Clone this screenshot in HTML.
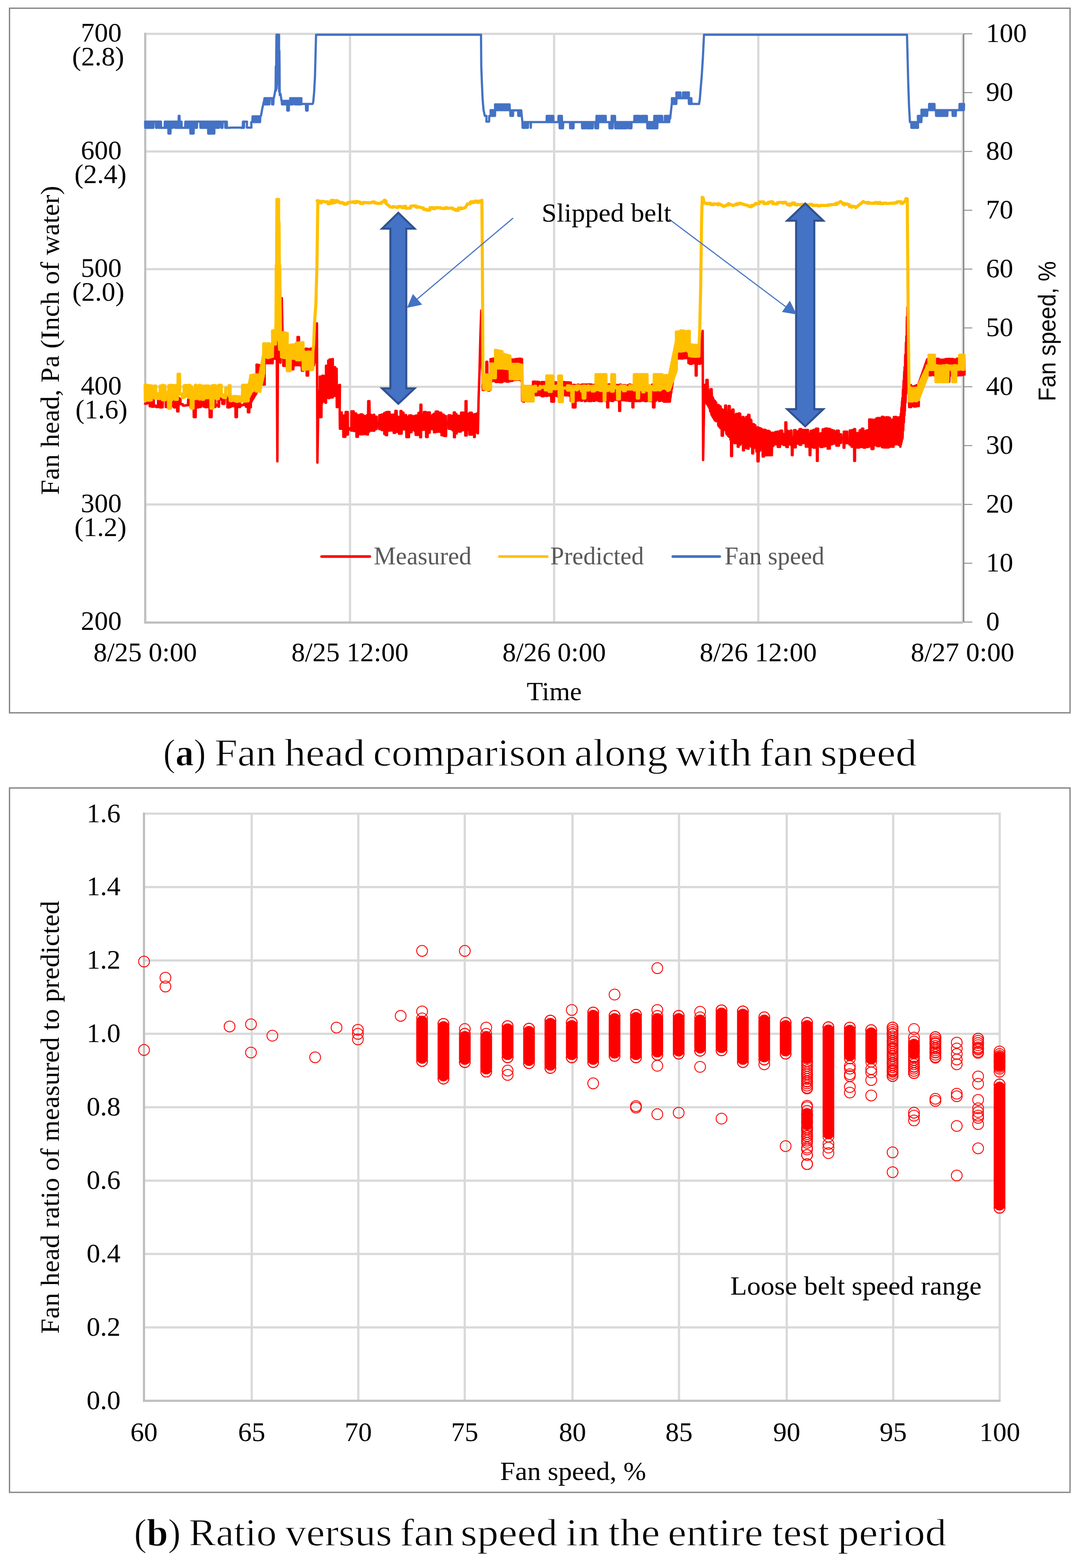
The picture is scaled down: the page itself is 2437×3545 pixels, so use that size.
<!DOCTYPE html>
<html><head><meta charset="utf-8"><title>Fan head comparison</title>
<style>html,body{margin:0;padding:0;background:#fff;}svg{display:block;}</style>
</head><body>
<svg xmlns="http://www.w3.org/2000/svg" width="2437" height="3545" viewBox="0 0 2437 3545">
<rect x="0" y="0" width="2437" height="3545" fill="#fff"/>
<rect x="21.5" y="18.6" width="2397.5" height="1593" fill="none" stroke="#868686" stroke-width="3"/>
<line x1="328.3" y1="76.4" x2="2176.5" y2="76.4" stroke="#d9d9d9" stroke-width="5"/>
<line x1="328.3" y1="342.4" x2="2176.5" y2="342.4" stroke="#d9d9d9" stroke-width="5"/>
<line x1="328.3" y1="608.4" x2="2176.5" y2="608.4" stroke="#d9d9d9" stroke-width="5"/>
<line x1="328.3" y1="874.4" x2="2176.5" y2="874.4" stroke="#d9d9d9" stroke-width="5"/>
<line x1="328.3" y1="1140.4" x2="2176.5" y2="1140.4" stroke="#d9d9d9" stroke-width="5"/>
<line x1="791.2" y1="76.4" x2="791.2" y2="1406.4" stroke="#d9d9d9" stroke-width="5"/>
<line x1="1252.7" y1="76.4" x2="1252.7" y2="1406.4" stroke="#d9d9d9" stroke-width="5"/>
<line x1="1714.2" y1="76.4" x2="1714.2" y2="1406.4" stroke="#d9d9d9" stroke-width="5"/>
<line x1="2175.5" y1="73.9" x2="2175.5" y2="1406.4" stroke="#d9d9d9" stroke-width="3"/>
<line x1="328.3" y1="73.9" x2="328.3" y2="1408.9" stroke="#bfbfbf" stroke-width="5"/>
<line x1="325.8" y1="1407.4" x2="2177" y2="1407.4" stroke="#bfbfbf" stroke-width="5"/>
<line x1="2178.5" y1="76.4" x2="2178.5" y2="1406.4" stroke="#868686" stroke-width="3"/>
<line x1="2178" y1="76.4" x2="2198" y2="76.4" stroke="#868686" stroke-width="2"/>
<line x1="2178" y1="209.4" x2="2198" y2="209.4" stroke="#868686" stroke-width="2"/>
<line x1="2178" y1="342.4" x2="2198" y2="342.4" stroke="#868686" stroke-width="2"/>
<line x1="2178" y1="475.4" x2="2198" y2="475.4" stroke="#868686" stroke-width="2"/>
<line x1="2178" y1="608.4" x2="2198" y2="608.4" stroke="#868686" stroke-width="2"/>
<line x1="2178" y1="741.4" x2="2198" y2="741.4" stroke="#868686" stroke-width="2"/>
<line x1="2178" y1="874.4" x2="2198" y2="874.4" stroke="#868686" stroke-width="2"/>
<line x1="2178" y1="1007.4" x2="2198" y2="1007.4" stroke="#868686" stroke-width="2"/>
<line x1="2178" y1="1140.4" x2="2198" y2="1140.4" stroke="#868686" stroke-width="2"/>
<line x1="2178" y1="1273.4" x2="2198" y2="1273.4" stroke="#868686" stroke-width="2"/>
<line x1="2178" y1="1406.4" x2="2198" y2="1406.4" stroke="#868686" stroke-width="2"/>
<text x="275" y="93.9" font-family="Liberation Serif, Times New Roman, serif" font-size="61.5" text-anchor="end" fill="#000">700</text>
<text x="280.8" y="147.9" font-family="Liberation Serif, Times New Roman, serif" font-size="61.5" text-anchor="end" fill="#000">(2.8)</text>
<text x="275" y="359.9" font-family="Liberation Serif, Times New Roman, serif" font-size="61.5" text-anchor="end" fill="#000">600</text>
<text x="286" y="413.9" font-family="Liberation Serif, Times New Roman, serif" font-size="61.5" text-anchor="end" fill="#000">(2.4)</text>
<text x="275" y="625.9" font-family="Liberation Serif, Times New Roman, serif" font-size="61.5" text-anchor="end" fill="#000">500</text>
<text x="281.3" y="679.9" font-family="Liberation Serif, Times New Roman, serif" font-size="61.5" text-anchor="end" fill="#000">(2.0)</text>
<text x="275" y="891.9" font-family="Liberation Serif, Times New Roman, serif" font-size="61.5" text-anchor="end" fill="#000">400</text>
<text x="288.3" y="945.9" font-family="Liberation Serif, Times New Roman, serif" font-size="61.5" text-anchor="end" fill="#000">(1.6)</text>
<text x="275" y="1157.9" font-family="Liberation Serif, Times New Roman, serif" font-size="61.5" text-anchor="end" fill="#000">300</text>
<text x="286" y="1211.9" font-family="Liberation Serif, Times New Roman, serif" font-size="61.5" text-anchor="end" fill="#000">(1.2)</text>
<text x="275" y="1423.9" font-family="Liberation Serif, Times New Roman, serif" font-size="61.5" text-anchor="end" fill="#000">200</text>
<text x="2229" y="95.4" font-family="Liberation Serif, Times New Roman, serif" font-size="61.5" fill="#000">100</text>
<text x="2229" y="228.4" font-family="Liberation Serif, Times New Roman, serif" font-size="61.5" fill="#000">90</text>
<text x="2229" y="361.4" font-family="Liberation Serif, Times New Roman, serif" font-size="61.5" fill="#000">80</text>
<text x="2229" y="494.4" font-family="Liberation Serif, Times New Roman, serif" font-size="61.5" fill="#000">70</text>
<text x="2229" y="627.4" font-family="Liberation Serif, Times New Roman, serif" font-size="61.5" fill="#000">60</text>
<text x="2229" y="760.4" font-family="Liberation Serif, Times New Roman, serif" font-size="61.5" fill="#000">50</text>
<text x="2229" y="893.4" font-family="Liberation Serif, Times New Roman, serif" font-size="61.5" fill="#000">40</text>
<text x="2229" y="1026.4" font-family="Liberation Serif, Times New Roman, serif" font-size="61.5" fill="#000">30</text>
<text x="2229" y="1159.4" font-family="Liberation Serif, Times New Roman, serif" font-size="61.5" fill="#000">20</text>
<text x="2229" y="1292.4" font-family="Liberation Serif, Times New Roman, serif" font-size="61.5" fill="#000">10</text>
<text x="2229" y="1425.4" font-family="Liberation Serif, Times New Roman, serif" font-size="61.5" fill="#000">0</text>
<text x="328.3" y="1495" font-family="Liberation Serif, Times New Roman, serif" font-size="61.5" text-anchor="middle" fill="#000">8/25 0:00</text>
<text x="791.2" y="1495" font-family="Liberation Serif, Times New Roman, serif" font-size="61.5" text-anchor="middle" fill="#000">8/25 12:00</text>
<text x="1252.7" y="1495" font-family="Liberation Serif, Times New Roman, serif" font-size="61.5" text-anchor="middle" fill="#000">8/26 0:00</text>
<text x="1714.2" y="1495" font-family="Liberation Serif, Times New Roman, serif" font-size="61.5" text-anchor="middle" fill="#000">8/26 12:00</text>
<text x="2176" y="1495" font-family="Liberation Serif, Times New Roman, serif" font-size="61.5" text-anchor="middle" fill="#000">8/27 0:00</text>
<text x="1253" y="1583" font-family="Liberation Serif, Times New Roman, serif" font-size="60" text-anchor="middle" fill="#000">Time</text>
<text transform="translate(132.5,769.5) rotate(-90)" font-family="Liberation Serif, Times New Roman, serif" font-size="60" text-anchor="middle" fill="#000" textLength="699" lengthAdjust="spacingAndGlyphs">Fan head, Pa (Inch of water)</text>
<text transform="translate(2385.6,748.8) rotate(-90)" font-family="Liberation Sans, Arial, sans-serif" font-size="56" text-anchor="middle" fill="#000" textLength="317" lengthAdjust="spacingAndGlyphs">Fan speed, %</text>
<polyline points="328,912.6 328.4,912.6 328.7,912.6 329.1,912.6 329.5,912.6 329.9,912.6 330.2,912.6 330.6,912.6 331,912.6 331.4,912.6 331.7,912.6 332.1,912.6 332.5,910.4 332.9,910.4 333.2,910.4 333.6,910.4 334,910.4 334.4,910.4 334.7,910.4 335.1,910.4 335.5,910.4 335.9,910.4 336.2,910.4 336.6,910.4 337,910.4 337.4,910.4 337.7,910.4 338.1,910.4 338.5,918.4 338.9,918.4 339.2,918.4 339.6,918.4 340,918.4 340.4,918.4 340.7,918.4 341.1,918.4 341.5,918.4 341.9,918.4 342.2,918.4 342.6,918.4 343,896.9 343.4,919.5 343.7,919.5 344.1,896.9 344.5,896.9 344.9,919.5 345.2,919.5 345.6,896.9 346,896.9 346.4,919.5 346.7,919.5 347.1,896.9 347.5,896.9 347.9,919.5 348.2,916.9 348.6,916.9 349,916.9 349.4,916.9 349.7,916.9 350.1,916.9 350.5,916.9 350.9,916.9 351.2,916.9 351.6,916.9 352,916.9 352.3,916.9 352.7,920.3 353.1,920.3 353.5,920.3 353.8,920.3 354.2,920.3 354.6,920.3 355,920.3 355.3,920.3 355.7,920.3 356.1,920.3 356.5,920.3 356.8,920.3 357.2,918.8 357.6,898.7 358,898.7 358.3,918.8 358.7,918.8 359.1,898.7 359.5,898.7 359.8,918.8 360.2,918.8 360.6,898.7 361,896.8 361.3,921 361.7,921 362.1,896.8 362.5,896.8 362.8,921 363.2,921 363.6,896.8 364,896.8 364.3,921 364.7,920.7 365.1,896.6 365.5,896.6 365.8,920.7 366.2,920.7 366.6,896.6 367,896.6 367.3,920.7 367.7,920.7 368.1,896.6 368.5,901.1 368.8,901.1 369.2,901.1 369.6,901.1 370,901.1 370.3,901.1 370.7,901.1 371.1,901.1 371.5,901.1 371.8,901.1 372.2,901.1 372.6,901.1 373,901.1 373.3,901.1 373.7,901.1 374.1,901.1 374.5,896.2 374.8,920.2 375.2,920.2 375.6,896.2 375.9,896.2 376.3,920.2 376.7,920.2 377.1,896.2 377.4,905.3 377.8,905.3 378.2,905.3 378.6,905.3 378.9,905.3 379.3,905.3 379.7,905.3 380.1,905.3 380.4,908.4 380.8,908.4 381.2,908.4 381.6,908.4 381.9,908.4 382.3,908.4 382.7,908.4 383.1,908.4 383.4,908.4 383.8,908.4 384.2,908.4 384.6,908.4 384.9,896.7 385.3,896.7 385.7,896.7 386.1,896.7 386.4,896.7 386.8,896.7 387.2,896.7 387.6,896.7 387.9,896.7 388.3,896.7 388.7,918.3 389.1,896.9 389.4,896.9 389.8,918.3 390.2,918.3 390.6,896.9 390.9,896.9 391.3,918.3 391.7,918.3 392.1,896.9 392.4,896.9 392.8,918.3 393.2,920.9 393.6,897.8 393.9,897.8 394.3,920.9 394.7,920.9 395.1,897.8 395.4,897.8 395.8,920.9 396.2,908.7 396.6,908.7 396.9,908.7 397.3,908.7 397.7,908.7 398.1,908.7 398.4,908.7 398.8,908.7 399.2,908.7 399.6,908.7 399.9,908.7 400.3,908.7 400.7,930 401,899.3 401.4,899.3 401.8,930 402.2,930 402.5,899.3 402.9,899.3 403.3,930 403.7,899.3 404,899.3 404.4,901.4 404.8,901.4 405.2,901.4 405.5,901.4 405.9,901.4 406.3,901.4 406.7,901.4 407,901.4 407.4,901.4 407.8,901.4 408.2,913.8 408.5,913.8 408.9,913.8 409.3,913.8 409.7,913.8 410,913.8 410.4,913.8 410.8,913.8 411.2,913.8 411.5,913.8 411.9,913.8 412.3,913.8 412.7,913.8 413,913.8 413.4,917 413.8,917 414.2,917 414.5,917 414.9,917 415.3,917 415.7,917 416,917 416.4,917 416.8,917 417.2,917 417.5,917 417.9,917 418.3,917 418.7,917 419,917 419.4,916.2 419.8,916.2 420.2,916.2 420.5,916.2 420.9,916.2 421.3,916.2 421.7,916.2 422,916.2 422.4,916.2 422.8,916.2 423.2,916.2 423.5,916.2 423.9,916.2 424.3,916.2 424.6,916.2 425,916.2 425.4,903.2 425.8,903.2 426.1,903.2 426.5,903.2 426.9,903.2 427.3,903.2 427.6,903.2 428,903.2 428.4,903.2 428.8,903.2 429.1,903.2 429.5,903.2 429.9,903.2 430.3,903.2 430.6,920.4 431,896.6 431.4,896.6 431.8,920.4 432.1,920.4 432.5,896.6 432.9,896.6 433.3,920.4 433.6,920.4 434,896.6 434.4,896.6 434.8,920.4 435.1,919.2 435.5,919.2 435.9,919.2 436.3,919.2 436.6,919.2 437,919.2 437.4,919.2 437.8,919.2 438.1,943 438.5,898.8 438.9,898.8 439.3,943 439.6,943 440,898.8 440.4,898.8 440.8,943 441.1,943 441.5,898.8 441.9,898.8 442.3,943 442.6,919.8 443,898.8 443.4,896.1 443.8,920.9 444.1,920.9 444.5,896.1 444.9,896.1 445.3,920.9 445.6,920.9 446,896.1 446.4,896.1 446.8,920.9 447.1,920.9 447.5,896.1 447.9,896.1 448.2,920.9 448.6,920.9 449,896.1 449.4,896.3 449.7,919.9 450.1,919.9 450.5,896.3 450.9,896.3 451.2,919.9 451.6,919.9 452,896.3 452.4,896.3 452.7,919.9 453.1,919.9 453.5,896.3 453.9,896.3 454.2,919.9 454.6,915.5 455,915.5 455.4,915.5 455.7,915.5 456.1,915.5 456.5,915.5 456.9,915.5 457.2,915.5 457.6,915.5 458,915.5 458.4,915.5 458.7,915.5 459.1,915.5 459.5,915.5 459.9,898.6 460.2,919.1 460.6,919.1 461,898.6 461.4,898.6 461.7,919.1 462.1,919.5 462.5,897 462.9,897 463.2,919.5 463.6,919.5 464,897 464.4,897 464.7,919.5 465.1,920.6 465.5,896.6 465.9,896.6 466.2,920.6 466.6,920.6 467,896.6 467.4,896.6 467.7,920.6 468.1,919.4 468.5,898.4 468.9,898.4 469.2,919.4 469.6,919.4 470,898.4 470.4,898.4 470.7,919.4 471.1,919.4 471.5,898.4 471.8,896.1 472.2,920.8 472.6,920.8 473,896.1 473.3,896.1 473.7,920.8 474.1,943 474.5,896.1 474.8,896.1 475.2,943 475.6,943 476,896.1 476.3,896.1 476.7,943 477.1,943 477.5,896.9 477.8,896.9 478.2,943 478.6,918.5 479,896.9 479.3,896.9 479.7,918.5 480.1,918.5 480.5,896.9 480.8,896.8 481.2,918.8 481.6,918.8 482,896.8 482.3,896.8 482.7,918.8 483.1,918.8 483.5,896.8 483.8,896.8 484.2,918.8 484.6,918.8 485,896.8 485.3,898.9 485.7,920 486.1,920 486.5,898.9 486.8,898.9 487.2,920 487.6,916 488,916 488.3,916 488.7,916 489.1,916 489.5,916 489.8,916 490.2,916 490.6,916 491,916 491.3,916 491.7,916 492.1,916 492.5,916 492.8,916 493.2,916 493.6,919.5 494,898.4 494.3,898.4 494.7,919.5 495.1,919.5 495.5,898.4 495.8,900.6 496.2,900.6 496.6,900.6 496.9,900.6 497.3,900.6 497.7,900.6 498.1,900.6 498.4,900.6 498.8,900.6 499.2,900.6 499.6,903.3 499.9,903.3 500.3,903.3 500.7,903.3 501.1,903.3 501.4,903.3 501.8,903.3 502.2,903.3 502.6,912.9 502.9,912.9 503.3,912.9 503.7,912.9 504.1,912.9 504.4,912.9 504.8,912.9 505.2,912.9 505.6,912.9 505.9,912.9 506.3,912.9 506.7,912.9 507.1,912.9 507.4,912.9 507.8,899.5 508.2,899.5 508.6,899.5 508.9,899.5 509.3,899.5 509.7,899.5 510.1,899.5 510.4,899.5 510.8,899.5 511.2,899.5 511.6,899.5 511.9,899.5 512.3,899.5 512.7,899.5 513.1,899.5 513.4,899.5 513.8,896.7 514.2,920.9 514.6,920.9 514.9,896.7 515.3,896.7 515.7,920.9 516.1,920.9 516.4,896.7 516.8,896.7 517.2,920.9 517.6,920.9 517.9,896.7 518.3,896.7 518.7,920.9 519.1,919.7 519.4,896.5 519.8,896.5 520.2,919.7 520.5,919.7 520.9,896.5 521.3,896.5 521.7,919.7 522,919.7 522.4,896.5 522.8,897.6 523.2,918.3 523.5,918.3 523.9,897.6 524.3,897.6 524.7,918.3 525,918.3 525.4,897.6 525.8,898.6 526.2,918 526.5,918 526.9,898.6 527.3,898.6 527.7,918 528,918 528.4,898.6 528.8,898.6 529.2,918 529.5,918 529.9,898.6 530.3,897.8 530.7,918.6 531,918.6 531.4,897.8 531.8,897.8 532.2,918.6 532.5,943 532.9,897.8 533.3,897.8 533.7,943 534,943 534.4,897.8 534.8,896.9 535.2,943 535.5,943 535.9,896.9 536.3,896.9 536.7,919.4 537,919.4 537.4,896.9 537.8,896.9 538.2,919.4 538.5,919.4 538.9,896.9 539.3,898.7 539.7,920.3 540,920.3 540.4,898.7 540.8,898.7 541.2,920.3 541.5,920.3 541.9,898.7 542.3,898.7 542.7,920.3 543,917 543.4,917 543.8,917 544.1,917 544.5,917 544.9,917 545.3,917 545.6,917 546,917 546.4,917 546.8,915.6 547.1,915.6 547.5,915.6 547.9,915.6 548.3,915.6 548.6,915.6 549,915.6 549.4,915.6 549.8,915.6 550.1,915.6 550.5,915.6 550.9,915.6 551.3,915.6 551.6,915.6 552,915.6 552.4,915.6 552.8,905.5 553.1,905.5 553.5,905.5 553.9,905.5 554.3,905.5 554.6,905.5 555,905.5 555.4,905.5 555.8,896.9 556.1,919.4 556.5,919.4 556.9,896.9 557.3,896.9 557.6,919.4 558,919.4 558.4,896.9 558.8,904.6 559.1,904.6 559.5,904.6 559.9,904.6 560.3,904.6 560.6,932 561,932 561.4,904.6 561.8,904.6 562.1,932 562.5,932 562.9,904.6 563.3,904.6 563.6,932 564,904.6 564.4,904.6 564.8,896.9 565.1,920.7 565.5,920.7 565.9,896.9 566.3,896.9 566.6,920.7 567,920.7 567.4,896.9 567,880 567.4,910 567.8,908.7 568.1,878.4 568.5,876.8 568.9,907.4 569.3,906.1 569.7,875.2 570.1,873.6 570.4,904.8 570.8,903.5 571.2,872.1 571.6,870.5 572,902.2 572.4,900.9 572.7,868.9 573.1,867.3 573.5,899.6 573.9,898.4 574.3,865.7 574.6,864.1 575,897.1 575.4,895.8 575.8,862.5 576.2,860.9 576.6,894.5 576.9,893.2 577.3,859.4 577.7,857.8 578.1,891.9 578.5,890.6 578.8,856.2 579.2,854.6 579.6,889.3 580,888 580.4,853 580,824.5 580.4,865.2 580.8,865.2 581.1,824.5 581.5,824.5 581.9,865.2 582.2,865.2 582.6,824.5 583,824.5 583.4,865.2 583.8,868.1 584.1,826.4 584.5,826.4 584.9,868.1 585.2,868.1 585.6,826.4 586,826.4 586.4,868.1 586.8,868.4 587.1,825.8 587.5,825.8 587.9,868.4 588.2,868.4 588.6,825.8 589,825.8 589.4,868.4 589.8,868.4 590.1,825.8 590.5,825.8 590.9,868.4 591.2,868.4 591.6,825.8 592,825.8 592.4,868.4 592.8,868.4 593.1,825.8 593.5,825.2 593.9,869.2 594.2,869.2 594.6,825.2 595,825.2 595.4,869.2 595.8,869.2 596.1,825.2 596.5,825.2 596.9,869.2 597.2,869.2 597.6,825.2 598,825.2 598.4,869.2 598,813 598.4,821 598.8,821 599.1,813 599.5,813 599.9,821 600.2,821 600.6,813 601,813 601.4,821 601.8,821 602.1,813 602.5,813 602.9,821 603.2,821 603.6,813 604,813 604.4,821 604.8,821 605.1,813 605.5,813 605.9,821 606.2,821 606.6,813 607,813 607.4,821 607.8,821 608.1,813 608.5,813 608.9,821 609.2,821 609.6,813 610,813 610.4,821 610.8,821 611.1,813 611.5,813 611.9,821 612.2,821 612.6,813 613,813 613.4,821 613.8,821 614.1,813 614.5,813 614.9,821 615.2,821 615.6,813 616,813 616.4,821 616,782 616.4,811 616.8,811 617.1,782 617.5,782 617.9,811 618.2,811 618.6,782 619,782 619.4,811 619.8,811 620.1,782 620.5,782 620.9,811 621.2,811 621.6,782 622,782 622.4,811 623,790 625.5,760 627,1043 629,687 631,800 634,820 637,674 639.5,790 640,791.5 640.4,827 640.8,827 641.1,791.5 641.5,791.5 641.9,827 642.3,827 642.6,791.5 643,791.5 643.4,827 643.8,827 644.1,791.5 644.5,791.5 644.9,827 645.3,827 645.6,791.5 646,791.3 646.4,827.5 646.8,827.5 647.1,791.3 647.5,791.3 647.9,827.5 648.3,827.5 648.7,791.3 649,791.3 649.4,827.5 649.8,827.5 650.2,791.3 650.5,788 650.9,827.5 651.3,825.2 651.7,788 652,788 652.4,825.2 652.8,825.2 653.2,788 653.5,790 653.9,825.2 654.3,825.2 654.7,790 655.1,790 655.4,825.2 655.8,825.2 656.2,790 656.6,790 656.9,825.2 657.3,827 657.7,788.8 658.1,788.8 658.4,827 658.8,827 659.2,788.8 659.6,788.8 659.9,827 660.3,835 660.7,788.8 661.1,788.8 661.5,835 661.8,835 662.2,788.8 662.6,788.8 663,835 663.3,826.2 663.7,788.4 664.1,788.4 664.5,826.2 664.8,826.2 665.2,788.4 665.6,788.4 666,826.2 666.3,824.8 666.7,788.2 667.1,788.2 667.5,824.8 667.8,824.8 668.2,788.2 668.6,788.2 669,824.8 669.4,825.4 669.7,790.8 670.1,790.8 670.5,825.4 670.9,825.4 671.2,790.8 671.6,790.8 672,825.4 672.4,825.4 672.7,762 673.1,762 673.5,825.4 673.9,825.4 674.2,762 674.6,762 675,825.4 675.4,825.4 675.8,762 676.1,788.8 676.5,825.4 676.9,825.4 677.3,788.8 677.6,788.8 678,825.4 678.4,825.4 678.8,788.8 679.1,792 679.5,826.6 679.9,826.6 680.3,792 680.6,792 681,826.6 681.4,826.6 681.8,792 682.2,791.3 682.5,838 682.9,838 683.3,791.3 683.7,791.3 684,838 684.4,838 684.8,791.3 685.2,791.3 685.5,838 685.9,838 686.3,791.3 686.7,791.3 687,826.2 687.4,825 687.8,789.6 688.2,789.6 688.5,825 688.9,825 689.3,789.6 689.7,789.6 690.1,825 690.4,825.3 690.8,788.5 691.2,788.5 691.6,825.3 691.9,825.3 692.3,788.5 692.7,788.5 693.1,825.3 693.4,849 693.8,788.5 694.2,788.5 694.6,849 694.9,849 695.3,788.5 695.7,788.5 696.1,849 696.5,849 696.8,790.2 697.2,790.2 697.6,824.1 698,824.1 698.3,790.2 698.7,791.8 699.1,827.9 699.5,827.9 699.8,791.8 700.2,791.8 700.6,827.9 701,827.9 701.3,791.8 701.7,788.3 702.1,825.6 702.5,825.6 702.8,788.3 703.2,788.3 703.6,825.6 704,825.6 704.4,788.3 704.7,788.3 705.1,825.6 705.5,825.6 705.9,788.3 706.2,788.3 706.6,825.6 707,825.5 707.4,792 707.7,792 708.1,825.5 708.5,825.5 708.9,792 709.2,792 709.6,825.5 710,825.5 710.4,792 712,820 714.5,760 716.5,731 717.5,1046 720,900 723,880 723,851.6 723.4,943 723.7,943 724.1,851.6 724.5,851.6 724.8,943 725.2,943 725.6,851.6 725.9,851.6 726.3,943 726.7,943 727.1,851.6 727.4,851.6 727.8,912 728.2,912 728.5,851.6 728.9,849.4 729.3,907.5 729.6,907.5 730,849.4 730.4,849.4 730.7,907.5 731.1,907.5 731.5,849.4 731.8,849.4 732.2,907.5 732.6,907.5 733,851 733.3,851 733.7,907.5 734.1,907.5 734.4,851 734.8,851 735.2,907.5 735.5,910.5 735.9,849.7 736.3,849.7 736.6,910.5 737,910.5 737.4,849.7 737,826.9 737.4,883.4 737.7,883.4 738.1,826.9 738.4,826.9 738.8,883.4 739.1,883.4 739.5,826.9 739.9,826.9 740.2,883.4 740.6,883.5 740.9,827.6 741.3,827.6 741.7,883.5 742,883.5 742.4,827.6 742,815.3 742.4,899.9 742.8,899.9 743.1,815.3 743.5,815.3 743.9,899.9 744.3,899.9 744.7,815.3 745.1,812.7 745.5,898.6 745.8,898.6 746.2,812.7 746.6,812.7 747,898.6 747.4,898.6 747.8,812.7 748.2,812.7 748.5,898.6 748.9,898.6 749.3,812.7 749.7,812.7 750.1,898.6 750.5,898.7 750.8,812 751.2,812 751.6,898.7 752,898.7 752.4,812 752,830.3 752.4,881.6 752.8,881.6 753.1,830.3 753.5,830.3 753.9,881.6 754.2,881.6 754.6,830.3 755,830.3 755.4,895 755.8,895 756.1,830.3 756.5,830.3 756.9,895 757.2,881.6 757.6,830.3 758,833.8 758.4,880.1 758.8,880.1 759.1,833.8 759.5,833.8 759.9,880.1 760.2,880.1 760.6,833.8 761,833.8 761.4,880.1 761,871.7 761.4,920.2 761.8,920.2 762.2,871.7 762.6,871.7 762.9,920.2 763.3,920.2 763.7,871.7 764.1,871.7 764.5,920.2 764.9,920.2 765.3,871.7 765.7,871.7 766,920.2 766.4,920.2 766.8,871.7 767.2,870.3 767.6,918 768,918 768.4,870.3 768,932.6 768.4,969.2 768.8,969.2 769.1,932.6 769.5,932.6 769.9,969.2 770.2,969.2 770.6,932.6 771,932.6 771.4,969.2 771.8,969.2 772.1,932.6 772.5,932.6 772.9,969.2 773.2,942.5 773.6,942.5 774,942.5 774.4,942.5 774.8,942.5 775.1,942.5 775.5,942.5 775.9,942.5 776.2,987.4 776.6,939.4 777,939.4 777.4,987.4 777.8,987.4 778.1,939.4 778.5,939.4 778.9,987.4 779.2,987.4 779.6,939.4 780,939.4 780.4,987.4 780.8,987.4 781.1,939.4 781.5,931.4 781.9,982.4 782.2,982.4 782.6,931.4 783,931.4 783.4,982.4 783.8,982.4 784.1,931.4 784.5,931.4 784.9,982.4 785.2,982.4 785.6,931.4 786,931.4 786.4,982.4 786.8,971.1 787.1,971.1 787.5,971.1 787.9,971.1 788.2,971.1 788.6,971.1 789,971.1 789.4,971.1 789.8,971.1 790.1,971.1 790.5,971.1 790.9,971.1 791.2,967.9 791.6,967.9 792,967.9 792.4,967.9 792.8,967.9 793.1,967.9 793.5,967.9 793.9,967.9 794.2,973.5 794.6,929.9 795,929.9 795.4,973.5 795.8,973.5 796.1,929.9 796.5,929.9 796.9,973.5 797.2,973.5 797.6,929.9 798,929.9 798.4,973.5 798.8,973.5 799.1,929.9 799.5,929.9 799.9,973.5 800.2,974.3 800.6,934.8 801,934.8 801.4,974.3 801.8,974.3 802.1,934.8 802.5,934.8 802.9,974.3 803.2,974.3 803.6,934.8 804,934.8 804.4,974.3 804.8,974.3 805.1,934.8 805.5,938.4 805.9,987.6 806.2,987.6 806.6,938.4 807,938.4 807.4,987.6 807.8,987.6 808.1,938.4 808.5,938.4 808.9,987.6 809.2,987.6 809.6,938.4 810,941.6 810.4,981.6 810.8,981.6 811.1,941.6 811.5,941.6 811.9,981.6 812.2,981.6 812.6,941.6 813,941.6 813.4,981.6 813.8,981.6 814.1,941.6 814.5,936.9 814.9,981.8 815.2,981.8 815.6,936.9 816,936.9 816.4,981.8 816.8,981.8 817.1,936.9 817.5,936.9 817.9,981.8 818.2,981.8 818.6,936.9 819,936.9 819.4,981.8 819.8,938.7 820.1,938.7 820.5,938.7 820.9,938.7 821.2,938.7 821.6,938.7 822,940.7 822.4,981.5 822.8,981.5 823.1,940.7 823.5,940.7 823.9,981.5 824.2,981.5 824.6,940.7 825,940.7 825.4,981.5 825.8,971.8 826.1,942.3 826.5,942.3 826.9,971.8 827.2,971.8 827.6,942.3 828,942.3 828.4,971.8 828.8,971.8 829.1,942.3 829.5,938.7 829.9,982.3 830.2,982.3 830.6,938.7 831,938.7 831.4,982.3 831.8,982.3 832.1,938.7 832.5,907 832.9,975.7 833.2,975.7 833.6,907 834,907 834.4,975.7 834.8,975.7 835.1,907 835.5,937.3 835.9,971.7 836.2,971.7 836.6,937.3 837,937.3 837.4,971.7 837.8,971.7 838.1,937.3 838.5,939.3 838.9,973.5 839.2,973.5 839.6,939.3 840,939.3 840.4,973.5 840.8,973.5 841.1,939.3 841.5,939.3 841.9,973.5 842.2,973.5 842.6,939.3 843,939.3 843.4,973.5 843.8,973.5 844.1,939.3 844.5,937.8 844.9,973.8 845.2,973.8 845.6,937.8 846,937.8 846.4,973.8 846.8,969.9 847.1,942.2 847.5,942.2 847.9,969.9 848.2,969.9 848.6,942.2 849,942.2 849.4,969.9 849.8,969.9 850.1,942.2 850.5,942.2 850.9,969.9 851.2,969.9 851.6,942.2 852,963.5 852.4,963.5 852.8,963.5 853.1,963.5 853.5,963.5 853.9,963.5 854.2,963.5 854.6,963.5 855,963.5 855.4,963.5 855.8,963.5 856.1,963.5 856.5,963.5 856.9,963.5 857.2,969.9 857.6,938.8 858,938.8 858.4,969.9 858.8,969.9 859.1,938.8 859.5,938.8 859.9,969.9 860.2,969.9 860.6,938.8 861,938.8 861.4,969.9 861.8,969.9 862.1,938.8 862.5,937.3 862.9,972.3 863.2,972.3 863.6,937.3 864,937.3 864.4,972.3 864.8,972.3 865.1,937.3 865.5,937.3 865.9,972.3 866.2,972.3 866.6,937.3 867,937.3 867.4,972.3 867.8,972.3 868.1,937.3 868.5,934.1 868.9,981.2 869.2,981.2 869.6,934.1 870,934.1 870.4,981.2 870.8,981.2 871.1,934.1 871.5,934.1 871.9,981.2 872.2,983.7 872.6,932.1 873,932.1 873.4,983.7 873.8,983.7 874.1,932.1 874.5,932.1 874.9,983.7 875.2,973.5 875.6,931.5 876,931.5 876.4,973.5 876.8,973.5 877.1,931.5 877.5,931.5 877.9,973.5 878.2,973.5 878.6,931.5 879,931.5 879.4,973.5 879.8,973.5 880.1,931.5 880.5,931.5 880.9,973.5 881.2,942.4 881.6,942.4 882,942.4 882.4,942.4 882.8,942.4 883.1,942.4 883.5,942.4 883.9,942.4 884.2,973.1 884.6,937.8 885,937.8 885.4,973.1 885.8,973.1 886.1,937.8 886.5,937.8 886.9,973.1 887.2,973.1 887.6,937.8 888,937.8 888.4,973.1 888.8,973.1 889.1,937.8 889.5,937.8 889.9,973.1 890.2,978.5 890.6,937.2 891,937.2 891.4,978.5 891.8,978.5 892.1,937.2 892.5,937.2 892.9,978.5 893.2,978.5 893.6,937.2 894,929 894.4,972.9 894.8,972.9 895.1,929 895.5,929 895.9,972.9 896.2,972.9 896.6,929 897,942.4 897.4,976.3 897.8,976.3 898.1,942.4 898.5,942.4 898.9,976.3 899.2,976.3 899.6,942.4 900,942.4 900.4,976.3 900.8,976.3 901.1,942.4 901.5,942.4 901.9,976.3 902.2,980.5 902.6,980.5 903,980.5 903.4,980.5 903.8,980.5 904.1,980.5 904.5,980.5 904.9,980.5 905.2,980.2 905.6,929.2 906,929.2 906.4,980.2 906.8,980.2 907.1,929.2 907.5,929.2 907.9,980.2 908.2,970.8 908.6,933 909,933 909.4,970.8 909.8,970.8 910.1,933 910.5,933 910.9,970.8 911.2,970.8 911.6,933 912,933 912.4,970.8 912.8,970.4 913.1,938.5 913.5,938.5 913.9,970.4 914.2,970.4 914.6,938.5 915,938.5 915.4,970.4 915.8,970.4 916.1,938.5 916.5,938.5 916.9,970.4 917.2,970.4 917.6,938.5 918,938.5 918.4,970.4 918.8,988.2 919.1,942.5 919.5,942.5 919.9,988.2 920.2,988.2 920.6,942.5 921,942.5 921.4,988.2 921.8,988.2 922.1,942.5 922.5,942.5 922.9,988.2 923.2,988.2 923.6,942.5 924,942.5 924.4,988.2 924.8,976.9 925.1,939.2 925.5,939.2 925.9,976.9 926.2,976.9 926.6,939.2 927,939.2 927.4,976.9 927.8,976.9 928.1,939.2 928.5,939.2 928.9,976.9 929.2,976.9 929.6,939.2 930,939.2 930.4,976.9 930.8,961.1 931.1,961.1 931.5,961.1 931.9,961.1 932.2,961.1 932.6,961.1 933,961.1 933.4,961.1 933.8,971.9 934.1,940.9 934.5,940.9 934.9,971.9 935.2,971.9 935.6,940.9 936,940.9 936.4,971.9 936.8,971.9 937.1,940.9 937.5,942 937.9,974.6 938.2,974.6 938.6,942 939,942 939.4,974.6 939.8,983 940.1,939.4 940.5,939.4 940.9,983 941.2,983 941.6,939.4 942,939.4 942.4,983 942.8,983 943.1,939.4 943.5,939.4 943.9,983 944.2,983 944.6,939.4 945,939.4 945.4,983 945.8,982.8 946.1,933.6 946.5,933.6 946.9,982.8 947.2,982.8 947.6,933.6 948,933.6 948.4,982.8 948.8,982.8 949.1,933.6 949.5,932 949.9,988.6 950.2,988.6 950.6,915 951,915 951.4,988.6 951.8,988.6 952.1,915 952.5,915 952.9,971.6 953.2,971.6 953.6,939 954,939 954.4,971.6 954.8,971.6 955.1,939 955.5,939 955.9,971.6 956.2,971.6 956.6,939 957,939 957.4,971.6 957.8,971.6 958.1,939 958.5,931.4 958.9,971 959.2,971 959.6,931.4 960,931.4 960.4,971 960.8,971 961.1,931.4 961.5,931.4 961.9,971 962.2,971 962.6,931.4 963,940.7 963.4,987.9 963.8,987.9 964.1,940.7 964.5,940.7 964.9,987.9 965.2,987.9 965.6,940.7 966,940.7 966.4,987.9 966.8,987.9 967.1,940.7 967.5,932.6 967.9,978.2 968.2,978.2 968.6,932.6 969,932.6 969.4,978.2 969.8,978.2 970.1,932.6 970.5,932.6 970.9,978.2 971.2,978.2 971.6,932.6 972,941.6 972.4,969.9 972.8,969.9 973.1,941.6 973.5,941.6 973.9,969.9 974.2,969.9 974.6,941.6 975,941.6 975.4,969.9 975.8,969.9 976.1,941.6 976.5,941.6 976.9,969.9 977.2,969.9 977.6,941.6 978,937.8 978.4,970.2 978.8,970.2 979.1,937.8 979.5,937.8 979.9,970.2 980.2,970.2 980.6,937.8 981,935.5 981.4,977.2 981.8,977.2 982.1,935.5 982.5,935.5 982.9,977.2 983.2,977.2 983.6,935.5 984,935.5 984.4,977.2 984.8,976.1 985.1,930.5 985.5,930.5 985.9,976.1 986.2,976.1 986.6,930.5 987,930.5 987.4,976.1 987.8,976.1 988.1,930.5 988.5,930.5 988.9,976.1 989.2,976.1 989.6,930.5 990,930.5 990.4,976.1 990.8,970 991.1,932.7 991.5,932.7 991.9,970 992.2,970 992.6,932.7 993,932.7 993.4,970 993.8,976 994.1,933.3 994.5,933.3 994.9,976 995.2,976 995.6,933.3 996,933.3 996.4,976 996.8,976 997.1,933.3 997.5,933.3 997.9,976 998.2,983.9 998.6,937.6 999,937.6 999.4,983.9 999.8,983.9 1000.1,937.6 1000.5,937.6 1000.9,983.9 1001.2,983.9 1001.6,937.6 1002,937.6 1002.4,983.9 1002.8,983.9 1003.1,937.6 1003.5,940.7 1003.9,985.6 1004.2,985.6 1004.6,940.7 1005,940.7 1005.4,985.6 1005.8,985.6 1006.1,940.7 1006.5,940.7 1006.9,985.6 1007.2,985.6 1007.6,940.7 1008,940.7 1008.4,985.6 1008.8,958 1009.1,958 1009.5,958 1009.9,958 1010.2,958 1010.6,958 1011,958 1011.4,958 1011.8,958 1012.1,958 1012.5,958 1012.9,958 1013.2,958 1013.6,958 1014,938.9 1014.4,969.2 1014.8,969.2 1015.1,938.9 1015.5,938.9 1015.9,969.2 1016.2,969.2 1016.6,938.9 1017,938.9 1017.4,969.2 1017.8,969.2 1018.1,938.9 1018.5,938.9 1018.9,969.2 1019.2,969.9 1019.6,940.4 1020,940.4 1020.4,969.9 1020.8,969.9 1021.1,940.4 1021.5,940.4 1021.9,969.9 1022.2,969.9 1022.6,940.4 1023,940.6 1023.4,973 1023.8,973 1024.1,940.6 1024.5,940.6 1024.9,973 1025.2,973 1025.6,940.6 1026,932.6 1026.4,988.5 1026.8,988.5 1027.1,932.6 1027.5,932.6 1027.9,988.5 1028.2,988.5 1028.6,932.6 1029,936.6 1029.4,980.1 1029.8,980.1 1030.1,936.6 1030.5,936.6 1030.9,980.1 1031.2,980.1 1031.6,936.6 1032,936.6 1032.4,980.1 1032.8,975.6 1033.1,940.2 1033.5,940.2 1033.9,975.6 1034.2,975.6 1034.6,940.2 1035,940.2 1035.4,975.6 1035.8,975.6 1036.1,940.2 1036.5,940.2 1036.9,975.6 1037.2,975.6 1037.6,940.2 1038,940.7 1038.4,975.8 1038.8,975.8 1039.1,940.7 1039.5,940.7 1039.9,975.8 1040.2,975.8 1040.6,940.7 1041,940.7 1041.4,975.8 1041.8,975.8 1042.1,940.7 1042.5,932.9 1042.9,972.5 1043.2,972.5 1043.6,932.9 1044,932.9 1044.4,972.5 1044.8,972.5 1045.1,932.9 1045.5,932.9 1045.9,972.5 1046.2,972.5 1046.6,932.9 1047,932.9 1047.4,972.5 1047.8,972.5 1048.1,932.9 1048.5,955 1048.9,955 1049.2,955 1049.6,955 1050,955 1050.4,955 1050.8,955 1051.1,955 1051.5,939.1 1051.9,984.4 1052.2,984.4 1052.6,907 1053,907 1053.4,984.4 1053.8,984.4 1054.1,907 1054.5,907 1054.9,984.4 1055.2,971.3 1055.6,935.7 1056,935.7 1056.4,971.3 1056.8,971.3 1057.1,935.7 1057.5,935.7 1057.9,971.3 1058.2,971.3 1058.6,935.7 1059,935.7 1059.4,971.3 1059.8,971.3 1060.1,935.7 1060.5,935.7 1060.9,971.3 1061.2,982.4 1061.6,933.3 1062,933.3 1062.4,982.4 1062.8,982.4 1063.1,933.3 1063.5,933.3 1063.9,982.4 1064.2,982.4 1064.6,933.3 1065,933.3 1065.4,982.4 1065.8,982.4 1066.1,933.3 1066.5,933.3 1066.9,982.4 1067.2,970.2 1067.6,936.9 1068,936.9 1068.4,970.2 1068.8,970.2 1069.1,936.9 1069.5,936.9 1069.9,970.2 1070.2,970.2 1070.6,936.9 1071,936.9 1071.4,970.2 1071.8,987.9 1072.1,937.8 1072.5,937.8 1072.9,987.9 1073.2,987.9 1073.6,937.8 1074,936.2 1074.4,976.3 1074.8,976.3 1075.1,936.2 1075.5,936.2 1075.9,976.3 1076.2,976.3 1076.6,936.2 1077,936.2 1077.4,976.3 1077.8,976.3 1078.1,936.2 1078.5,936.2 1078.9,976.3 1079.2,979.6 1079.6,933.8 1080,933.8 1080.4,979.6 1082,900 1084,840 1086,760 1088,702 1090,830 1091,846.8 1091.4,881.5 1091.8,881.5 1092.1,846.8 1092.5,846.8 1092.9,881.5 1093.2,881.5 1093.6,846.8 1094,846.8 1094.4,881.5 1094.8,881.5 1095.1,846.8 1095.5,847.5 1095.9,880.2 1096.2,880.2 1096.6,847.5 1097,847.5 1097.4,880.2 1097.8,880.2 1098.1,847.5 1098.5,847.5 1098.9,880.2 1099.2,880.2 1099.6,818 1100,818 1100.4,881.5 1100.8,881.5 1101.1,818 1101.5,818 1101.9,881.5 1102.2,881.5 1102.6,848.2 1103,848.2 1103.4,883 1103.8,883 1104.1,846.9 1104.5,846.9 1104.9,883 1105.2,883 1105.6,846.9 1106,846.9 1106.4,883 1106.8,881.3 1107.1,846.9 1107.5,847 1107.9,880.8 1108.2,880.8 1108.6,847 1109,847 1109.4,880.8 1109,812 1109.4,861.4 1109.7,861.4 1110.1,812 1110.5,812 1110.8,861.4 1111.2,861.4 1111.6,812 1111.9,812 1112.3,861.4 1112.7,861.4 1113,812 1113.4,812 1113.8,861.4 1114.1,861.1 1114.5,810.9 1114.9,810.9 1115.2,861.1 1115.6,861.1 1116,810.9 1116.3,810.9 1116.7,861.1 1117.1,861.1 1117.4,810.9 1117.8,811.6 1118.2,860.4 1118.5,860.4 1118.9,811.6 1119.3,811.6 1119.6,860.4 1120,860.4 1120.4,811.6 1120,828.9 1120.4,863.5 1120.8,863.5 1121.1,828.9 1121.5,828.9 1121.9,863.5 1122.2,863.5 1122.6,828.9 1123,828.9 1123.4,863.5 1123.8,863.5 1124.1,828.9 1124.5,828.9 1124.9,863.5 1125.2,860.2 1125.6,830.5 1126,830.5 1126.4,860.2 1126.8,860.2 1127.1,830.5 1127.5,830.5 1127.9,860.2 1128.2,863.7 1128.6,828.8 1129,828.8 1129.4,863.7 1129.8,863.7 1130.1,828.8 1130.5,828.8 1130.9,863.7 1131.2,863.9 1131.6,831.9 1132,831.9 1132.4,863.9 1132.8,863.9 1133.1,831.9 1133.5,831.9 1133.9,863.9 1134.2,863.9 1134.6,831.9 1135,831.9 1135.4,863.9 1135.8,862.2 1136.1,828.4 1136.5,828.4 1136.9,862.2 1137.2,862.2 1137.6,828.4 1138,828.4 1138.4,862.2 1138.8,862.2 1139.1,828.4 1139.5,830.1 1139.9,861.3 1140.2,861.3 1140.6,830.1 1141,830.1 1141.4,861.3 1141.8,861.3 1142.1,830.1 1142.5,830.1 1142.9,861.3 1143.2,861.3 1143.6,830.1 1144,830.1 1144.4,861.3 1144.8,862.7 1145.1,829.5 1145.5,829.5 1145.9,862.7 1146.2,862.7 1146.6,829.5 1147,829.5 1147.4,862.7 1147.8,862.7 1148.1,829.5 1148.5,829.5 1148.9,862.7 1149.2,862.7 1149.6,829.5 1150,829.5 1150.4,862.7 1150.8,861.2 1151.1,830.3 1151.5,830.3 1151.9,861.2 1152.2,861.2 1152.6,830.3 1153,830.3 1153.4,861.2 1153,812.7 1153.4,861.2 1153.8,861.2 1154.1,812.7 1154.5,812.7 1154.9,861.2 1155.2,861.2 1155.6,812.7 1156,812.7 1156.4,861.2 1156.8,861.2 1157.1,812.7 1157.5,812.7 1157.9,861.2 1158.2,859.3 1158.6,812.9 1159,812.9 1159.4,859.3 1159.8,859.3 1160.1,812.9 1160.5,812.9 1160.9,859.3 1161.2,859.3 1161.6,812.9 1162,812.9 1162.4,859.3 1162.8,859.3 1163.1,812.9 1163.5,812.8 1163.9,858.7 1164.2,858.7 1164.6,812.8 1165,812.8 1165.4,858.7 1165.8,858.7 1166.1,812.8 1166.5,811.7 1166.9,858.6 1167.2,858.6 1167.6,811.7 1168,811.7 1168.4,858.6 1168.8,858.6 1169.1,811.7 1169.5,811.7 1169.9,858.6 1170.2,858.6 1170.6,811.7 1171,811.7 1171.4,858.6 1171.8,858.6 1172.1,811.7 1172.5,811.2 1172.9,858.6 1173.2,858.6 1173.6,811.2 1174,811.2 1174.4,858.6 1174.8,858.6 1175.1,811.2 1175.5,811.2 1175.9,858.6 1176.2,858.6 1176.6,811.2 1177,811.2 1177.4,858.6 1177.8,858.6 1178.1,811.2 1178.5,812.1 1178.9,861.9 1179.2,861.9 1179.6,812.1 1180,812.1 1180.4,861.9 1180,874.4 1180.4,906 1180.8,906 1181.1,874.4 1181.5,874.4 1181.9,906 1182.3,907.7 1182.6,874.9 1183,874.9 1183.4,907.7 1183.8,907.7 1184.2,874.9 1184.5,874.9 1184.9,907.7 1185.3,905.2 1185.7,874.4 1186.1,874.4 1186.4,905.2 1186.8,905.2 1187.2,874.4 1187.6,874.4 1188,905.2 1188.3,905.2 1188.7,874.4 1189.1,874.4 1189.5,905.2 1189.8,905.8 1190.2,873.1 1190.6,873.1 1191,905.8 1191.4,905.8 1191.7,873.1 1192.1,873.1 1192.5,905.8 1192.9,905.8 1193.3,873.1 1193.6,873.9 1194,905.6 1194.4,905.6 1194.8,873.9 1195.2,873.9 1195.5,905.6 1195.9,905.6 1196.3,873.9 1196.7,873.6 1197,906.6 1197.4,906.6 1197.8,873.6 1198.2,873.6 1198.6,906.6 1198.9,906.6 1199.3,873.6 1199.7,873.6 1200.1,906.6 1200.5,906.6 1200.8,873.6 1201.2,873.2 1201.6,905.2 1202,905.2 1202.3,873.2 1202.7,873.2 1203.1,905.2 1203.5,905.2 1203.9,873.2 1204.2,873.2 1204.6,905.2 1205,905.2 1205.4,873.2 1205,863 1205.4,892.2 1205.8,892.2 1206.1,863 1206.5,863 1206.9,892.2 1207.3,892.2 1207.6,863 1208,863 1208.4,892.2 1208.8,892.2 1209.1,863 1209.5,863 1209.9,892.2 1210.3,892.2 1210.6,863 1211,863.2 1211.4,893.6 1211.8,893.6 1212.1,863.2 1212.5,863.2 1212.9,893.6 1213.3,893.6 1213.6,863.2 1214,863.2 1214.4,893.6 1214.8,892.5 1215.2,863.5 1215.5,863.5 1215.9,892.5 1216.3,892.5 1216.7,863.5 1217,863.5 1217.4,892.5 1217.8,892.5 1218.2,863.5 1218.5,863.5 1218.9,892.5 1219.3,893.4 1219.7,865.3 1220,865.3 1220.4,893.4 1220.8,893.4 1221.2,865.3 1221.5,865.3 1221.9,893.4 1222.3,893.4 1222.7,865.3 1223.1,865.3 1223.4,893.4 1223.8,893.4 1224.2,865.3 1224.6,863.7 1224.9,895.7 1225.3,895.7 1225.7,863.7 1226.1,863.7 1226.4,895.7 1226.8,895.7 1227.2,863.7 1227.6,863.7 1227.9,895.7 1228.3,895.7 1228.7,863.7 1229.1,863.7 1229.4,895.7 1229.8,892.1 1230.2,863.9 1230.6,863.9 1231,892.1 1231.3,892.1 1231.7,863.9 1232.1,863.9 1232.5,892.1 1232.8,892.1 1233.2,863.9 1233.6,863.9 1234,892.1 1234.3,894.9 1234.7,863.6 1235.1,863.6 1235.5,894.9 1235.8,894.9 1236.2,863.6 1236.6,863.6 1237,894.9 1237.3,894.9 1237.7,863.6 1238.1,864 1238.5,892.6 1238.8,892.6 1239.2,864 1239.6,864 1240,892.6 1240.4,892.6 1240.7,864 1241.1,864 1241.5,892.6 1241.9,894.2 1242.2,863.9 1242.6,863.9 1243,894.2 1243.4,894.2 1243.7,863.9 1244.1,863.9 1244.5,894.2 1244.9,894.2 1245.2,863.9 1245.6,863.9 1246,894.2 1246.4,908 1246.7,863.9 1247.1,864 1247.5,908 1247.9,908 1248.3,864 1248.6,864 1249,908 1249.4,908 1249.8,864 1250.1,864 1250.5,908 1250.9,908 1251.3,864.3 1251.6,864.3 1252,908 1252.4,908 1252.8,864.3 1253.1,864.3 1253.5,894.2 1253.9,894.2 1254.3,864.3 1254.6,864.8 1255,894.6 1255.4,894.6 1255.8,864.8 1256.2,864.8 1256.5,894.6 1256.9,894.6 1257.3,864.8 1257.7,864.8 1258,894.6 1258.4,894.6 1258.8,864.8 1259.2,864.8 1259.5,894.6 1259.9,895.9 1260.3,865.4 1260.7,865.4 1261,895.9 1261.4,895.9 1261.8,865.4 1262.2,865.4 1262.5,895.9 1262.9,895.9 1263.3,865.4 1263.7,865.9 1264,894.8 1264.4,894.8 1264.8,865.9 1265.2,865.9 1265.6,894.8 1265.9,894.8 1266.3,865.9 1266.7,865.9 1267.1,894.8 1267.4,894.8 1267.8,865.9 1268.2,865.9 1268.6,894.8 1268.9,894.2 1269.3,865.6 1269.7,865.6 1270.1,894.2 1270.4,894.2 1270.8,865.6 1271.2,865.6 1271.6,894.2 1271.9,894.2 1272.3,865.6 1272.7,864.1 1273.1,892.9 1273.5,892.9 1273.8,864.1 1274.2,864.1 1274.6,892.9 1275,892.9 1275.3,864.1 1275.7,864.1 1276.1,892.9 1276.5,892.9 1276.8,864.1 1277.2,864.4 1277.6,893.7 1278,893.7 1278.3,864.4 1278.7,864.4 1279.1,893.7 1279.5,893.7 1279.8,864.4 1280.2,864.4 1280.6,893.7 1281,893.7 1281.3,864.4 1281.7,864.4 1282.1,893.7 1282.5,893.7 1282.9,864.4 1283.2,864.5 1283.6,892.6 1284,892.6 1284.4,864.5 1284.7,864.5 1285.1,892.6 1285.5,892.6 1285.9,864.5 1286.2,864.5 1286.6,892.6 1287,894.7 1287.4,864.9 1287.7,864.9 1288.1,894.7 1288.5,894.7 1288.9,864.9 1289.2,864.9 1289.6,894.7 1290,894.7 1290.4,864.9 1290,871.6 1290.4,906.5 1290.8,906.5 1291.1,871.6 1291.5,871.6 1291.9,906.5 1292.2,906.5 1292.6,871.6 1293,871.6 1293.4,906.5 1293.8,906.5 1294.1,871.6 1294.5,871.6 1294.9,921 1295.2,921 1295.6,871.6 1296,870.3 1296.4,921 1296.8,921 1297.1,870.3 1297.5,870.3 1297.9,921 1298.2,921 1298.6,870.3 1299,870.3 1299.4,921 1299.8,921 1300.1,871 1300.5,871 1300.9,921 1301.2,906 1301.6,871 1302,871 1302.4,906 1302.8,905.6 1303.1,871.2 1303.5,871.2 1303.9,905.6 1304.2,905.6 1304.6,871.2 1305,871.2 1305.4,905.6 1305.8,905.2 1306.1,869.7 1306.5,869.7 1306.9,905.2 1307.2,905.2 1307.6,869.7 1308,869.7 1308.4,905.2 1308.8,904.7 1309.1,871.6 1309.5,871.6 1309.9,904.7 1310.2,904.7 1310.6,871.6 1311,871.6 1311.4,904.7 1311.8,904.7 1312.1,871.6 1312.5,871.6 1312.9,904.7 1313.2,906 1313.6,870.1 1314,870.1 1314.4,906 1314.8,906 1315.1,870.1 1315.5,870.1 1315.9,906 1316.2,906 1316.6,870.1 1317,869.5 1317.4,904.2 1317.8,904.2 1318.1,869.5 1318.5,869.5 1318.9,904.2 1319.2,904.2 1319.6,869.5 1320,871 1320.4,904.4 1320.8,904.4 1321.1,871 1321.5,871 1321.9,904.4 1322.2,906.9 1322.6,869.4 1323,869.4 1323.4,906.9 1323.8,906.9 1324.1,869.4 1324.5,869.4 1324.9,905.5 1325.2,905.5 1325.6,869.4 1326,869.4 1326.4,905.5 1326.8,905.5 1327.1,869.4 1327.5,869.4 1327.9,905.5 1328.2,903.5 1328.6,870.4 1329,870.4 1329.4,903.5 1329.8,903.5 1330.1,870.4 1330.5,869.3 1330.9,906.6 1331.2,906.6 1331.6,869.3 1332,869.3 1332.4,906.6 1332.8,906.6 1333.1,869.3 1333.5,869.6 1333.9,906.4 1334.2,906.4 1334.6,869.6 1335,869.6 1335.4,906.4 1335.8,906.4 1336.1,869.6 1336.5,869.6 1336.9,906.4 1337.2,906.4 1337.6,869.6 1338,870.4 1338.4,905.4 1338.8,905.4 1339.1,870.4 1339.5,870.4 1339.9,905.4 1340.2,905.4 1340.6,870.4 1341,870.4 1341.4,905.4 1341.8,906.2 1342.1,870.2 1342.5,870.2 1342.9,906.2 1343.2,906.2 1343.6,870.2 1344,870.2 1344.4,906.2 1344.8,906.2 1345.1,870.2 1345.5,870.8 1345.9,903.3 1346.2,903.3 1346.6,870.8 1347,870.8 1347.4,903.3 1347.8,903.3 1348.1,870.8 1348.5,870.8 1348.9,903.3 1349.2,903.3 1349.6,870.8 1350,870.8 1350.4,903.3 1350.8,905.7 1351.1,871.2 1351.5,871.2 1351.9,905.7 1352.2,905.7 1352.6,871.2 1353,871.2 1353.4,905.7 1353.8,905.7 1354.1,871.2 1354.5,871.2 1354.9,905.7 1355.2,907 1355.6,870 1356,870 1356.4,907 1356.8,907 1357.1,870 1357.5,870 1357.9,907 1358.2,907 1358.6,870 1359,870 1359.4,907 1359.8,907 1360.1,870 1360.5,870 1360.9,907 1361.2,904 1361.6,869.5 1362,869.5 1362.4,904 1362.8,904 1363.1,869.5 1363.5,869.5 1363.9,904 1364.2,904 1364.6,869.5 1365,869.5 1365.4,904 1365.8,904 1366.1,869.5 1366.5,870 1366.9,905.5 1367.2,905.5 1367.6,870 1368,870 1368.4,905.5 1368.8,905.5 1369.1,870 1369.5,871.9 1369.9,906.4 1370.2,906.4 1370.6,871.9 1371,871.9 1371.4,906.4 1371.8,906.4 1372.1,871.9 1372.5,871.9 1372.9,921 1373.2,921 1373.6,871.9 1374,869.8 1374.4,921 1374.8,921 1375.1,869.8 1375.5,869.8 1375.9,903 1376.2,905.5 1376.6,869.3 1377,869.3 1377.4,905.5 1377.8,905.5 1378.1,869.3 1378.5,869.3 1378.9,905.5 1379.2,905.5 1379.6,869.3 1380,869.3 1380.4,905.5 1380.8,905.5 1381.1,869.3 1381.5,869.3 1381.9,905.5 1382.2,906.4 1382.6,869.7 1383,869.7 1383.4,906.4 1383.8,906.4 1384.1,869.7 1384.5,869.7 1384.9,906.4 1385.2,906.4 1385.6,869.7 1386,869.7 1386.4,906.4 1386.8,903.7 1387.1,870.9 1387.5,870.9 1387.9,903.7 1388.2,903.7 1388.6,870.9 1389,870.9 1389.4,903.7 1389.8,903.7 1390.1,870.9 1390.5,870.9 1390.9,903.7 1391.2,903.7 1391.6,870.9 1392,870.9 1392.4,903.7 1392.8,903.7 1393.1,870.6 1393.5,870.6 1393.9,903.7 1394.2,903.7 1394.6,870.6 1395,870.6 1395.4,903.7 1395.8,903.7 1396.1,870.6 1396.5,870.6 1396.9,903.7 1397.2,903.7 1397.6,870.6 1398,871.4 1398.4,905.7 1398.8,905.7 1399.1,871.4 1399.5,871.4 1399.9,929 1400.2,929 1400.6,871.4 1401,869.8 1401.4,929 1401.8,929 1402.1,869.8 1402.5,869.8 1402.9,903.6 1403.2,903.6 1403.6,869.8 1404,869.8 1404.4,903.6 1404.8,904.5 1405.1,871.8 1405.5,871.8 1405.9,904.5 1406.2,904.5 1406.6,871.8 1407,871.8 1407.4,904.5 1407.8,904.5 1408.1,871.8 1408.5,871.8 1408.9,904.5 1409.2,904.5 1409.6,871.8 1410,870.9 1410.4,904.8 1410.8,904.8 1411.1,870.9 1411.5,870.9 1411.9,904.8 1412.2,904.8 1412.6,870.9 1413,870.9 1413.4,904.8 1413.8,904.8 1414.1,870.9 1414.5,872 1414.9,905.4 1415.2,905.4 1415.6,872 1416,872 1416.4,905.4 1416.8,905.4 1417.1,872 1417.5,872 1417.9,905.4 1418.2,905.4 1418.6,872 1419,872 1419.4,905.4 1419.8,905.4 1420.1,872 1420.5,870.5 1420.9,906 1421.2,906 1421.6,870.5 1422,870.5 1422.4,906 1422.8,906.3 1423.1,869.5 1423.5,869.5 1423.9,906.3 1424.2,906.3 1424.6,869.5 1425,869.5 1425.4,906.3 1425.8,906 1426.1,871.1 1426.5,871.1 1426.9,906 1427.2,906 1427.6,871.1 1428,871.1 1428.4,906 1428.8,906 1429.1,871.1 1429.5,871.1 1429.9,921 1430.2,921 1430.6,871.1 1431,871.7 1431.4,921 1431.8,921 1432.1,871.7 1432.5,871.7 1432.9,904 1433.2,904 1433.6,871.7 1434,871.7 1434.4,904 1434.8,904 1435.1,871.7 1435.5,871.7 1435.9,904 1436.2,906.7 1436.6,869.3 1437,869.3 1437.4,906.7 1437.8,906.7 1438.1,869.3 1438.5,869.3 1438.9,906.7 1439.2,906.7 1439.6,869.3 1440,869.3 1440.4,906.7 1440.8,905.9 1441.1,871.7 1441.5,871.7 1441.9,905.9 1442.2,905.9 1442.6,871.7 1443,871.7 1443.4,905.9 1443.8,905.9 1444.1,871.7 1444.5,871.7 1444.9,905.9 1445.2,906.8 1445.6,870 1446,870 1446.4,906.8 1446.8,906.8 1447.1,870 1447.5,870 1447.9,906.8 1448.2,906.8 1448.6,870 1449,869.7 1449.4,903.9 1449.8,903.9 1450.1,869.7 1450.5,869.7 1450.9,903.9 1451.2,903.9 1451.6,869.7 1452,869.7 1452.4,903.9 1452.8,905.7 1453.1,869.7 1453.5,869.7 1453.9,905.7 1454.2,905.7 1454.6,869.7 1455,869.7 1455.4,905.7 1455.8,905.7 1456.1,869.7 1456.5,869.7 1456.9,905.7 1457.2,905.7 1457.6,869.7 1458,869.7 1458.4,905.7 1458.8,906.8 1459.1,871.9 1459.5,871.9 1459.9,906.8 1460.2,906.8 1460.6,871.9 1461,871.9 1461.4,906.8 1461.8,906.8 1462.1,871.9 1462.5,871.6 1462.9,905.5 1463.2,905.5 1463.6,871.6 1464,871.6 1464.4,905.5 1464.8,905.5 1465.1,871.6 1465.5,871.6 1465.9,905.5 1466.2,905.5 1466.6,871.6 1467,871.6 1467.4,905.5 1467.8,906.5 1468.1,871.9 1468.5,871.9 1468.9,906.5 1469.2,906.5 1469.6,871.9 1470,871.9 1470.4,906.5 1470.8,906.5 1471.1,871.9 1471.5,871.9 1471.9,906.5 1472.2,906.5 1472.6,871.9 1473,871.9 1473.4,906.5 1473.8,904.6 1474.1,869.8 1474.5,869.8 1474.9,904.6 1475.2,904.6 1475.6,869.8 1476,869.8 1476.4,921 1476.8,921 1477.1,869.8 1477.5,869.8 1477.9,921 1478.2,921 1478.6,869.8 1479,871.1 1479.4,921 1479.8,906.3 1480.1,871.1 1480.5,871.1 1480.9,906.3 1481.2,906.3 1481.6,871.1 1482,871.1 1482.4,906.3 1482.8,906.3 1483.1,871.1 1483.5,871.9 1483.9,903.2 1484.2,903.2 1484.6,871.9 1485,871.9 1485.4,903.2 1485.8,903.2 1486.1,871.9 1486.5,871.9 1486.9,903.2 1487.2,903.2 1487.6,871.9 1488,871.9 1488.4,903.2 1488.8,903.2 1489.1,871.9 1489.5,869.5 1489.9,906.6 1490.2,906.6 1490.6,869.5 1491,869.5 1491.4,906.6 1491.8,906.6 1492.1,869.5 1492.5,871.6 1492.9,905.5 1493.2,905.5 1493.6,871.6 1494,871.6 1494.4,905.5 1494.8,905.5 1495.1,871.6 1495.5,871.6 1495.9,905.5 1496.2,905.5 1496.6,871.6 1497,871.6 1497.4,905.5 1497.8,905.5 1498.1,871.6 1498.5,869.6 1498.9,903.3 1499.2,903.3 1499.6,869.6 1500,869.6 1500.4,903.3 1500,860 1500.4,908 1500.7,908 1501.1,860 1501.5,860 1501.8,908 1502.2,908 1502.6,860 1502.9,860 1503.3,908 1503.7,908 1504.1,860 1504.4,860 1504.8,908 1505.2,908 1505.5,860 1505.9,860 1506.3,908 1506.6,908 1507,860 1507.4,860 1507.7,908 1508.1,908 1508.5,860 1508.8,860 1509.2,908 1509.6,908 1510,860 1510.3,860 1510.7,908 1511.1,908 1511.4,860 1511.8,860 1512.2,908 1512.5,908 1512.9,860 1513.3,860 1513.6,908 1514,908 1514.4,860 1514,860 1514.4,908 1514.8,903.1 1515.1,856.4 1515.5,852.8 1515.9,898.3 1516.2,893.5 1516.6,849.2 1517,845.6 1517.4,888.6 1517.8,883.8 1518.1,842 1518.5,838.4 1518.9,878.9 1519.2,874 1519.6,834.8 1520,831.2 1520.4,869.2 1520.8,864.4 1521.1,827.6 1521.5,824 1521.9,859.5 1522.2,854.6 1522.6,820.4 1523,816.8 1523.4,849.8 1523.8,845 1524.1,813.2 1524.5,809.6 1524.9,840.1 1525.2,835.2 1525.6,806 1526,802.4 1526.4,830.4 1526.8,825.5 1527.1,798.8 1527.5,795.2 1527.9,820.7 1528.2,815.9 1528.6,791.6 1529,788 1529.4,811 1529,789 1529.4,810.7 1529.8,810.7 1530.1,789 1530.5,789 1530.9,810.7 1531.2,810.7 1531.6,789 1532,789 1532.4,810.7 1532.8,810.7 1533.1,789 1533.5,788.6 1533.9,810.2 1534.2,810.2 1534.6,788.6 1535,788.6 1535.4,810.2 1535.8,810.2 1536.1,788.6 1536.5,788.6 1536.9,810.2 1537.2,810.2 1537.6,788.6 1538,788.6 1538.4,810.2 1538.8,810.2 1539.1,788.6 1539.5,789.6 1539.9,810.6 1540.2,810.6 1540.6,789.6 1541,789.6 1541.4,810.6 1541.8,810.6 1542.1,789.6 1542.5,789.6 1542.9,810.6 1543.2,810.6 1543.6,789.6 1544,788.7 1544.4,809.7 1544.8,809.7 1545.1,788.7 1545.5,788.7 1545.9,809.7 1546.2,809.7 1546.6,788.7 1547,788.7 1547.4,809.7 1547.8,809.7 1548.1,788.7 1548.5,788.7 1548.9,809.7 1549.2,809.7 1549.6,788.7 1550,788.9 1550.4,809.4 1550.8,809.4 1551.1,788.9 1551.5,788.9 1551.9,809.4 1552.2,809.4 1552.6,788.9 1553,788.9 1553.4,809.4 1553.8,809.4 1554.1,788.9 1554.5,788.9 1554.9,809.4 1555.2,809.4 1555.6,788.9 1556,788 1556.4,809.5 1556,789.5 1556.4,820.6 1556.8,820.6 1557.1,789.5 1557.5,789.5 1557.9,820.6 1558.2,820.6 1558.6,789.5 1559,789.5 1559.4,822.4 1559.8,822.4 1560.1,789.5 1560.5,789.5 1560.9,822.4 1561.2,822.4 1561.6,789.5 1562,789.5 1562.4,822.4 1562.8,822.4 1563.1,789.5 1563.5,789.5 1563.9,822.4 1564.2,820.7 1564.6,790.6 1565,790.6 1565.4,820.7 1565.8,820.7 1566.1,790.6 1566.5,790.6 1566.9,820.7 1567.2,820.7 1567.6,790.6 1568,790.6 1568.4,820.7 1568.8,821 1569.1,790.2 1569.5,790.2 1569.9,821 1570.2,821 1570.6,790.2 1571,790.2 1571.4,821 1571.8,821 1572.1,790.2 1572.5,790.2 1572.9,849 1573.2,849 1573.6,789.4 1574,789.4 1574.4,849 1574.8,849 1575.1,789.4 1575.5,789.4 1575.9,821.8 1576.2,822 1576.6,790.3 1577,790.3 1577.4,822 1577.8,822 1578.1,790.3 1578.5,790.3 1578.9,822 1579.2,822.2 1579.6,791 1580,791 1580.4,822.2 1580.8,822.2 1581.1,791 1581.5,791 1581.9,822.2 1582.2,822.2 1582.6,791 1583,790.2 1583.4,821.9 1585,790 1587,760 1588.5,748 1589.5,1040 1592,900 1594,870 1594,872 1594.4,906 1594.8,907.4 1595.1,873.4 1595.5,874.9 1595.9,908.8 1596.3,910.2 1596.7,876.4 1597,859 1597.4,911.5 1597.8,912.9 1598.2,859 1598.6,859 1598.9,914.3 1599.3,914.4 1599.7,859 1600.1,881.6 1600.4,915.7 1600.8,917.1 1601.2,883 1601.6,884.5 1602,918.5 1602.3,919.9 1602.7,886 1603.1,887.5 1603.5,921.3 1603.9,922.6 1604.2,889 1604.6,890.4 1605,924 1605.4,929.4 1605.8,890.8 1606.1,880 1606.5,930.8 1606.9,932.2 1607.3,880 1607.7,880 1608,933.6 1608.4,937.2 1608.8,880 1609.2,895.4 1609.5,938.5 1609.9,939.9 1610.3,896.9 1610.7,898.3 1611.1,941.3 1611.4,942.7 1611.8,899.8 1612.2,902 1612.6,943.5 1613,944.9 1613.3,903.4 1613.7,904.9 1614.1,946.3 1614.5,947.6 1614.9,906.4 1615.2,907.9 1615.6,949 1616,950.5 1616.4,906.4 1616,908.4 1616.4,948.6 1616.7,949.5 1617.1,908.9 1617.5,909.4 1617.9,950.4 1618.2,951.3 1618.6,909.8 1619,910.3 1619.4,952.3 1619.7,946.7 1620.1,918.1 1620.5,918.6 1620.8,947.6 1621.2,948.5 1621.6,919.1 1622,919.5 1622.3,949.5 1622.7,950.4 1623.1,920 1623.4,915.7 1623.8,961.4 1624.2,962.4 1624.6,916.1 1624.9,916.6 1625.3,963.3 1625.7,964.2 1626,917 1626.4,917.5 1626.8,965.2 1627.2,966.1 1627.5,918 1627.9,918.4 1628.3,967 1628.7,967.9 1629,918.9 1629.4,923.9 1629.8,959.3 1630.1,960.2 1630.5,924.3 1630.9,924.8 1631.3,961.1 1631.6,985 1632,925.2 1632.4,925.7 1632.7,985 1633.1,985 1633.5,926.2 1633.9,927.8 1634.2,985 1634.6,970.2 1635,928.2 1635.3,928.7 1635.7,971.1 1636.1,972 1636.5,929.1 1636.8,926.7 1637.2,968.7 1637.6,969.6 1638,927.2 1638.3,927.7 1638.7,970.6 1639.1,971.5 1639.4,917 1639.8,917 1640.2,972.4 1640.6,973.4 1640.9,917 1641.3,917 1641.7,974.3 1642,980.1 1642.4,932.8 1642.8,933.3 1643.2,981 1643.5,981.9 1643.9,933.8 1644.3,934.2 1644.7,982.9 1645,983.8 1645.4,934.7 1645.8,934.3 1646.1,984.8 1646.5,985.7 1646.9,934.8 1647.3,918 1647.6,986.6 1648,987.5 1648.4,918 1648,918 1648.4,983.3 1648.8,983.8 1649.1,918 1649.5,918 1649.9,984.2 1650.2,984.7 1650.6,935.5 1651,929.2 1651.4,994 1651.8,994.5 1652.1,929.4 1652.5,929.7 1652.9,1031 1653.2,1031 1653.6,929.9 1654,930.1 1654.4,1031 1654.8,1031 1655.1,930.3 1655.5,926 1655.9,996.7 1656.2,997.2 1656.6,926 1657,926 1657.4,999.5 1657.8,1000 1658.1,926 1658.5,939.6 1658.9,1000.4 1659.2,1000.9 1659.6,939.8 1660,940.1 1660.4,1001.4 1660.8,1001.8 1661.1,940.3 1661.5,937.7 1661.9,1000.1 1662.2,1000.6 1662.6,938 1663,938.2 1663.4,1001 1663.8,1001.5 1664.1,938.4 1664.5,935.8 1664.9,992.3 1665.2,992.8 1665.6,936 1666,936.3 1666.4,993.2 1666.8,993.7 1667.1,936.5 1667.5,936.7 1667.9,1010 1668.2,1010 1668.6,936.9 1669,937.2 1669.4,1010 1669.8,1010 1670.1,934.4 1670.5,934.6 1670.9,1003.4 1671.2,1003.9 1671.6,934.8 1672,935.1 1672.4,1004.3 1672.8,1004.8 1673.1,935.3 1673.5,935.5 1673.9,1005.2 1674.2,999.1 1674.6,943.6 1675,943.8 1675.4,999.5 1675.8,1000 1676.1,944 1676.5,944.2 1676.9,1000.4 1677.2,1000.9 1677.6,944.5 1678,944.7 1678.4,1001.3 1678.8,1001.8 1679.1,944.9 1679.5,942.5 1679.9,1018 1680.2,1018 1680.6,942.8 1681,943 1681.4,1018 1681,946.7 1681.4,1018 1681.7,1018 1682.1,947.2 1682.5,947.8 1682.9,1011.5 1683.2,1011.7 1683.6,948.4 1684,949 1684.4,1011.9 1684.7,1012 1685.1,949.6 1685.5,950.2 1685.8,1012.2 1686.2,1012.3 1686.6,950.7 1687,942.8 1687.3,1013.2 1687.7,1013.4 1688.1,943.4 1688.4,944 1688.8,1013.6 1689.2,1013.7 1689.6,944.6 1689.9,945.1 1690.3,1013.9 1690.7,1014 1691,945.7 1691.4,938 1691.8,1014.2 1692.2,1014.4 1692.5,938 1692.9,938 1693.3,1007.7 1693.7,1007.9 1694,938 1694.4,947.1 1694.8,1008 1695.1,1008.2 1695.5,947.6 1695.9,948.2 1696.3,1008.4 1696.6,1008.5 1697,948.8 1697.4,949.4 1697.7,1008.7 1698.1,1008.8 1698.5,950 1698.9,959.7 1699.2,1011.3 1699.6,1011.5 1700,960.2 1700.3,960.8 1700.7,1025 1701.1,1025 1701.5,961.4 1701.8,962 1702.2,1025 1702.6,1025 1703,962.6 1703.3,958.7 1703.7,1011.3 1704.1,1011.5 1704.4,959.2 1704.8,959.8 1705.2,1011.6 1705.6,1011.8 1705.9,960.4 1706.3,961 1706.7,1012 1707,1012.1 1707.4,961.6 1707.8,965.2 1708.2,1010.8 1708.5,1010.9 1708.9,965.8 1709.3,966.3 1709.7,1011.1 1710,1020.7 1710.4,966.6 1710.8,967.2 1711.1,1020.9 1711.5,1021.1 1711.9,967.8 1712.3,968.3 1712.6,1043 1713,1043 1713.4,968.9 1713,966 1713.4,1043 1713.8,1043 1714.1,966.4 1714.5,966.9 1714.9,1043 1715.2,1019.6 1715.6,967.3 1716,967.7 1716.4,1019.4 1716.8,1019.1 1717.1,968.1 1717.5,968.5 1717.9,1018.9 1718.2,1018.7 1718.6,968.9 1719,968.5 1719.4,1014.3 1719.8,1014.1 1720.1,968.9 1720.5,969.3 1720.9,1013.9 1721.2,1013.7 1721.6,969.7 1722,970.1 1722.4,1013.4 1722.8,1013.2 1723.1,970.6 1723.5,971 1723.9,1013 1724.2,1032 1724.6,971.4 1725,972.4 1725.4,1032 1725.8,1032 1726.1,972.8 1726.5,973.2 1726.9,1032 1727.2,1016.8 1727.6,973.7 1728,974.1 1728.4,1016.6 1728.8,1012.1 1729.1,971.5 1729.5,971.9 1729.9,1011.8 1730.2,1029 1730.6,972.3 1731,972.7 1731.4,1029 1731.8,1029 1732.1,973.1 1732.5,973.6 1732.9,1029 1733.2,1029 1733.6,974 1734,979.5 1734.4,1029 1734.8,1029 1735.1,980 1735.5,980.4 1735.9,1029 1736.2,1029 1736.6,980.8 1737,973.9 1737.4,1029 1737.8,1029 1738.1,974.3 1738.5,974.7 1738.9,1029 1739.2,1029 1739.6,975.1 1740,975.5 1740.4,1029 1740,980.1 1740.4,1029 1740.8,1029 1741.1,980.1 1741.5,980.1 1741.9,1029 1742.2,1029 1742.6,980.1 1743,980.1 1743.4,1029 1743.8,1029 1744.1,978.5 1744.5,978.5 1744.9,1029 1745.2,1008.2 1745.6,978.5 1746,978.5 1746.4,1008.2 1746.8,1008.2 1747.1,978.5 1747.5,978.5 1747.9,1008.2 1748.2,1008.2 1748.6,978.5 1749,994.8 1749.4,994.8 1749.8,994.8 1750.1,994.8 1750.5,994.8 1750.9,994.8 1751.2,994.8 1751.6,994.8 1752,994.8 1752.4,994.8 1752.8,1004.6 1753.1,976.4 1753.5,976.4 1753.9,1004.6 1754.2,1004.6 1754.6,976.4 1755,976.4 1755.4,1004.6 1755.8,1004.6 1756.1,976.4 1756.5,976.4 1756.9,1004.6 1757.2,1004.6 1757.6,976.4 1758,976 1758.4,1010.2 1758.8,1010.2 1759.1,976 1759.5,976 1759.9,1010.2 1760.2,1010.2 1760.6,976 1761,976 1761.4,1010.2 1761.8,1010.2 1762.1,976 1762.5,976 1762.9,1010.2 1763.2,1010.2 1763.6,976 1764,973.8 1764.4,1003.9 1764.8,1003.9 1765.1,973.8 1765.5,973.8 1765.9,1003.9 1766.2,1003.9 1766.6,973.8 1767,973.8 1767.4,1003.9 1767.8,1003.9 1768.1,973.8 1768.5,981.2 1768.9,1002.7 1769.2,1002.7 1769.6,981.2 1770,981.2 1770.4,1002.7 1770.8,1002.7 1771.1,981.2 1771.5,981.6 1771.9,1005.9 1772.2,1005.9 1772.6,981.6 1773,981.6 1773.4,1005.9 1773.8,1005.9 1774.1,981.6 1774.5,981.6 1774.9,1005.9 1775.2,1005.9 1775.6,955 1776,955 1776.4,1005.9 1776.8,1005.9 1777.1,955 1777.5,955 1777.9,1010.5 1778.2,1010.5 1778.6,973.5 1779,973.5 1779.4,1010.5 1779.8,1010.5 1780.1,973.5 1780.5,973.5 1780.9,1010.5 1781.2,1004.1 1781.6,975.4 1782,975.4 1782.4,1004.1 1782.8,1004.1 1783.1,975.4 1783.5,975.4 1783.9,1004.1 1784.2,1004.1 1784.6,975.4 1785,975.4 1785.4,1004.1 1785.8,1004.1 1786.1,975.4 1786.5,975.4 1786.9,1004.1 1787.2,1005.7 1787.6,973.4 1788,973.4 1788.4,1005.7 1788.8,1005.7 1789.1,973.4 1789.5,989.1 1789.9,989.1 1790.2,1029 1790.6,989.1 1791,989.1 1791.4,1029 1791.8,1029 1792.1,989.1 1792.5,989.1 1792.9,989.1 1793.2,989.1 1793.6,989.1 1794,989.1 1794.4,989.1 1794.8,989.1 1795.1,989.1 1795.5,972.5 1795.9,1011.3 1796.2,1011.3 1796.6,972.5 1797,972.5 1797.4,1011.3 1797.8,1011.3 1798.1,972.5 1798.5,972.5 1798.9,1011.3 1799.2,997.4 1799.6,997.4 1800,997.4 1800.4,997.4 1800.8,997.4 1801.1,997.4 1801.5,997.4 1801.9,997.4 1802.2,997.4 1802.6,997.4 1803,997.4 1803.4,997.4 1803.8,1003 1804.1,974.8 1804.5,974.8 1804.9,1003 1805.2,1003 1805.6,974.8 1806,974.8 1806.4,1003 1806.8,1003 1807.1,974.8 1807.5,970.2 1807.9,1005.5 1808.2,1005.5 1808.6,970.2 1809,970.2 1809.4,1005.5 1809.8,1005.5 1810.1,970.2 1810.5,970.2 1810.9,1005.5 1811.2,1005.5 1811.6,970.2 1812,978.5 1812.4,1001.4 1812.8,1001.4 1813.1,978.5 1813.5,978.5 1813.9,1001.4 1814.2,1001.4 1814.6,978.5 1815,978.5 1815.4,1001.4 1815.8,1001.4 1816.1,972.2 1816.5,972.2 1816.9,1001.4 1817.2,1001.4 1817.6,972.2 1818,972.2 1818.4,1001.4 1818.8,1001.4 1819.1,972.2 1819.5,972.2 1819.9,1001.4 1820.2,1001.4 1820.6,972.2 1821,972.2 1821.4,1001.4 1821.8,1009.8 1822.1,972.3 1822.5,972.3 1822.9,1009.8 1823.2,1009.8 1823.6,972.3 1824,972.3 1824.4,1009.8 1824.8,1009.8 1825.1,972.3 1825.5,972.3 1825.9,1009.8 1826.2,1009.8 1826.6,972.3 1827,981.3 1827.4,1009.7 1827.8,1009.7 1828.1,981.3 1828.5,981.3 1828.9,1009.7 1829.2,1009.7 1829.6,981.3 1830,981.3 1830.4,1029 1830.8,1029 1831.1,981.3 1831.5,981.3 1831.9,1029 1832.2,1009.7 1832.6,981.3 1833,974.1 1833.4,1010.4 1833.8,1010.4 1834.1,974.1 1834.5,974.1 1834.9,1010.4 1835.2,1010.4 1835.6,974.1 1836,974.1 1836.4,1010.4 1836.8,1010.4 1837.1,974.1 1837.5,974.1 1837.9,1010.4 1838.2,1010.4 1838.6,974.1 1839,972.1 1839.4,1012.1 1839.8,1012.1 1840.1,972.1 1840.5,972.1 1840.9,1012.1 1841.2,1012.1 1841.6,972.1 1842,972.1 1842.4,1012.1 1842.8,1012.1 1843.1,972.1 1843.5,972.1 1843.9,1012.1 1844.2,1003.6 1844.6,969.3 1845,969.3 1845.4,1003.6 1845.8,1003.6 1846.1,969.3 1846.5,969.3 1846.9,1042 1847.2,1042 1847.6,969.3 1848,969.3 1848.4,1042 1848.8,1003.6 1849.1,969.3 1849.5,969.3 1849.9,1003.6 1850.2,1006 1850.6,980.9 1851,980.9 1851.4,1006 1851.8,1006 1852.1,980.9 1852.5,980.9 1852.9,1006 1853.2,1006 1853.6,980.9 1854,980.9 1854.4,1006 1854.8,1010.6 1855.1,979.8 1855.5,979.8 1855.9,1010.6 1856.2,1010.6 1856.6,979.8 1857,979.8 1857.4,1010.6 1857.8,1010.6 1858.1,979.8 1858.5,979.8 1858.9,1010.6 1859.2,1010.6 1859.6,979.8 1860,970.7 1860.4,1009.1 1860.8,1009.1 1861.1,970.7 1861.5,970.7 1861.9,1009.1 1862.2,1009.1 1862.6,970.7 1863,970.7 1863.4,1009.1 1863.8,1009.1 1864.1,970.7 1864.5,970.7 1864.9,1009.1 1865.2,1007.8 1865.6,969.1 1866,969.1 1866.4,1007.8 1866.8,1007.8 1867.1,969.1 1867.5,969.1 1867.9,1007.8 1868.2,1007.8 1868.6,969.1 1869,969.1 1869.4,1007.8 1869.8,1007.8 1870.1,969.1 1870.5,969.1 1870.9,1007.8 1871.2,1014 1871.6,969.8 1872,969.8 1872.4,1014 1872.8,1014 1873.1,969.8 1873.5,969.8 1873.9,1014 1874.2,1014 1874.6,969.8 1875,969.8 1875.4,1014 1875.8,1014 1876.1,969.8 1876.5,972.1 1876.9,1004.8 1877.2,1004.8 1877.6,972.1 1878,972.1 1878.4,1004.8 1878.8,1004.8 1879.1,972.1 1879.5,972.1 1879.9,1004.8 1880.2,1004.8 1880.6,972.1 1881,973.3 1881.4,1002.9 1881.8,1002.9 1882.1,973.3 1882.5,973.3 1882.9,1002.9 1883.2,1002.9 1883.6,973.3 1884,973.3 1884.4,1002.9 1884.8,1002.9 1885.1,973.3 1885.5,977.2 1885.9,1002.6 1886.2,1002.6 1886.6,977.2 1887,977.2 1887.4,1002.6 1887.8,1002.6 1888.1,977.2 1888.5,977.2 1888.9,1002.6 1889.2,1002.6 1889.6,977.2 1890,977.2 1890.4,1002.6 1890.8,1007.6 1891.1,973.7 1891.5,973.7 1891.9,1007.6 1892.2,1007.6 1892.6,973.7 1893,973.7 1893.4,1007.6 1893.8,1007.6 1894.1,973.7 1894.5,973.7 1894.9,1007.6 1895.2,1007.6 1895.6,973.7 1896,973.7 1896.4,1007.6 1896.8,1001.3 1897.1,981.9 1897.5,981.9 1897.9,1001.3 1898.2,1001.3 1898.6,981.9 1899,981.9 1899.4,1001.3 1899.8,1001.3 1900.1,981.9 1900.5,981.9 1900.9,1001.3 1901.2,1001.3 1901.6,981.9 1902,990.7 1902.4,990.7 1902.8,990.7 1903.1,990.7 1903.5,990.7 1903.9,990.7 1904.2,990.7 1904.6,990.7 1905,990.7 1905.4,990.7 1905.8,990.7 1906.1,990.7 1906.5,990.7 1906.9,990.7 1907.2,1012.3 1907.6,975.9 1908,975.9 1908.4,1012.3 1908.8,1012.3 1909.1,975.9 1909.5,976.1 1909.9,1001.7 1910.2,1001.7 1910.6,976.1 1911,976.1 1911.4,1001.7 1911.8,1001.7 1912.1,976.1 1912.5,976.1 1912.9,1001.7 1913.2,1001.7 1913.6,976.1 1914,976.1 1914.4,1001.7 1914.8,1001.7 1915.1,976.1 1915.5,1001.8 1915.9,1001.8 1916.2,1001.8 1916.6,1001.8 1917,1001.8 1917.4,1001.8 1917.8,1001.8 1918.1,1001.8 1918.5,1001.8 1918.9,1001.8 1919.2,1001.8 1919.6,1001.8 1920,1001.8 1920.4,1001.8 1920.8,1005.5 1921.1,973.2 1921.5,973.2 1921.9,1005.5 1922.2,1005.5 1922.6,973.2 1923,973.2 1923.4,1005.5 1923.8,1005.5 1924.1,973.2 1924.5,973.2 1924.9,1005.5 1925.2,1009.9 1925.6,972.8 1926,972.8 1926.4,1009.9 1926.8,1009.9 1927.1,972.8 1927.5,972.8 1927.9,1009.9 1928.2,1009.9 1928.6,972.8 1929,972.8 1929.4,1009.9 1929.8,1009.9 1930.1,972.8 1930.5,970.3 1930.9,1005.2 1931.2,1042 1931.6,970.3 1932,970.3 1932.4,1042 1932.8,1042 1933.1,970.3 1933.5,991.8 1933.9,991.8 1934.2,991.8 1934.6,991.8 1935,991.8 1935.4,991.8 1935.8,991.8 1936.1,991.8 1936.5,991.8 1936.9,991.8 1937.2,1011.7 1937.6,979.2 1938,979.2 1938.4,1011.7 1938.8,1011.7 1939.1,979.2 1939.5,979.2 1939.9,1011.7 1940.2,1011.7 1940.6,979.2 1941,979.2 1941.4,1011.7 1941.8,1011.7 1942.1,979.2 1942.5,979.2 1942.9,1011.7 1943.2,1010.5 1943.6,973.1 1944,973.1 1944.4,1010.5 1944.8,1010.5 1945.1,973.1 1945.5,973.1 1945.9,1010.5 1946.2,1010.5 1946.6,973.1 1947,973.1 1947.4,1010.5 1947.8,1010.5 1948.1,973.1 1948.5,969.3 1948.9,1008.4 1949.2,1008.4 1949.6,969.3 1950,969.3 1950.4,1008.4 1950.8,1008.4 1951.1,969.3 1951.5,969.3 1951.9,1008.4 1952.2,1012 1952.6,982.1 1953,982.1 1953.4,1012 1953.8,1012 1954.1,982.1 1954.5,982.1 1954.9,1012 1955.2,1012 1955.6,982.1 1956,982.1 1956.4,1012 1956.8,1008.2 1957.1,974 1957.5,974 1957.9,1008.2 1958.2,1008.2 1958.6,974 1959,974 1959.4,1008.2 1959.8,1010.4 1960.1,973.1 1960.5,973.1 1960.9,1010.4 1961.2,1010.4 1961.6,973.1 1962,973.1 1962.4,1010.4 1962.8,1010.4 1963.1,973.1 1963.5,978.5 1963.9,1007.6 1964.2,1007.6 1964.6,978.5 1965,978.5 1965.4,1007.6 1965,948.6 1965.4,1009.1 1965.8,1009.1 1966.1,948.6 1966.5,948.6 1966.9,1009.1 1967.3,1009.1 1967.6,948.6 1968,948.6 1968.4,1009.1 1968.8,1009.1 1969.1,948.6 1969.5,948.6 1969.9,1009.1 1970.3,1015 1970.6,948.9 1971,948.9 1971.4,1015 1971.8,1015 1972.1,948.9 1972.5,948.9 1972.9,1015 1973.3,1015 1973.7,948.9 1974,948.9 1974.4,1015 1974.8,1003.9 1975.2,950.7 1975.5,950.7 1975.9,1003.9 1976.3,1003.9 1976.7,950.7 1977,950.7 1977.4,1003.9 1977.8,1003.9 1978.2,950.7 1978.5,950.7 1978.9,1003.9 1979.3,1006.6 1979.7,946.9 1980.1,946.9 1980.4,1006.6 1980.8,1006.6 1981.2,946.9 1981.6,946.9 1981.9,1006.6 1982.3,1006.6 1982.7,946.9 1983.1,945.2 1983.4,1008.5 1983.8,1008.5 1984.2,945.2 1984.6,945.2 1984.9,1008.5 1985.3,1008.5 1985.7,945.2 1986.1,945.2 1986.5,1008.5 1986.8,1008.5 1987.2,945.2 1987.6,945.2 1988,1008.5 1988.3,1008.5 1988.7,945.2 1989.1,953.7 1989.5,1004.9 1989.8,1004.9 1990.2,953.7 1990.6,953.7 1991,1004.9 1991.3,1004.9 1991.7,953.7 1992.1,953.7 1992.5,1004.9 1992.8,1004.9 1993.2,953.7 1993.6,942.5 1994,1011 1994.4,1011 1994.7,942.5 1995.1,942.5 1995.5,1011 1995.9,1011 1996.2,942.5 1996.6,942.5 1997,1011 1997.4,1011.4 1997.7,943.9 1998.1,943.9 1998.5,1011.4 1998.9,1011.4 1999.2,943.9 1999.6,943.9 2000,1011.4 2000.4,1011.4 2000.8,943.9 2001.1,943.9 2001.5,1011.4 2001.9,1011.4 2002.3,943.9 2002.6,943.9 2003,1011.4 2003.4,1011.5 2003.8,943.4 2004.1,943.4 2004.5,1011.5 2004.9,1011.5 2005.3,943.4 2005.6,943.4 2006,1011.5 2006.4,1011.5 2006.8,943.4 2007.2,943.4 2007.5,1011.5 2007.9,1011.5 2008.3,943.4 2008.7,943.4 2009,1011.5 2009.4,1002.7 2009.8,944.8 2010.2,944.8 2010.5,1002.7 2010.9,1002.7 2011.3,944.8 2011.7,944.8 2012,1002.7 2012.4,1009.7 2012.8,949.1 2013.2,949.1 2013.5,1009.7 2013.9,1009.7 2014.3,949.1 2014.7,949.1 2015.1,1009.7 2015.4,1009.7 2015.8,949.1 2016.2,949.1 2016.6,1009.7 2016.9,1009.7 2017.3,949.1 2017.7,949 2018.1,1010.1 2018.4,1010.1 2018.8,949 2019.2,949 2019.6,1010.1 2019.9,1010.1 2020.3,949 2020.7,942.8 2021.1,1004.4 2021.5,1004.4 2021.8,942.8 2022.2,942.8 2022.6,1004.4 2023,1004.4 2023.3,942.8 2023.7,942.8 2024.1,1004.4 2024.5,1004.4 2024.8,942.8 2025.2,942.8 2025.6,1004.4 2026,1004.4 2026.3,942.8 2026.7,952.8 2027.1,1003.1 2027.5,1003.1 2027.8,952.8 2028.2,952.8 2028.6,1003.1 2029,1003.1 2029.4,952.8 2029.7,952.8 2030.1,1003.1 2030.5,1003.1 2030.9,952.8 2031.2,943.7 2031.6,1005.7 2032,1005.7 2032.4,943.7 2032.7,943.7 2033.1,1005.7 2033.5,1005.7 2033.9,943.7 2034.2,943.7 2034.6,1005.7 2035,1005.7 2035.4,943.7 2035,950 2035.4,1010 2035.7,1007.1 2036.1,942.9 2036.4,935.7 2036.8,1004.3 2037.1,1001.4 2037.5,928.6 2037.9,921.4 2038.2,998.6 2038.6,995.7 2038.9,914.3 2039.3,907.1 2039.7,992.9 2040,990 2040.4,900 2040,900 2040.4,990 2040.7,981.4 2041.1,890 2041.4,880 2041.8,972.9 2042.1,964.3 2042.5,870 2042.9,860 2043.2,955.7 2043.6,947.1 2043.9,850 2044.3,840 2044.7,938.6 2045,930 2045.4,830 2045,830 2045.4,930 2045.8,920 2046.2,816 2046.6,802 2047,910 2047.4,900 2047.8,788 2048.2,774 2048.6,890 2049,880 2049.4,760 2049,760 2049.4,880 2049.7,873.3 2050,738.3 2050.3,716.7 2050.7,866.7 2051,860 2051.4,695 2052,700 2055,870 2055,870.7 2055.4,920.2 2055.8,920.2 2056.1,870.7 2056.5,870.7 2056.9,920.2 2057.3,920.2 2057.7,870.7 2058,870.7 2058.4,920.2 2058.8,920.2 2059.2,870.7 2059.6,870.7 2059.9,920.2 2060.3,917.7 2060.7,873.9 2061.1,873.9 2061.4,917.7 2061.8,917.7 2062.2,873.9 2062.6,873.9 2063,917.7 2063.3,917.7 2063.7,873.9 2064.1,873.9 2064.5,917.7 2064.9,917.7 2065.2,873.9 2065.6,873.9 2066,917.7 2066.4,919.1 2066.8,873 2067.1,873 2067.5,919.1 2067.9,919.1 2068.3,873 2068.7,873 2069,919.1 2069.4,919.1 2069.8,873 2070.2,873 2070.5,919.1 2070.9,919.1 2071.3,873 2071.7,870.7 2072.1,918 2072.4,918 2072.8,870.7 2073.2,870.7 2073.6,918 2074,918.1 2074.3,872.8 2074.7,872.8 2075.1,918.1 2075.5,918.1 2075.9,872.8 2076.2,872.8 2076.6,918.1 2077,918.1 2077.4,872.8 2077,866 2077.4,900 2077.8,898.1 2078.1,863.8 2078.5,861.7 2078.9,896.2 2079.3,894.2 2079.7,859.5 2080,857.4 2080.4,892.3 2080.8,890.4 2081.2,855.2 2081.6,853 2081.9,888.5 2082.3,886.6 2082.7,850.9 2083.1,848.7 2083.5,884.6 2083.8,882.7 2084.2,846.6 2084.6,844.4 2085,880.8 2085.4,878.9 2085.7,842.2 2086.1,840.1 2086.5,877 2086.9,875 2087.3,837.9 2087.6,835.8 2088,873.1 2088.4,871.2 2088.8,833.6 2089.2,831.4 2089.5,869.3 2089.9,867.4 2090.3,829.3 2090.7,827.1 2091.1,865.4 2091.4,863.5 2091.8,825 2092.2,822.8 2092.6,861.6 2093,859.7 2093.3,820.6 2093.7,818.5 2094.1,857.8 2094.5,855.8 2094.9,816.3 2095.2,814.2 2095.6,853.9 2096,852 2096.4,812 2096,813.6 2096.4,847.4 2096.8,847.4 2097.1,813.6 2097.5,813.6 2097.9,847.4 2098.2,847.4 2098.6,813.6 2099,813.6 2099.4,847.4 2099.8,847.4 2100.1,813.6 2100.5,812.7 2100.9,848.5 2101.2,848.5 2101.6,812.7 2102,812.7 2102.4,848.5 2102.8,848.5 2103.1,812.7 2103.5,812.7 2103.9,848.5 2104.2,848.5 2104.6,812.7 2105,812.7 2105.4,848.5 2105.8,847.7 2106.1,813 2106.5,813 2106.9,847.7 2107.2,847.7 2107.6,813 2108,813.3 2108.4,847.1 2108.8,847.1 2109.1,813.3 2109.5,813.3 2109.9,847.1 2110.2,847.1 2110.6,813.3 2111,813.3 2111.4,847.1 2111.8,848.5 2112.1,811.5 2112.5,811.5 2112.9,848.5 2113.2,848.5 2113.6,811.5 2114,811.5 2114.4,848.5 2114.8,848.5 2115.1,811.5 2115.5,811.5 2115.9,848.2 2116.2,848.2 2116.6,811.5 2117,811.5 2117.4,863 2117.8,863 2118.1,811.5 2118.5,811.5 2118.9,863 2119.2,863 2119.6,811.5 2120,811.4 2120.4,863 2120.8,863 2121.1,811.4 2121.5,811.4 2121.9,863 2122.2,863 2122.6,811.4 2123,813.4 2123.4,863 2123.8,863 2124.1,813.4 2124.5,813.4 2124.9,863 2125.2,863 2125.6,813.4 2126,813.4 2126.4,863 2126.8,863 2127.1,813.4 2127.5,813.4 2127.9,863 2128.2,863 2128.6,813.4 2129,813.4 2129.4,863 2129.8,863 2130.1,813.4 2130.5,813.4 2130.9,863 2131.2,863 2131.6,813.2 2132,813.2 2132.4,863 2132.8,863 2133.1,813.2 2133.5,813.2 2133.9,863 2134.2,863 2134.6,813.2 2135,813.2 2135.4,863 2135.8,863 2136.1,813.2 2136.5,813.2 2136.9,863 2137.2,863 2137.6,811.7 2138,811.7 2138.4,863 2138.8,863 2139.1,811.7 2139.5,811.7 2139.9,863 2140.2,863 2140.6,811.7 2141,811.7 2141.4,863 2141.8,863 2142.1,811.7 2142.5,811.7 2142.9,863 2143.2,863 2143.6,811.5 2144,811.5 2144.4,863 2144.8,863 2145.1,811.5 2145.5,811.5 2145.9,863 2146.2,848.5 2146.6,811.5 2147,811.5 2147.4,848.5 2147.8,848.5 2148.1,811.5 2148.5,813.1 2148.9,848.4 2149.2,848.4 2149.6,813.1 2150,813.1 2150.4,848.4 2150.8,847.3 2151.1,811.7 2151.5,811.7 2151.9,847.3 2152.2,847.3 2152.6,811.7 2153,811.7 2153.4,847.3 2153.8,847.3 2154.1,811.7 2154.5,812.4 2154.9,847.8 2155.2,847.8 2155.6,812.4 2156,812.4 2156.4,847.8 2156.8,847.8 2157.1,812.4 2157.5,813.1 2157.9,848.5 2158.2,848.5 2158.6,813.1 2159,813.1 2159.4,848.5 2159.8,848.5 2160.1,813.1 2160.5,813.1 2160.9,848.5 2161.2,848.5 2161.6,813.1 2162,813.1 2162.4,848.5 2162.8,848.8 2163.1,811.1 2163.5,811.1 2163.9,848.8 2164.2,848.8 2164.6,811.1 2165,811.1 2165.4,848.8 2165.8,848.1 2166.1,813.9 2166.5,813.9 2166.9,848.1 2167.2,848.1 2167.6,813.9 2168,813.9 2168.4,848.1 2168.8,848.3 2169.1,813.1 2169.5,813.1 2169.9,848.3 2170.2,848.3 2170.6,813.1 2171,813.1 2171.4,848.3 2171.8,848.3 2172.1,813.1 2172.5,813.1 2172.9,848.3 2173.2,848.3 2173.6,813.1 2174,813.1 2174.4,848.3 2174.8,847.1 2175.1,813.3 2175.5,813.3 2175.9,847.1 2176.2,847.1 2176.6,813.3 2177,813.3 2177.4,847.1 2177.8,847.1 2178.1,813.3 2178.5,813.3 2178.9,847.1 2179.2,847 2179.6,811.2 2180,811.2 2180.4,847" fill="none" stroke="#ff0000" stroke-width="5.5" stroke-linejoin="round" stroke-linecap="round"/>
<polyline points="328,871 328.4,905 328.8,905 329.1,871 329.5,871 329.9,905 330.2,905 330.6,871 331,871 331.4,905 331.8,905 332.1,871 332.5,871 332.9,905 333.2,905 333.6,871 334,879.1 334.4,879.1 334.8,879.1 335.1,879.1 335.5,879.1 335.9,879.1 336.2,879.1 336.6,879.1 337,872.2 337.4,904.2 337.8,904.2 338.1,872.2 338.5,872.2 338.9,904.2 339.2,904.2 339.6,872.2 340,872.2 340.4,904.2 340.8,904.2 341.1,872.2 341.5,872.2 341.9,904.2 342.2,904.2 342.6,872.2 343,890.2 343.4,890.2 343.8,890.2 344.1,890.2 344.5,890.2 344.9,890.2 345.2,890.2 345.6,890.2 346,890.2 346.4,890.2 346.8,890.2 347.1,890.2 347.5,890.2 347.9,890.2 348.2,890.2 348.6,890.2 349,872.7 349.4,900 349.8,900 350.1,872.7 350.5,872.7 350.9,900 351.2,900 351.6,872.7 352,872.7 352.4,900 352.8,890 353.1,890 353.5,890 353.9,890 354.2,890 354.6,890 355,890 355.4,890 355.8,890 356.1,890 356.5,890 356.9,890 357.2,890 357.6,890 358,901 358.4,901 358.8,901 359.1,901 359.5,901 359.9,901 360.2,901 360.6,901 361,901 361.4,901 361.8,901 362.1,872.7 362.5,872.7 362.9,901 363.2,901 363.6,872.7 364,872.7 364.4,901 364.8,901 365.1,872.7 365.5,872.7 365.9,901 366.2,901 366.6,872.7 367,871.1 367.4,904.1 367.8,904.1 368.1,871.1 368.5,871.1 368.9,904.1 369.2,904 369.6,872.3 370,872.3 370.4,904 370.8,904 371.1,872.3 371.5,872.3 371.9,904 372.2,904 372.6,872.3 373,872.3 373.4,904 373.8,887.1 374.1,887.1 374.5,887.1 374.9,887.1 375.2,887.1 375.6,887.1 376,887.1 376.4,887.1 376.8,887.1 377.1,887.1 377.5,894 377.9,894 378.2,894 378.6,894 379,894 379.4,894 379.8,894 380.1,894 380.5,894 380.9,923 381.2,923 381.6,871.8 382,871.8 382.4,923 382.8,923 383.1,871.8 383.5,871.8 383.9,923 384.2,923 384.6,871.8 385,871.2 385.4,923 385.8,903.7 386.1,871.2 386.5,871.2 386.9,903.7 387.2,903.7 387.6,871.2 388,871.2 388.4,903.7 388.8,903.7 389.1,871.2 389.5,871.7 389.9,897.3 390.2,897.3 390.6,871.7 391,871.7 391.4,897.3 391.8,897.3 392.1,871.7 392.5,871.7 392.9,897.3 393.2,897.3 393.6,871.7 394,872.6 394.4,900.8 394.8,900.8 395.1,872.6 395.5,872.6 395.9,900.8 396.2,902.9 396.6,871.8 397,871.8 397.4,902.9 397.8,902.9 398.1,871.8 398.5,871.8 398.9,902.9 399.2,902.9 399.6,871.8 400,871.8 400.4,902.9 400.8,902.9 401.1,871.8 401.5,887.9 401.9,887.9 402.2,887.9 402.6,846 403,846 403.4,887.9 403.8,887.9 404.1,846 404.5,846 404.9,887.9 405.2,887.9 405.6,846 406,846 406.4,891.1 406.8,891.1 407.1,891.1 407.5,891.1 407.9,891.1 408.2,891.1 408.6,891.1 409,891.1 409.4,891.1 409.8,891.1 410.1,891.1 410.5,891.1 410.9,891.1 411.2,891.1 411.6,891.1 412,898.7 412.4,898.7 412.8,898.7 413.1,898.7 413.5,898.7 413.9,898.7 414.2,898.7 414.6,898.7 415,898.7 415.4,898.7 415.8,897.1 416.1,872.3 416.5,872.3 416.9,897.1 417.2,897.1 417.6,872.3 418,871.5 418.4,893.5 418.8,893.5 419.1,871.5 419.5,871.5 419.9,893.5 420.2,893.5 420.6,871.5 421,871.5 421.4,893.5 421.8,893.5 422.1,871.5 422.5,871.5 422.9,893.5 423.2,896.1 423.6,871.4 424,871.4 424.4,896.1 424.8,896.1 425.1,871.4 425.5,871.4 425.9,896.1 426.2,896.1 426.6,871.4 427,871.2 427.4,898.6 427.8,898.6 428.1,871.2 428.5,871.2 428.9,898.6 429.2,898.6 429.6,871.2 430,874 430.4,874 430.8,874 431.1,874 431.5,874 431.9,874 432.2,923 432.6,874 433,874 433.4,923 433.8,923 434.1,883 434.5,883 434.9,923 435.2,923 435.6,883 436,883 436.4,923 436.8,883 437.1,883 437.5,878.9 437.9,878.9 438.2,878.9 438.6,878.9 439,878.9 439.4,878.9 439.8,878.9 440.1,878.9 440.5,878.9 440.9,878.9 441.2,901 441.6,871.1 442,871.1 442.4,901 442.8,901 443.1,871.1 443.5,871.1 443.9,901 444.2,887.9 444.6,887.9 445,887.9 445.4,887.9 445.8,887.9 446.1,887.9 446.5,887.9 446.9,887.9 447.2,887.9 447.6,887.9 448,887.9 448.4,887.9 448.8,887.9 449.1,887.9 449.5,887.9 449.9,887.9 450.2,902.2 450.6,871.1 451,871.1 451.4,902.2 451.8,902.2 452.1,871.1 452.5,885 452.9,885 453.2,885 453.6,885 454,885 454.4,885 454.8,885 455.1,885 455.5,885 455.9,885 456.2,885 456.6,885 457,885 457.4,885 457.8,902.8 458.1,872.7 458.5,872.7 458.9,902.8 459.2,902.8 459.6,872.7 460,872.7 460.4,902.8 460.8,899.3 461.1,899.3 461.5,899.3 461.9,899.3 462.2,899.3 462.6,899.3 463,899.3 463.4,899.3 463.8,899.3 464.1,899.3 464.5,872.7 464.9,899.2 465.2,899.2 465.6,872.7 466,872.7 466.4,899.2 466.8,899.2 467.1,872.7 467.5,872.7 467.9,899.2 468.2,899.2 468.6,872.7 469,872.7 469.4,899.1 469.8,899.1 470.1,872.7 470.5,872.7 470.9,899.1 471.2,899.1 471.6,872.7 472,872.7 472.4,899.1 472.8,894.5 473.1,894.5 473.5,894.5 473.9,894.5 474.2,894.5 474.6,894.5 475,894.5 475.4,894.5 475.8,894.5 476.1,894.5 476.5,894.5 476.9,923 477.2,923 477.6,894.5 478,894.5 478.4,923 478.8,923 479.1,872.3 479.5,872.3 479.9,923 480.2,923 480.6,872.3 481,872.3 481.4,923 481.8,895.3 482.1,872.3 482.5,872.3 482.9,895.3 483.2,895.3 483.6,872.3 484,871.5 484.4,899.2 484.8,899.2 485.1,871.5 485.5,871.5 485.9,899.2 486.2,887.2 486.6,887.2 487,887.2 487.4,887.2 487.8,887.2 488.1,887.2 488.5,887.2 488.9,887.2 489.2,901.2 489.6,872.9 490,872.9 490.4,901.2 490.8,901.2 491.1,872.9 491.5,872.9 491.9,901.2 492.2,901.2 492.6,872.9 493,872.9 493.4,901.2 493.8,901.2 494.1,872.9 494.5,871.1 494.9,895.1 495.2,895.1 495.6,871.1 496,871.1 496.4,895.1 496.8,895.1 497.1,871.1 497.5,871.1 497.9,895.1 498.2,895.1 498.6,871.1 499,871.1 499.4,895.1 499.8,895.1 500.1,871.1 500.5,893 500.9,893 501.2,893 501.6,893 502,893 502.4,893 502.8,893 503.1,893 503.5,893 503.9,893 504.2,893 504.6,893 505,893 505.4,893 505.8,893 506.1,893 506.5,898.9 506.9,898.9 507.2,898.9 507.6,898.9 508,898.9 508.4,898.9 508.8,898.9 509.1,898.9 509.5,898.9 509.9,898.9 510.2,877.5 510.6,877.5 511,877.5 511.4,877.5 511.8,877.5 512.1,877.5 512.5,877.5 512.9,877.5 513.2,877.5 513.6,877.5 514,877.5 514.4,877.5 514.8,877.5 515.1,877.5 515.5,878.5 515.9,878.5 516.2,878.5 516.6,878.5 517,878.5 517.4,878.5 517.8,895.1 518.1,871.7 518.5,871.7 518.9,895.1 519.2,895.1 519.6,871.7 520,871.7 520.4,895.1 520,897.6 520.4,905.9 520.7,905.9 521.1,897.6 521.5,897.6 521.9,905.9 522.2,905.9 522.6,897.6 523,897.6 523.4,905.9 523.7,905.1 524.1,896.7 524.5,896.7 524.8,905.1 525.2,905.1 525.6,896.7 526,896.7 526.3,905.1 526.7,905.1 527.1,896.7 527.5,896.7 527.8,905.1 528.2,905.1 528.6,896.7 528.9,896.7 529.3,905.1 529.7,905.7 530.1,896.3 530.4,896.3 530.8,905.7 531.2,905.7 531.6,896.3 531.9,896.3 532.3,905.7 532.7,905.7 533,896.3 533.4,896.3 533.8,905.7 534.2,907.5 534.5,898 534.9,898 535.3,907.5 535.7,907.5 536,898 536.4,898 536.8,907.5 537.1,905.2 537.5,897 537.9,897 538.3,905.2 538.6,905.2 539,897 539.4,897 539.8,905.2 540.1,905.2 540.5,897 540.9,897 541.2,905.2 541.6,906.4 542,897.2 542.4,897.2 542.7,906.4 543.1,906.4 543.5,897.2 543.9,897.2 544.2,906.4 544.6,906.4 545,897.2 545.3,897.6 545.7,907 546.1,907 546.5,897.6 546.8,897.6 547.2,907 547.6,905.5 548,896.2 548.3,871 548.7,905.5 549.1,905.5 549.4,871 549.8,871 550.2,905.5 550.6,905.5 550.9,871 551.3,871 551.7,906.9 552.1,906.9 552.4,871 552.8,871 553.2,906.9 553.5,906.9 553.9,871 554.3,871 554.7,906.9 555,906.9 555.4,871 555.8,871 556.2,906.9 556.5,905.9 556.9,871 557.3,871 557.6,905.9 558,905.9 558.4,871 558.8,871 559.1,906.2 559.5,906.2 559.9,871 560.3,896.7 560.6,906.2 561,906.2 561.4,896.7 561,880 561.4,900 561.8,898.5 562.1,876.2 562.5,872.5 562.9,897 563.2,895.5 563.6,868.8 564,865 564.4,894 564.8,892.5 565.1,861.2 565.5,857.5 565.9,891 566.2,889.5 566.6,853.8 567,850 567.4,888 567,848.8 567.4,883.6 567.7,883.6 568.1,848.8 568.5,848.8 568.9,883.6 569.2,883.6 569.6,848.8 570,848.8 570.3,883.6 570.7,883.6 571.1,848.8 571.4,848.8 571.8,883.6 572.2,879.1 572.6,848.1 572.9,848.1 573.3,879.1 573.7,879.1 574,848.1 574.4,848.1 574.8,879.1 575.1,879.1 575.5,848.1 575.9,847.4 576.3,880.6 576.6,880.6 577,847.4 577.4,847.4 577.7,880.6 578.1,880.6 578.5,847.4 578.9,849.3 579.2,884.2 579.6,884.2 580,849.3 580.3,849.3 580.7,884.2 581.1,884.2 581.4,849.3 581.8,849.3 582.2,884.2 582.6,884.2 582.9,849.3 583.3,847.4 583.7,882.8 584,882.8 584.4,847.4 584.8,847.4 585.2,882.8 585.5,882.8 585.9,847.4 586.3,847.4 586.6,882.8 587,882.8 587.4,847.4 587,847 587.4,885 587.8,881.7 588.1,843.1 588.5,839.2 588.9,878.3 589.2,875 589.6,835.2 590,831.3 590.4,871.7 590.8,868.3 591.1,827.4 591.5,823.5 591.9,865 592.2,861.7 592.6,819.6 593,815.7 593.4,858.3 593.8,855 594.1,811.8 594.5,807.8 594.9,851.7 595.2,848.3 595.6,803.9 596,800 596.4,845 596,777.2 596.4,807 596.7,807 597.1,777.2 597.5,777.2 597.9,807 598.2,807 598.6,777.2 599,777.2 599.3,807 599.7,807 600.1,777.2 600.4,778.4 600.8,806.7 601.2,806.7 601.6,778.4 601.9,778.4 602.3,806.7 602.7,806.7 603,778.4 603.4,778.4 603.8,806.7 604.1,806.7 604.5,778.4 604.9,777.1 605.3,808.5 605.6,808.5 606,777.1 606.4,777.1 606.7,808.5 607.1,808.5 607.5,777.1 607.9,778.8 608.2,806.5 608.6,806.5 609,778.8 609.3,778.8 609.7,806.5 610.1,806.5 610.4,778.8 610.8,778.8 611.2,806.5 611.6,806.5 611.9,778.8 612.3,778.8 612.7,806.5 613,806.5 613.4,778.8 613.8,777.5 614.2,805.8 614.5,805.8 614.9,777.5 615.3,777.5 615.6,805.8 616,805.8 616.4,777.5 616,748 616.4,778 616.8,778 617.2,748 617.6,748 617.9,778 618.3,778 618.7,748 619.1,748 619.5,778 619.9,778 620.3,748 620.7,748 621,778 621.4,778 621.8,748 622.2,748 622.6,778 623,778 623.4,748 624,720 624.5,600 624.9,740 625.2,750 625.6,525.5 626,451 626.4,760 626,451 626.4,700 626.7,700 627.1,451 627.4,451 627.8,700 628.1,700 628.5,451 628.8,451 629.2,700 629.5,700 629.9,451 629.5,451 629.9,760 630.3,770 630.7,500.7 631.2,550.3 631.5,780 632,790 632.4,600 634,760 636,751.9 636.4,807 636.8,807 637.1,751.9 637.5,751.9 637.9,807 638.3,807 638.7,751.9 639.1,751.9 639.4,807 639.8,807 640.2,751.9 640.6,751.9 641,807 641.4,808.3 641.7,752.4 642.1,752.4 642.5,808.3 642.9,808.3 643.3,752.4 643.6,752.4 644,808.3 644.4,808.3 644.8,752.4 645.2,753.7 645.6,808.2 645.9,808.2 646.3,753.7 646.7,753.7 647.1,808.2 647.5,808.2 647.8,753.7 648.2,753.7 648.6,808.2 649,806.6 649.4,753.7 649,789 649.4,838 649.8,838 650.2,789 650.6,789 650.9,838 651.3,838 651.7,789 652.1,789 652.5,838 652.9,838 653.3,789 653.7,789 654,838 654.4,838 654.8,789 655.2,789 655.6,838 656,838 656.4,789 656,780.2 656.4,810.6 656.7,810.6 657.1,780.2 657.5,780.2 657.8,810.6 658.2,810.6 658.6,780.2 658.9,780.4 659.3,809.7 659.7,809.7 660.1,780.4 660.4,780.4 660.8,809.7 661.2,809.7 661.5,780.4 661.9,780.4 662.3,809.7 662.6,810.1 663,779.4 663.4,779.4 663.7,810.1 664.1,810.1 664.5,779.4 664.8,779.4 665.2,810.1 665.6,810.1 666,779.4 666.3,781.1 666.7,810.2 667.1,810.2 667.4,781.1 667.8,781.1 668.2,810.2 668.5,810.2 668.9,781.1 669.3,781.1 669.6,810.2 670,810.2 670.4,781.1 670,775.7 670.4,813.4 670.8,813.4 671.1,775.7 671.5,775.7 671.9,813.4 672.2,813.4 672.6,775.7 673,775.7 673.4,813.4 673.8,811.2 674.1,775.9 674.5,775.9 674.9,811.2 675.2,811.2 675.6,775.9 676,775.9 676.4,811.2 676.8,813.7 677.1,774.8 677.5,774.8 677.9,813.7 678.2,813.7 678.6,774.8 679,775.2 679.4,811.9 679.8,811.9 680.1,775.2 680.5,775.2 680.9,811.9 681.2,811.9 681.6,775.2 682,775.2 682.4,811.9 682.8,811.9 683.1,775.2 683.5,775.2 683.9,811.9 684.2,813.6 684.6,774.6 685,774.6 685.4,813.6 685,795.1 685.4,835.5 685.8,835.5 686.1,795.1 686.5,795.1 686.9,835.5 687.3,835.5 687.7,795.1 688,796.7 688.4,834.5 688.8,834.5 689.2,796.7 689.6,796.7 689.9,834.5 690.3,834.5 690.7,796.7 691.1,796.7 691.4,834.5 691.8,834.5 692.2,796.7 692.6,797 693,833.9 693.3,833.9 693.7,797 694.1,797 694.5,833.9 694.9,833.9 695.2,797 695.6,795.9 696,833.6 696.4,833.6 696.8,795.9 697.1,795.9 697.5,833.6 697.9,833.6 698.3,795.9 698.7,795.9 699,833.6 699.4,833.6 699.8,795.9 700.2,797.5 700.5,835.7 700.9,835.7 701.3,797.5 701.7,797.5 702.1,835.7 702.4,835.7 702.8,797.5 703.2,796.2 703.6,835.3 704,835.3 704.3,796.2 704.7,796.2 705.1,835.3 705.5,835.3 705.9,796.2 706.2,796.2 706.6,835.3 707,835.3 707.4,796.2 709,780 711,730 714,690 716.5,600 718.5,456 717,453.6 717.4,453.6 717.8,453.7 718.1,453.7 718.5,453.8 718.9,453.8 719.2,453.9 719.6,453.9 720,454 720.4,454 720.8,457.9 721.1,457.9 721.5,458 721.9,458 722.2,458.1 722.6,458.1 723,458.2 723.4,458.2 723.8,458.3 724.1,458.3 724.5,458.4 724.9,458.4 725.2,458.5 725.6,458.5 726,458.6 726.4,458.6 726.8,455.1 727.1,455.1 727.5,455.1 727.9,455.1 728.2,455.2 728.6,455.2 729,455.3 729.4,455.3 729.8,455.4 730.1,455.4 730.5,455.5 730.9,455.5 731.2,455.6 731.6,455.6 732,455.7 732.4,455.7 732.8,455.8 733.1,455.8 733.5,456.2 733.9,456.2 734.2,456.3 734.6,456.3 735,456.4 735.4,456.4 735.8,456.5 736.1,456.5 736.5,456.6 736.9,456.6 737.2,456.7 737.6,456.7 738,456.1 738.4,456.1 738.8,456.2 739.1,456.2 739.5,456.3 739.9,456.3 740.2,456.4 740.6,456.4 741,456.2 741.4,456.2 741.8,461 742.1,461 742.5,460.9 742.9,460.9 743.2,460.7 743.6,460.7 744,460.6 744.4,460.6 744.8,460.4 745.1,460.4 745.5,460.3 745.9,460.3 746.2,460.1 746.6,460.1 747,460 747.4,460 747.8,459.8 748.1,459.8 748.5,453.3 748.9,453.3 749.2,453.2 749.6,453.2 750,453 750.4,453 750.8,452.9 751.1,452.9 751.5,452.7 751.9,452.7 752.2,452.6 752.6,452.6 753,458.7 753.4,458.7 753.8,458.5 754.1,458.5 754.5,458.4 754.9,458.4 755.2,458.2 755.6,458.2 756,458.1 756.4,458.1 756.8,457.9 757.1,457.9 757.5,457.8 757.9,457.8 758.2,457.6 758.6,457.6 759,453.6 759.4,453.6 759.8,453.4 760.1,453.4 760.5,453.5 760.9,453.5 761.2,453.8 761.6,453.8 762,454 762.4,454 762.8,454.2 763.1,454.2 763.5,454.4 763.9,454.4 764.2,454.7 764.6,454.7 765,454.9 765.4,454.9 765.8,457.5 766.1,457.5 766.5,457.8 766.9,457.8 767.2,458 767.6,458 768,458.2 768.4,458.2 768.8,458.4 769.1,458.4 769.5,458.7 769.9,458.7 770.2,458.9 770.6,458.9 771,459.1 771.4,459.1 771.8,457.5 772.1,457.5 772.5,457.7 772.9,457.7 773.2,457.9 773.6,457.9 774,458.1 774.4,458.1 774.8,458.4 775.1,458.4 775.5,458.6 775.9,458.6 776.2,458.8 776.6,458.8 777,459 777.4,459 777.8,461.3 778.1,461.3 778.5,461.5 778.9,461.5 779.2,461.7 779.6,461.7 780,462 780.4,462 780.8,461.8 781.1,461.8 781.5,461.7 781.9,461.7 782.2,461.5 782.6,461.5 783,461.4 783.4,461.4 783.8,461.2 784.1,461.2 784.5,461.1 784.9,461.1 785.2,458.5 785.6,458.5 786,458.3 786.4,458.3 786.8,458.2 787.1,458.2 787.5,458 787.9,458 788.2,457.9 788.6,457.9 789,457.7 789.4,457.7 789.8,457.2 790.1,457.2 790.5,457 790.9,457 791.2,456.9 791.6,456.9 792,456.7 792.4,456.7 792.8,456.6 793.1,456.6 793.5,457.2 793.9,457.2 794.2,457.1 794.6,457.1 795,456.9 795.4,456.9 795.8,456.8 796.1,456.8 796.5,456.6 796.9,456.6 797.2,456.5 797.6,456.5 798,456.3 798.4,456.3 798.8,456.2 799.1,456.2 799.5,456 799.9,456 800.2,458 800.6,458 801,458 801.4,458 801.8,458.1 802.1,458.1 802.5,458.1 802.9,458.1 803.2,458.2 803.6,458.2 804,458.2 804.4,458.2 804.8,458.3 805.1,458.3 805.5,455.3 805.9,455.3 806.2,455.4 806.6,455.4 807,455.4 807.4,455.4 807.8,455.5 808.1,455.5 808.5,455.5 808.9,455.5 809.2,456.6 809.6,456.6 810,456.6 810.4,456.6 810.8,456.7 811.1,456.7 811.5,456.7 811.9,456.7 812.2,456.8 812.6,456.8 813,456.8 813.4,456.8 813.8,456.9 814.1,456.9 814.5,460 814.9,460 815.2,460.1 815.6,460.1 816,460.1 816.4,460.1 816.8,460.2 817.1,460.2 817.5,460.2 817.9,460.2 818.2,460.3 818.6,460.3 819,460.3 819.4,460.3 819.8,460.4 820.1,460.4 820.5,457.7 820.9,457.7 821.2,457.7 821.6,457.7 822,457.8 822.4,457.8 822.8,457.8 823.1,457.8 823.5,457.9 823.9,457.9 824.2,457.9 824.6,457.9 825,458 825.4,458 825.8,458 826.1,458 826.5,458.1 826.9,458.1 827.2,458.1 827.6,458.1 828,458.1 828.4,458.1 828.8,458.2 829.1,458.2 829.5,458.2 829.9,458.2 830.2,458.3 830.6,458.3 831,458.2 831.4,458.2 831.8,458.2 832.1,458.2 832.5,458.1 832.9,458.1 833.2,458.5 833.6,458.5 834,458.5 834.4,458.5 834.8,458.4 835.1,458.4 835.5,458.4 835.9,458.4 836.2,458.4 836.6,458.4 837,458.3 837.4,458.3 837.8,458.3 838.1,458.3 838.5,458.3 838.9,458.3 839.2,458.2 839.6,458.2 840,458.2 840.4,458.2 840.8,456.7 841.1,456.7 841.5,456.7 841.9,456.7 842.2,456.7 842.6,456.7 843,456.6 843.4,456.6 843.8,456.6 844.1,456.6 844.5,456.5 844.9,456.5 845.2,456.5 845.6,456.5 846,456.5 846.4,456.5 846.8,459 847.1,459 847.5,459 847.9,459 848.2,458.9 848.6,458.9 849,458.9 849.4,458.9 849.8,458.9 850.1,458.9 850.5,458.8 850.9,458.8 851.2,458.8 851.6,458.8 852,459.7 852.4,459.7 852.8,459.7 853.1,459.7 853.5,459.7 853.9,459.7 854.2,459.6 854.6,459.6 855,459.6 855.4,459.6 855.8,459.5 856.1,459.5 856.5,459.9 856.9,459.9 857.2,459.8 857.6,459.8 858,459.8 858.4,459.8 858.8,459.7 859.1,459.7 859.5,459.7 859.9,459.7 860.2,459.7 860.6,459.7 861,459.6 861.4,459.6 861.8,459.6 862.1,459.6 862.5,456.9 862.9,456.9 863.2,456.8 863.6,456.8 864,456.8 864.4,456.8 864.8,456.8 865.1,456.8 865.5,456.7 865.9,456.7 866.2,456.7 866.6,456.7 867,456.6 867.4,456.6 867.8,456.6 868.1,456.6 868.5,452.7 868.9,452.7 869.2,452.7 869.6,452.7 870,452.6 870.4,452.6 870.8,453.3 871.1,453.3 871.5,453.9 871.9,453.9 872.2,454.5 872.6,454.5 873,460.3 873.4,460.3 873.8,460.9 874.1,460.9 874.5,461.5 874.9,461.5 875.2,462.1 875.6,462.1 876,462.8 876.4,462.8 876.8,463.4 877.1,463.4 877.5,464 877.9,464 878.2,464.6 878.6,464.6 879,465.3 879.4,465.3 879.8,465.9 880.1,465.9 880.5,466.6 880.9,466.6 881.2,467.2 881.6,467.2 882,467.8 882.4,467.8 882.8,468 883.1,468 883.5,468.1 883.9,468.1 884.2,468.3 884.6,468.3 885,468 885.4,468 885.8,468.1 886.1,468.1 886.5,468.3 886.9,468.3 887.2,468.5 887.6,468.5 888,468.6 888.4,468.6 888.8,466.7 889.1,466.7 889.5,466.9 889.9,466.9 890.2,467.1 890.6,467.1 891,467.2 891.4,467.2 891.8,467.4 892.1,467.4 892.5,467.6 892.9,467.6 893.2,467.8 893.6,467.8 894,468 894.4,468 894.8,468.2 895.1,468.2 895.5,468.3 895.9,468.3 896.2,468.5 896.6,468.5 897,468.7 897.4,468.7 897.8,468.8 898.1,468.8 898.5,469 898.9,469 899.2,469.2 899.6,469.2 900,466.9 900.4,466.9 900.8,466.8 901.1,466.8 901.5,466.8 901.9,466.8 902.2,466.7 902.6,466.7 903,466.7 903.4,466.7 903.8,466.7 904.1,466.7 904.5,466.6 904.9,466.6 905.2,467.7 905.6,467.7 906,467.7 906.4,467.7 906.8,467.6 907.1,467.6 907.5,467.6 907.9,467.6 908.2,467.6 908.6,467.6 909,469.7 909.4,469.7 909.8,469.7 910.1,469.7 910.5,469.6 910.9,469.6 911.2,469.6 911.6,469.6 912,469.6 912.4,469.6 912.8,469.5 913.1,469.5 913.5,466.4 913.9,466.4 914.2,466.4 914.6,466.4 915,466.4 915.4,466.4 915.8,466.3 916.1,466.3 916.5,466.3 916.9,466.3 917.2,470.8 917.6,470.8 918,470.7 918.4,470.7 918.8,470.7 919.1,470.7 919.5,470.7 919.9,470.7 920.2,470.6 920.6,470.6 921,470.7 921.4,470.7 921.8,470.7 922.1,470.7 922.5,470.6 922.9,470.6 923.2,470.6 923.6,470.6 924,470.6 924.4,470.6 924.8,470.5 925.1,470.5 925.5,470.5 925.9,470.5 926.2,470.4 926.6,470.4 927,470.4 927.4,470.4 927.8,470.4 928.1,470.4 928.5,466 928.9,466 929.2,466 929.6,466 930,465.9 930.4,465.9 930.8,465.9 931.1,465.9 931.5,465.8 931.9,465.8 932.2,465.8 932.6,465.8 933,465.8 933.4,465.8 933.8,465.7 934.1,465.7 934.5,465.7 934.9,465.7 935.2,465.6 935.6,465.6 936,465.6 936.4,465.6 936.8,465.6 937.1,465.6 937.5,465.5 937.9,465.5 938.2,465.5 938.6,465.5 939,465.5 939.4,465.5 939.8,465.4 940.1,465.4 940.5,468.2 940.9,468.2 941.2,468.3 941.6,468.3 942,468.5 942.4,468.5 942.8,468.6 943.1,468.6 943.5,468.8 943.9,468.8 944.2,467.5 944.6,467.5 945,467.7 945.4,467.7 945.8,467.8 946.1,467.8 946.5,468 946.9,468 947.2,468.1 947.6,468.1 948,468.3 948.4,468.3 948.8,468.4 949.1,468.4 949.5,468.6 949.9,468.6 950.2,468.7 950.6,468.7 951,469 951.4,469 951.8,469.2 952.1,469.2 952.5,469.3 952.9,469.3 953.2,469.5 953.6,469.5 954,469.6 954.4,469.6 954.8,469.8 955.1,469.8 955.5,469.9 955.9,469.9 956.2,470.1 956.6,470.1 957,470.2 957.4,470.2 957.8,473.2 958.1,473.2 958.5,473.4 958.9,473.4 959.2,473.5 959.6,473.5 960,473.7 960.4,473.7 960.8,473.7 961.1,473.7 961.5,473.6 961.9,473.6 962.2,473.6 962.6,473.6 963,473.6 963.4,473.6 963.8,473.6 964.1,473.6 964.5,473.6 964.9,473.6 965.2,475.3 965.6,475.3 966,475.2 966.4,475.2 966.8,475.2 967.1,475.2 967.5,475.2 967.9,475.2 968.2,475.2 968.6,475.2 969,475.2 969.4,475.2 969.8,475.1 970.1,475.1 970.5,475.1 970.9,475.1 971.2,475.1 971.6,475.1 972,469.6 972.4,469.6 972.8,469.6 973.1,469.6 973.5,469.5 973.9,469.5 974.2,469.5 974.6,469.5 975,469.5 975.4,469.5 975.8,469.5 976.1,469.5 976.5,469.5 976.9,469.5 977.2,469.4 977.6,469.4 978,469.4 978.4,469.4 978.8,471.8 979.1,471.8 979.5,471.8 979.9,471.8 980.2,471.8 980.6,471.8 981,471.8 981.4,471.8 981.8,471.8 982.1,471.8 982.5,471.8 982.9,471.8 983.2,471.7 983.6,471.7 984,469.5 984.4,469.5 984.8,469.5 985.1,469.5 985.5,469.5 985.9,469.5 986.2,469.5 986.6,469.5 987,469.4 987.4,469.4 987.8,469.4 988.1,469.4 988.5,469.4 988.9,469.4 989.2,469.4 989.6,469.4 990,469.7 990.4,469.7 990.8,469.7 991.1,469.7 991.5,469.7 991.9,469.7 992.2,469.7 992.6,469.7 993,469.7 993.4,469.7 993.8,469.6 994.1,469.6 994.5,469.6 994.9,469.6 995.2,469.6 995.6,469.6 996,470.7 996.4,470.7 996.8,470.7 997.1,470.7 997.5,470.7 997.9,470.7 998.2,470.7 998.6,470.7 999,470.7 999.4,470.7 999.8,471.4 1000.1,471.4 1000.5,471.4 1000.9,471.4 1001.2,471.4 1001.6,471.4 1002,471.5 1002.4,471.5 1002.8,471.5 1003.1,471.5 1003.5,471.6 1003.9,471.6 1004.2,471.6 1004.6,471.6 1005,471.6 1005.4,471.6 1005.8,471.7 1006.1,471.7 1006.5,469.4 1006.9,469.4 1007.2,469.4 1007.6,469.4 1008,469.5 1008.4,469.5 1008.8,469.5 1009.1,469.5 1009.5,469.6 1009.9,469.6 1010.2,469.6 1010.6,469.6 1011,470.8 1011.4,470.8 1011.8,470.9 1012.1,470.9 1012.5,470.9 1012.9,470.9 1013.2,471 1013.6,471 1014,471 1014.4,471 1014.8,471 1015.1,471 1015.5,470.5 1015.9,470.5 1016.2,470.5 1016.6,470.5 1017,470.5 1017.4,470.5 1017.8,470.6 1018.1,470.6 1018.5,470.6 1018.9,470.6 1019.2,470.6 1019.6,470.6 1020,470.6 1020.4,470.6 1020.8,470.6 1021.1,470.6 1021.5,470.6 1021.9,470.6 1022.2,470.7 1022.6,470.7 1023,470.7 1023.4,470.7 1023.8,470.7 1024.1,470.7 1024.5,473.1 1024.9,473.1 1025.2,473.1 1025.6,473.1 1026,473.2 1026.4,473.2 1026.8,473.2 1027.1,473.2 1027.5,473.3 1027.9,473.3 1028.2,473.3 1028.6,473.3 1029,473.3 1029.4,473.3 1029.8,473.4 1030.1,473.4 1030.5,475.5 1030.9,475.5 1031.2,475.5 1031.6,475.5 1032,475.6 1032.4,475.6 1032.8,475.6 1033.1,475.6 1033.5,475.6 1033.9,475.6 1034.2,475.7 1034.6,475.7 1035,475.7 1035.4,475.7 1035.8,475.8 1036.1,475.8 1036.5,470.2 1036.9,470.2 1037.2,470.3 1037.6,470.3 1038,470.3 1038.4,470.3 1038.8,470.3 1039.1,470.3 1039.5,470.4 1039.9,470.4 1040.2,470.3 1040.6,470.3 1041,470.1 1041.4,470.1 1041.8,469.8 1042.1,469.8 1042.5,472.3 1042.9,472.3 1043.2,472.1 1043.6,472.1 1044,471.8 1044.4,471.8 1044.8,471.6 1045.1,471.6 1045.5,471.3 1045.9,471.3 1046.2,471.1 1046.6,471.1 1047,470.8 1047.4,470.8 1047.8,470.6 1048.1,470.6 1048.5,470.4 1048.9,470.4 1049.2,470.1 1049.6,470.1 1050,469.9 1050.4,469.9 1050.8,469.6 1051.1,469.6 1051.5,469.4 1051.9,469.4 1052.2,468.8 1052.6,468.8 1053,467.5 1053.4,467.5 1053.8,465.9 1054.1,465.9 1054.5,464.7 1054.9,464.7 1055.2,463.4 1055.6,463.4 1056,462.2 1056.4,462.2 1056.8,460.9 1057.1,460.9 1057.5,461.8 1057.9,461.8 1058.2,461 1058.6,461 1059,460.9 1059.4,460.9 1059.8,460.8 1060.1,460.8 1060.5,460.8 1060.9,460.8 1061.2,460.7 1061.6,460.7 1062,460.6 1062.4,460.6 1062.8,460.5 1063.1,460.5 1063.5,456.5 1063.9,456.5 1064.2,456.4 1064.6,456.4 1065,456.3 1065.4,456.3 1065.8,456.2 1066.1,456.2 1066.5,456.2 1066.9,456.2 1067.2,456.1 1067.6,456.1 1068,456 1068.4,456 1068.8,458 1069.1,458 1069.5,457.9 1069.9,457.9 1070.2,457.8 1070.6,457.8 1071,457.8 1071.4,457.8 1071.8,457.7 1072.1,457.7 1072.5,454.9 1072.9,454.9 1073.2,454.8 1073.6,454.8 1074,454.7 1074.4,454.7 1074.8,454.7 1075.1,454.7 1075.5,454.6 1075.9,454.6 1076.2,454.5 1076.6,454.5 1077,454.4 1077.4,454.4 1077.8,454.4 1078.1,454.4 1078.5,457.7 1078.9,457.7 1079.2,457.6 1079.6,457.6 1080,457.5 1080.4,457.5 1080.8,457.5 1081.1,457.5 1081.5,457.4 1081.9,457.4 1082.2,457.3 1082.6,457.3 1083,457.3 1083.4,457.3 1083.8,454.6 1084.1,454.6 1084.5,454.6 1084.9,454.6 1085.2,454.5 1085.6,454.5 1086,454.4 1086.4,454.4 1086.8,454.3 1087.1,454.3 1087.5,454.3 1087.9,454.3 1088.2,454.2 1088.6,454.2 1089,452.7 1089.4,452.7 1090.5,600 1092,865 1093,847.3 1093.4,879 1093.8,879 1094.1,847.3 1094.5,847.3 1094.9,879 1095.3,879 1095.7,847.3 1096,847.3 1096.4,879 1096.8,879.5 1097.2,847.7 1097.6,847.7 1097.9,879.5 1098.3,879.5 1098.7,847.7 1099.1,847.7 1099.5,879.5 1099.9,879.5 1100.2,847.7 1100.6,847.7 1101,879.5 1101.4,880.9 1101.8,847.9 1102.1,847.9 1102.5,880.9 1102.9,880.9 1103.3,847.9 1103.7,847.9 1104,880.9 1104.4,880.5 1104.8,848.4 1105.2,848.4 1105.6,880.5 1106,880.5 1106.3,848.4 1106.7,848.4 1107.1,880.5 1107.5,879.1 1107.9,847.9 1108.2,847.9 1108.6,879.1 1109,879.1 1109.4,847.9 1109,823 1109.4,854 1109.7,854 1110.1,823 1110.5,823 1110.8,854 1111.2,854 1111.6,823 1111.9,823 1112.3,854 1112.7,854 1113,823 1113.4,823 1113.8,854 1114.1,854 1114.5,823 1114.9,823 1115.2,854 1115.6,854 1116,823 1116.3,823 1116.7,854 1117.1,854 1117.4,823 1117.8,823 1118.2,854 1118.5,854 1118.9,823 1119.3,823 1119.6,854 1120,854 1120.4,823 1120,792 1120.4,832 1120.8,832 1121.1,792.1 1121.5,792.3 1121.9,832 1122.2,832 1122.6,792.5 1123,792.6 1123.4,832 1123.8,832 1124.1,792.8 1124.5,792.9 1124.9,832 1125.2,832 1125.6,793 1126,793.2 1126.4,832 1126.8,832 1127.1,793.4 1127.5,793.5 1127.9,832 1128.2,832 1128.6,793.6 1129,793.8 1129.4,832 1129.8,832 1130.1,794 1130.5,794.1 1130.9,832 1131.2,832 1131.6,794.2 1132,794.4 1132.4,832 1132.8,832 1133.1,794.5 1133.5,794.7 1133.9,832 1134.2,832 1134.6,794.9 1135,795 1135.4,832 1135,800 1135.4,832 1135.8,832.1 1136.1,800.2 1136.5,800.4 1136.9,832.2 1137.2,832.2 1137.6,800.6 1138,800.8 1138.4,832.3 1138.8,832.4 1139.1,801 1139.5,801.2 1139.9,832.5 1140.2,832.6 1140.6,801.5 1141,801.7 1141.4,832.7 1141.8,832.8 1142.1,801.9 1142.5,802.1 1142.9,832.8 1143.2,832.9 1143.6,802.3 1144,802.5 1144.4,833 1144.8,833.1 1145.1,802.7 1145.5,802.9 1145.9,833.2 1146.2,833.2 1146.6,803.1 1147,803.3 1147.4,833.3 1147.8,833.4 1148.1,803.5 1148.5,803.8 1148.9,833.5 1149.2,833.6 1149.6,804 1150,804.2 1150.4,833.7 1150.8,833.8 1151.1,804.4 1151.5,804.6 1151.9,833.8 1152.2,833.9 1152.6,804.8 1153,805 1153.4,834 1153,824.1 1153.4,856.1 1153.8,856.1 1154.1,824.1 1154.5,824.1 1154.9,856.1 1155.2,856.1 1155.6,824.1 1156,824.1 1156.4,856.1 1156.8,856.1 1157.1,824.1 1157.5,824.1 1157.9,856.1 1158.2,855.4 1158.6,823.8 1159,823.8 1159.4,855.4 1159.8,855.4 1160.1,823.8 1160.5,823.8 1160.9,855.4 1161.2,855.4 1161.6,823.8 1162,823.8 1162.4,855.4 1162.8,856.8 1163.1,823.8 1163.5,823.8 1163.9,856.8 1164.2,856.8 1164.6,823.8 1165,823.8 1165.4,856.8 1165.8,856.8 1166.1,823.8 1166.5,823.8 1166.9,856.8 1167.2,856.5 1167.6,823.5 1168,823.5 1168.4,856.5 1168.8,856.5 1169.1,823.5 1169.5,823.5 1169.9,856.5 1170.2,856.5 1170.6,823.5 1171,823.5 1171.4,856.5 1171.8,856.5 1172.1,823.5 1172.5,823.5 1172.9,856.5 1173.2,856.1 1173.6,824.9 1174,824.9 1174.4,856.1 1174.8,856.1 1175.1,824.9 1175.5,824.9 1175.9,856.1 1176.2,856.1 1176.6,824.9 1177,824.9 1177.4,856.1 1177.8,856.1 1178.1,824.9 1178.5,824.9 1178.9,856.1 1179.2,857.6 1179.6,826 1180,826 1180.4,857.6 1182,905 1184,873.2 1184.4,904.4 1184.8,904.4 1185.1,873.2 1185.5,873.2 1185.9,904.4 1186.2,904.4 1186.6,873.2 1187,873.2 1187.4,904.4 1187.8,904.3 1188.1,873.4 1188.5,873.4 1188.9,904.3 1189.2,904.3 1189.6,873.4 1190,873.4 1190.4,904.3 1190.8,904.3 1191.1,873.4 1191.5,873.4 1191.9,904.3 1192.2,906.9 1192.6,875 1193,875 1193.4,906.9 1193.8,906.9 1194.1,875 1194.5,875 1194.9,906.9 1195.2,905.5 1195.6,873.2 1196,873.2 1196.4,905.5 1196.8,905.5 1197.1,873.2 1197.5,873.2 1197.9,905.5 1198.2,905.5 1198.6,873.2 1199,874.7 1199.4,905 1199.8,905 1200.1,874.7 1200.5,874.7 1200.9,905 1201.2,905 1201.6,874.7 1202,874.7 1202.4,905 1202.8,905 1203.1,874.7 1203.5,874.7 1203.9,905 1204.2,906.8 1204.6,874.5 1205,874.5 1205.4,906.8 1205,874.8 1205.4,874.8 1205.7,874.8 1206.1,874.8 1206.5,874.8 1206.9,874.8 1207.2,874.8 1207.6,874.8 1208,873.3 1208.4,884.7 1208.7,884.7 1209.1,873.3 1209.5,873.3 1209.9,884.7 1210.2,884.7 1210.6,873.3 1211,873.3 1211.4,884.7 1211.7,877.7 1212.1,877.7 1212.5,877.7 1212.9,877.7 1213.2,877.7 1213.6,877.7 1214,877.7 1214.4,877.7 1214.7,879.3 1215.1,879.3 1215.5,879.3 1215.9,879.3 1216.2,879.3 1216.6,879.3 1217,879.3 1217.4,879.3 1217.7,879.3 1218.1,879.3 1218.5,879.3 1218.9,879.3 1219.2,879.3 1219.6,879.3 1220,879.3 1220.4,879.3 1220.7,873.7 1221.1,873.7 1221.5,873.7 1221.9,873.7 1222.2,873.7 1222.6,873.7 1223,875.6 1223.4,875.6 1223.7,875.6 1224.1,875.6 1224.5,875.6 1224.9,875.6 1225.2,875.6 1225.6,875.6 1226,875.6 1226.4,875.6 1226.7,875.6 1227.1,875.6 1227.5,875.6 1227.9,875.6 1228.2,875.6 1228.6,875.6 1229,873.4 1229.4,873.4 1229.7,873.4 1230.1,873.4 1230.5,873.4 1230.9,873.4 1231.2,873.4 1231.6,873.4 1232,873.4 1232.4,873.4 1232.7,881.4 1233.1,872.9 1233.5,872.9 1233.9,881.4 1234.2,881.4 1234.6,872.9 1235,872.9 1235.4,881.4 1235.7,881.4 1236.1,850 1236.5,850 1236.8,881.4 1237.2,881.4 1237.6,850 1238,850 1238.3,878.4 1238.7,878.4 1239.1,850 1239.5,850 1239.8,878.4 1240.2,878.4 1240.6,850 1241,850 1241.3,885.1 1241.7,885.1 1242.1,850 1242.5,850 1242.8,885.1 1243.2,885.1 1243.6,850 1244,850 1244.3,885.1 1244.7,885.1 1245.1,850 1245.5,850 1245.8,885.1 1246.2,885.1 1246.6,850 1247,850 1247.3,878.6 1247.7,878.6 1248.1,850 1248.5,850 1248.8,878.6 1249.2,878.6 1249.6,850 1250,850 1250.3,878.6 1250.7,878.6 1251.1,878.6 1251.5,878.6 1251.8,878.6 1252.2,878.6 1252.6,878.6 1253,873.5 1253.3,879 1253.7,879 1254.1,873.5 1254.5,873.5 1254.8,879 1255.2,879 1255.6,873.5 1256,873.5 1256.3,879 1256.7,879 1257.1,873.5 1257.5,873.6 1257.8,878.2 1258.2,878.2 1258.6,873.6 1259,873.6 1259.3,878.2 1259.7,877.5 1260.1,872 1260.5,872 1260.8,877.5 1261.2,877.5 1261.6,872 1262,872 1262.3,877.5 1262.7,877.5 1263.1,850 1263.5,850 1263.8,883.2 1264.2,908 1264.6,850 1265,850 1265.3,908 1265.7,908 1266.1,850 1266.4,850 1266.8,908 1267.2,908 1267.6,850 1267.9,850 1268.3,908 1268.7,908 1269.1,850 1269.4,850 1269.8,908 1270.2,908 1270.6,878.5 1270.9,878.5 1271.3,908 1271.7,878.5 1272.1,878.5 1272.4,877.2 1272.8,877.2 1273.2,877.2 1273.6,877.2 1273.9,877.2 1274.3,877.2 1274.7,877.2 1275.1,877.2 1275.4,877.2 1275.8,877.2 1276.2,877.2 1276.6,877.2 1276.9,877.2 1277.3,877.2 1277.7,877.8 1278.1,877.8 1278.4,877.8 1278.8,877.8 1279.2,877.8 1279.6,877.8 1279.9,877.8 1280.3,877.8 1280.7,877.8 1281.1,877.8 1281.4,877.8 1281.8,877.8 1282.2,877.8 1282.6,877.8 1282.9,872.2 1283.3,882.1 1283.7,882.1 1284.1,872.2 1284.4,872.2 1284.8,882.1 1285.2,882.1 1285.6,872.2 1285.9,872.2 1286.3,882.1 1286.7,882.1 1287.1,872.2 1287.4,872.2 1287.8,882.1 1288.2,877.6 1288.6,877.6 1288.9,877.6 1289.3,877.6 1289.7,877.6 1290.1,877.6 1290.4,877.6 1290.8,877.6 1291.2,877.6 1291.6,877.6 1291.9,873.4 1292.3,873.4 1292.7,908 1293.1,873.4 1293.4,873.4 1293.8,908 1294.2,908 1294.6,873.4 1294.9,873.4 1295.3,908 1295.7,908 1296.1,873.4 1296.4,873.4 1296.8,873.4 1297.2,873.4 1297.5,873.4 1297.9,875.4 1298.3,875.4 1298.7,875.4 1299,875.4 1299.4,875.4 1299.8,875.4 1300.2,875.4 1300.5,875.4 1300.9,875.4 1301.3,875.4 1301.7,875.4 1302,875.4 1302.4,873 1302.8,881.4 1303.2,881.4 1303.5,873 1303.9,873 1304.3,881.4 1304.7,881.4 1305,873 1305.4,872.5 1305.8,878.8 1306.2,878.8 1306.5,872.5 1306.9,872.5 1307.3,878.8 1307.7,878.8 1308,872.5 1308.4,872.5 1308.8,878.8 1309.2,876.9 1309.5,876.9 1309.9,876.9 1310.3,876.9 1310.7,876.9 1311,876.9 1311.4,876.9 1311.8,876.9 1312.2,877.1 1312.5,873.3 1312.9,873.3 1313.3,877.1 1313.7,877.1 1314,873.3 1314.4,884.2 1314.8,884.2 1315.2,884.2 1315.5,884.2 1315.9,884.2 1316.3,884.2 1316.7,884.2 1317,884.2 1317.4,884.2 1317.8,884.2 1318.2,900 1318.5,884.2 1318.9,872.7 1319.3,900 1319.7,900 1320,872.7 1320.4,872.7 1320.8,900 1321.2,900 1321.5,872.7 1321.9,872.7 1322.3,900 1322.7,884.3 1323,872.7 1323.4,873.5 1323.8,880.3 1324.2,880.3 1324.5,873.5 1324.9,873.5 1325.3,880.3 1325.7,880.3 1326,873.5 1326.4,873.5 1326.8,880.3 1327.1,880.3 1327.5,873.5 1327.9,873.5 1328.3,880.3 1328.6,882 1329,872.6 1329.4,872.6 1329.8,882 1330.1,882 1330.5,872.6 1330.9,872.6 1331.3,882 1331.6,877.3 1332,873.8 1332.4,873.8 1332.8,877.3 1333.1,877.3 1333.5,873.8 1333.9,873.8 1334.3,877.3 1334.6,877.3 1335,873.8 1335.4,876.4 1335.8,876.4 1336.1,876.4 1336.5,876.4 1336.9,876.4 1337.3,876.4 1337.6,876.4 1338,876.4 1338.4,873.2 1338.8,884.1 1339.1,884.1 1339.5,873.2 1339.9,873.2 1340.3,884.1 1340.6,884.1 1341,873.2 1341.4,873.2 1341.8,884.1 1342.1,884.1 1342.5,873.2 1342.9,873.2 1343.3,884.1 1343.6,884.1 1344,873.2 1344.4,879.6 1344.8,879.6 1345.1,879.6 1345.5,879.6 1345.9,879.6 1346.3,879.6 1346.6,879.6 1347,879.6 1347.4,847 1347.8,881.1 1348.1,881.1 1348.5,847 1348.9,847 1349.3,881.1 1349.6,881.1 1350,847 1350.4,847 1350.8,881.1 1351.1,881.1 1351.5,847 1351.9,847 1352.3,881.1 1352.6,875.4 1353,847 1353.4,847 1353.8,875.4 1354.1,875.4 1354.5,847 1354.9,847 1355.3,875.4 1355.6,875.4 1356,847 1356.4,847 1356.8,875.4 1357.1,882.8 1357.5,847 1357.9,847 1358.2,882.8 1358.6,882.8 1359,847 1359.4,847 1359.7,882.8 1360.1,882.8 1360.5,847 1360.9,847 1361.2,882.8 1361.6,882.8 1362,847 1362.4,847 1362.7,882.8 1363.1,875.7 1363.5,847 1363.9,847 1364.2,875.7 1364.6,875.7 1365,847 1365.4,847 1365.7,905 1366.1,905 1366.5,847 1366.9,847 1367.2,905 1367.6,905 1368,847 1368.4,847 1368.7,884 1369.1,884 1369.5,847 1369.9,847 1370.2,883 1370.6,883 1371,872.9 1371.4,872.9 1371.7,883 1372.1,883 1372.5,872.9 1372.9,872.9 1373.2,883 1373.6,883 1374,872.9 1374.4,872.9 1374.7,883 1375.1,878.7 1375.5,873.2 1375.9,873.2 1376.2,878.7 1376.6,878.7 1377,873.2 1377.4,873.2 1377.7,878.7 1378.1,878.7 1378.5,873.2 1378.9,880.8 1379.2,880.8 1379.6,880.8 1380,880.8 1380.4,880.8 1380.7,880.8 1381.1,880.8 1381.5,880.8 1381.9,873.1 1382.2,884.4 1382.6,884.4 1383,847 1383.4,847 1383.7,884.4 1384.1,884.4 1384.5,847 1384.9,847 1385.2,884.4 1385.6,884.4 1386,847 1386.4,847 1386.7,884.4 1387.1,876.5 1387.5,847 1387.9,847 1388.2,876.5 1388.6,876.5 1389,847 1389.3,847 1389.7,876.5 1390.1,876.5 1390.5,876.5 1390.8,876.5 1391.2,876.5 1391.6,876.5 1392,876.5 1392.3,876.5 1392.7,876.5 1393.1,874.4 1393.5,874.4 1393.8,874.4 1394.2,874.4 1394.6,874.4 1395,874.4 1395.3,874.4 1395.7,874.4 1396.1,902 1396.5,874.4 1396.8,874.4 1397.2,902 1397.6,902 1398,880.6 1398.3,880.6 1398.7,902 1399.1,902 1399.5,880.6 1399.8,880.6 1400.2,902 1400.6,880.6 1401,880.6 1401.3,880.6 1401.7,880.6 1402.1,880.6 1402.5,880.6 1402.8,872.6 1403.2,879.6 1403.6,879.6 1404,872.6 1404.3,872.6 1404.7,879.6 1405.1,879.6 1405.5,872.6 1405.8,873.8 1406.2,873.8 1406.6,873.8 1407,873.8 1407.3,873.8 1407.7,873.8 1408.1,873.8 1408.5,873.8 1408.8,873.8 1409.2,873.8 1409.6,883.6 1410,872.9 1410.3,872.9 1410.7,883.6 1411.1,883.6 1411.5,872.9 1411.8,872.9 1412.2,883.6 1412.6,883.6 1413,872.9 1413.3,872.9 1413.7,883.6 1414.1,875.4 1414.5,875.4 1414.8,875.4 1415.2,875.4 1415.6,875.4 1416,875.4 1416.3,875.4 1416.7,875.4 1417.1,879.4 1417.5,879.4 1417.8,879.4 1418.2,879.4 1418.6,879.4 1418.9,879.4 1419.3,879.4 1419.7,879.4 1420.1,879.4 1420.4,879.4 1420.8,879.4 1421.2,879.4 1421.6,879.4 1421.9,879.4 1422.3,879.4 1422.7,879.4 1423.1,879.4 1423.4,872.3 1423.8,872.3 1424.2,879.4 1424.6,879.4 1424.9,872.3 1425.3,872.3 1425.7,879.4 1426.1,879.4 1426.4,872.3 1426.8,872.3 1427.2,879.4 1427.6,879.4 1427.9,872.3 1428.3,872.7 1428.7,878.2 1429.1,878.2 1429.4,872.7 1429.8,872.7 1430.2,878.2 1430.6,878.2 1430.9,872.7 1431.3,872.7 1431.7,878.2 1432.1,878.2 1432.4,872.7 1432.8,872 1433.2,881.5 1433.6,881.5 1433.9,847 1434.3,847 1434.7,881.5 1435.1,881.5 1435.4,847 1435.8,847 1436.2,881.5 1436.6,879.4 1436.9,847 1437.3,847 1437.7,879.4 1438.1,879.4 1438.4,847 1438.8,847 1439.2,879.4 1439.6,879.4 1439.9,847 1440.3,847 1440.7,900 1441.1,900 1441.4,847 1441.8,847 1442.2,900 1442.6,900 1442.9,847 1443.3,847 1443.7,900 1444.1,879.7 1444.4,847 1444.8,847 1445.2,879.7 1445.6,879.7 1445.9,847 1446.3,847 1446.7,879.7 1447.1,879.7 1447.4,847 1447.8,847 1448.2,879.7 1448.6,880.5 1448.9,847 1449.3,847 1449.7,880.5 1450,880.5 1450.4,847 1450.8,847 1451.2,880.5 1451.5,880.5 1451.9,847 1452.3,847 1452.7,880.5 1453,885.9 1453.4,847 1453.8,847 1454.2,885.9 1454.5,885.9 1454.9,847 1455.3,847 1455.7,885.9 1456,885.9 1456.4,847 1456.8,847 1457.2,879.2 1457.5,879.2 1457.9,847 1458.3,847 1458.7,879.2 1459,879.2 1459.4,847 1459.8,847 1460.2,879.2 1460.5,879.2 1460.9,847 1461.3,847 1461.7,879.2 1462,879.2 1462.4,847 1462.8,847 1463.2,882.7 1463.5,882.7 1463.9,873.3 1464.3,873.3 1464.7,882.7 1465,882.7 1465.4,873.3 1465.8,873.3 1466.2,882.7 1466.5,882.7 1466.9,873.3 1467.3,872.1 1467.7,879.8 1468,905 1468.4,872.1 1468.8,872.1 1469.2,905 1469.5,905 1469.9,877 1470.3,877 1470.7,905 1471,877 1471.4,877 1471.8,877 1472.2,877 1472.5,880.8 1472.9,873.7 1473.3,873.7 1473.7,880.8 1474,880.8 1474.4,873.7 1474.8,873.7 1475.2,880.8 1475.5,880.8 1475.9,873.7 1476.3,873.7 1476.7,880.8 1477,880.8 1477.4,873.7 1477.8,873.7 1478.2,880.8 1478.5,881.6 1478.9,847 1479.3,847 1479.7,881.6 1480,881.6 1480.4,847 1480.8,847 1481.1,881.6 1481.5,881.6 1481.9,847 1482.3,847 1482.6,881.6 1483,881.6 1483.4,847 1483.8,847 1484.1,881.6 1484.5,878 1484.9,847 1485.3,847 1485.6,878 1486,878 1486.4,847 1486.8,847 1487.1,878 1487.5,878 1487.9,847 1488.3,847 1488.6,878 1489,878 1489.4,847 1489.8,847 1490.1,881.4 1490.5,881.4 1490.9,847 1491.3,847 1491.6,881.4 1492,881.4 1492.4,847 1492.8,847 1493.1,881.4 1493.5,878.3 1493.9,847 1494.3,847 1494.6,878.3 1495,878.3 1495.4,847 1495.8,847 1496.1,878.3 1496.5,878.3 1496.9,847 1497.3,878.3 1497.6,878.3 1498,878.3 1498.4,878.3 1498.8,876.8 1499.1,876.8 1499.5,876.8 1499.9,876.8 1500.3,876.8 1500.6,876.8 1501,876.8 1501.4,876.8 1501.8,875.4 1502.1,875.4 1502.5,875.4 1502.9,875.4 1503.3,849 1503.6,875.4 1504,875.4 1504.4,849 1504.8,849 1505.1,875.4 1505.5,879.2 1505.9,849 1506.3,849 1506.6,879.2 1507,879.2 1507.4,849 1507.8,849 1508.1,879.2 1508.5,879.2 1508.9,849 1509.3,849 1509.6,882.9 1510,882.9 1510.4,849 1513,849 1513.4,881 1513.8,878.9 1514.1,845.2 1514.5,841.5 1514.9,876.7 1515.3,874.6 1515.7,837.7 1516,834 1516.4,872.4 1516.8,870.3 1517.2,830.2 1517.6,826.4 1517.9,868.1 1518.3,866 1518.7,822.7 1519.1,818.9 1519.5,863.9 1519.9,861.7 1520.2,815.1 1520.6,811.4 1521,859.6 1521.4,857.4 1521.8,807.6 1522.1,803.9 1522.5,855.3 1522.9,853.1 1523.3,800.1 1523.7,796.3 1524,851 1524.4,848.9 1524.8,792.6 1525.2,788.8 1525.6,846.7 1526,844.6 1526.3,785 1526.7,781.3 1527.1,842.4 1527.5,840.3 1527.9,777.5 1528.2,773.8 1528.6,838.1 1529,836 1529.4,770 1529,750.5 1529.4,794 1529.7,794 1530.1,750.5 1530.5,750.5 1530.9,794 1531.2,794 1531.6,750.5 1532,750.5 1532.3,794 1532.7,794 1533.1,750.5 1533.5,750.5 1533.8,794 1534.2,791.7 1534.6,750.3 1534.9,750.3 1535.3,791.7 1535.7,791.7 1536.1,750.3 1536.4,750.3 1536.8,791.7 1537.2,791.7 1537.6,750.3 1537.9,750.3 1538.3,791.7 1538.7,793.7 1539,748 1539.4,748 1539.8,793.7 1540.2,793.7 1540.5,748 1540.9,748 1541.3,793.7 1541.6,789.2 1542,748.2 1542.4,748.2 1542.8,789.2 1543.1,789.2 1543.5,748.2 1543.9,748.2 1544.2,789.2 1544.6,789.2 1545,748.2 1545.4,748.2 1545.7,789.2 1546.1,792.8 1546.5,749 1546.8,749 1547.2,792.8 1547.6,792.8 1548,749 1548.3,750.4 1548.7,789.3 1549.1,789.3 1549.5,750.4 1549.8,750.4 1550.2,789.3 1550.6,789.3 1550.9,750.4 1551.3,750.4 1551.7,789.3 1552.1,789.3 1552.4,750.4 1552.8,750.4 1553.2,789.3 1553.5,789.3 1553.9,750.4 1554.3,749 1554.7,793.9 1555,793.9 1555.4,749 1555.8,749 1556.1,793.9 1556.5,793.9 1556.9,749 1557.3,749 1557.6,793.9 1558,793.9 1558.4,749 1558,779.9 1558.4,804.1 1558.8,804.1 1559.1,779.9 1559.5,779.9 1559.9,804.1 1560.3,804.1 1560.7,779.9 1561,779.6 1561.4,804.6 1561.8,804.6 1562.2,779.6 1562.6,779.6 1562.9,804.6 1563.3,804.6 1563.7,779.6 1564.1,780.5 1564.4,805.3 1564.8,805.3 1565.2,780.5 1565.6,780.5 1566,805.3 1566.3,805.3 1566.7,780.5 1567.1,780.5 1567.5,805.3 1567.9,805.3 1568.2,780.5 1568.6,780.5 1569,805.3 1569.4,805.3 1569.8,780.5 1570.1,780.8 1570.5,805.4 1570.9,805.4 1571.3,780.8 1571.7,780.8 1572,805.4 1572.4,805.4 1572.8,780.8 1573.2,780.8 1573.5,805.4 1573.9,805.4 1574.3,780.8 1574.7,780.8 1575.1,805.4 1575.4,804.8 1575.8,780.9 1576.2,780.9 1576.6,804.8 1577,804.8 1577.3,780.9 1577.7,780.9 1578.1,804.8 1578.5,804.8 1578.9,780.9 1579.2,780.9 1579.6,804.8 1580,805.3 1580.4,780.9 1582,740 1584,650 1586,500 1587.5,446 1589.5,447 1591.5,459 1592,459 1592.4,459 1592.7,459 1593.1,459 1593.5,459.1 1593.9,459.1 1594.2,459.1 1594.6,459.1 1595,459.2 1595.4,459.2 1595.7,459.3 1596.1,459.3 1596.5,459.3 1596.9,459.3 1597.2,460.5 1597.6,460.5 1598,460.5 1598.4,460.5 1598.7,460.6 1599.1,460.6 1599.5,460.6 1599.9,460.6 1600.2,460.7 1600.6,460.7 1601,460.8 1601.4,460.8 1601.7,460.8 1602.1,460.8 1602.5,459.4 1602.9,459.4 1603.2,459.5 1603.6,459.5 1604,459.5 1604.4,459.5 1604.7,459.6 1605.1,459.6 1605.5,459.6 1605.9,459.6 1606.2,459.7 1606.6,459.7 1607,462.4 1607.4,462.4 1607.7,462.5 1608.1,462.5 1608.5,462.5 1608.9,462.5 1609.2,462.6 1609.6,462.6 1610,462.6 1610.4,462.6 1610.7,462.7 1611.1,462.7 1611.5,462.7 1611.9,462.7 1612.2,462.8 1612.6,462.8 1613,460.8 1613.4,460.8 1613.7,460.8 1614.1,460.8 1614.5,460.9 1614.9,460.9 1615.2,460.9 1615.6,460.9 1616,461 1616.4,461 1616.7,461 1617.1,461 1617.5,461.1 1617.9,461.1 1618.2,461.1 1618.6,461.1 1619,461.7 1619.4,461.7 1619.7,461.8 1620.1,461.8 1620.5,462 1620.9,462 1621.2,462.3 1621.6,462.3 1622,462.6 1622.4,462.6 1622.7,462.9 1623.1,462.9 1623.5,463.2 1623.9,463.2 1624.2,460.3 1624.6,460.3 1625,460.6 1625.4,460.6 1625.7,460.9 1626.1,460.9 1626.5,461.2 1626.9,461.2 1627.2,461.5 1627.6,461.5 1628,461.8 1628.4,461.8 1628.7,462.1 1629.1,462.1 1629.5,462.4 1629.9,462.4 1630.2,462.7 1630.6,462.7 1631,464.3 1631.4,464.3 1631.7,464.6 1632.1,464.6 1632.5,464.9 1632.9,464.9 1633.2,465.2 1633.6,465.2 1634,465.5 1634.4,465.5 1634.7,465.8 1635.1,465.8 1635.5,465.6 1635.9,465.6 1636.2,467.1 1636.6,467.1 1637,466.6 1637.4,466.6 1637.7,466.2 1638.1,466.2 1638.5,465.8 1638.8,465.8 1639.2,465.3 1639.6,465.3 1640,464.9 1640.3,464.9 1640.7,464.4 1641.1,464.4 1641.5,464 1641.8,464 1642.2,463.5 1642.6,463.5 1643,464.2 1643.3,464.2 1643.7,463.8 1644.1,463.8 1644.5,463.3 1644.8,463.3 1645.2,463.1 1645.6,463.1 1646,463.5 1646.3,463.5 1646.7,460.1 1647.1,460.1 1647.5,460.4 1647.8,460.4 1648.2,460.8 1648.6,460.8 1649,461.2 1649.3,461.2 1649.7,461.6 1650.1,461.6 1650.5,461.9 1650.8,461.9 1651.2,462.3 1651.6,462.3 1652,462.3 1652.3,462.3 1652.7,462.7 1653.1,462.7 1653.5,463.1 1653.8,463.1 1654.2,463.5 1654.6,463.5 1655,463.8 1655.3,463.8 1655.7,464.3 1656.1,464.3 1656.5,464.6 1656.8,464.6 1657.2,464.8 1657.6,464.8 1658,464.4 1658.3,464.4 1658.7,464 1659.1,464 1659.5,463.6 1659.8,463.6 1660.2,463.5 1660.6,463.5 1661,463.1 1661.3,463.1 1661.7,462.7 1662.1,462.7 1662.5,462.2 1662.8,462.2 1663.2,461.8 1663.6,461.8 1664,461.4 1664.3,461.4 1664.7,461 1665.1,461 1665.5,460.6 1665.8,460.6 1666.2,462.8 1666.6,462.8 1667,462.4 1667.3,462.4 1667.7,462 1668.1,462 1668.5,461.6 1668.8,461.6 1669.2,461.2 1669.6,461.2 1670,460.8 1670.3,460.8 1670.7,460.9 1671.1,460.9 1671.5,459.2 1671.8,459.2 1672.2,459.4 1672.6,459.4 1673,459.5 1673.3,459.5 1673.7,459.6 1674.1,459.6 1674.5,459.8 1674.8,459.8 1675.2,459.9 1675.6,459.9 1676,460 1676.3,460 1676.7,461 1677.1,461 1677.5,461.2 1677.8,461.2 1678.2,461.3 1678.6,461.3 1679,461.4 1679.3,461.4 1679.7,461.6 1680.1,461.6 1680.5,461.7 1680.8,461.7 1681.2,461.8 1681.6,461.8 1682,462.6 1682.3,462.6 1682.7,462.8 1683.1,462.8 1683.5,462.9 1683.8,462.9 1684.2,463 1684.6,463 1684.9,463.2 1685.3,463.2 1685.7,463.3 1686.1,463.3 1686.4,463.4 1686.8,463.4 1687.2,463.6 1687.6,463.6 1687.9,464.2 1688.3,464.2 1688.7,464.3 1689.1,464.3 1689.4,464.4 1689.8,464.4 1690.2,464.6 1690.6,464.6 1690.9,464.7 1691.3,464.7 1691.7,464.8 1692.1,464.8 1692.4,466.4 1692.8,466.4 1693.2,466.6 1693.6,466.6 1693.9,466.7 1694.3,466.7 1694.7,466.8 1695.1,466.8 1695.4,467 1695.8,467 1696.2,467.1 1696.6,467.1 1696.9,467.2 1697.3,467.2 1697.7,467.4 1698.1,467.4 1698.4,467.5 1698.8,467.5 1699.2,464.3 1699.6,464.3 1699.9,464.4 1700.3,464.4 1700.7,464.6 1701.1,464.6 1701.4,464.7 1701.8,464.7 1702.2,464.8 1702.6,464.8 1702.9,465 1703.3,465 1703.7,464.2 1704.1,464.2 1704.4,463.3 1704.8,463.3 1705.2,463.1 1705.6,463.1 1705.9,462.3 1706.3,462.3 1706.7,461.4 1707.1,461.4 1707.4,460.6 1707.8,460.6 1708.2,459.7 1708.6,459.7 1708.9,461.7 1709.3,461.7 1709.7,460.8 1710.1,460.8 1710.4,460.5 1710.8,460.5 1711.2,460.5 1711.6,460.5 1711.9,460.5 1712.3,460.5 1712.7,460.5 1713.1,460.5 1713.4,460.5 1713.8,460.5 1714.2,460.5 1714.6,460.5 1714.9,460.5 1715.3,460.5 1715.7,460.5 1716.1,460.5 1716.4,456.6 1716.8,456.6 1717.2,456.6 1717.6,456.6 1717.9,456.6 1718.3,456.6 1718.7,456.6 1719.1,456.6 1719.4,456.6 1719.8,456.6 1720.2,456.6 1720.6,456.6 1720.9,456.6 1721.3,456.6 1721.7,456.6 1722.1,456.6 1722.4,456.5 1722.8,456.5 1723.2,456.5 1723.6,456.5 1723.9,456.5 1724.3,456.5 1724.7,456.5 1725.1,456.5 1725.4,456.5 1725.8,456.5 1726.2,456.5 1726.6,456.5 1726.9,460.5 1727.3,460.5 1727.7,460.5 1728.1,460.5 1728.4,460.5 1728.8,460.5 1729.2,460.5 1729.6,460.5 1729.9,460.6 1730.3,460.6 1730.7,460.6 1731,460.6 1731.4,460.6 1731.8,460.6 1732.2,459.9 1732.5,459.9 1732.9,459.9 1733.3,459.9 1733.7,459.9 1734,459.9 1734.4,460 1734.8,460 1735.2,460 1735.5,460 1735.9,460 1736.3,460 1736.7,457.2 1737,457.2 1737.4,457.3 1737.8,457.3 1738.2,457.3 1738.5,457.3 1738.9,457.3 1739.3,457.3 1739.7,457.3 1740,457.3 1740.4,457.3 1740.8,457.3 1741.2,457.3 1741.5,457.3 1741.9,456.3 1742.3,456.3 1742.7,456.3 1743,456.3 1743.4,456.3 1743.8,456.3 1744.2,456.3 1744.5,456.3 1744.9,456.3 1745.3,456.3 1745.7,456.3 1746,456.3 1746.4,456.3 1746.8,456.3 1747.2,460.6 1747.5,460.6 1747.9,460.6 1748.3,460.6 1748.7,460.6 1749,460.6 1749.4,460.6 1749.8,460.6 1750.2,460.6 1750.5,460.6 1750.9,460.6 1751.3,460.6 1751.7,460.7 1752,460.7 1752.4,460.7 1752.8,460.7 1753.2,461 1753.5,461 1753.9,461 1754.3,461 1754.7,461 1755,461 1755.4,461 1755.8,461 1756.2,461 1756.5,461 1756.9,461.1 1757.3,461.1 1757.7,458 1758,458 1758.4,458 1758.8,458 1759.2,458 1759.5,458 1759.9,458 1760.3,458 1760.7,458 1761,458 1761.4,458 1761.8,458 1762.2,457.4 1762.5,457.4 1762.9,457.4 1763.3,457.4 1763.7,457.4 1764,457.4 1764.4,457.4 1764.8,457.4 1765.2,457.4 1765.5,457.4 1765.9,457.4 1766.3,457.4 1766.7,457.4 1767,457.4 1767.4,457.4 1767.8,457.4 1768.2,458.9 1768.5,458.9 1768.9,458.9 1769.3,458.9 1769.7,458.9 1770,458.9 1770.4,458.9 1770.8,458.9 1771.2,458.9 1771.5,458.9 1771.9,457.2 1772.3,457.2 1772.7,457.3 1773,457.3 1773.4,457.3 1773.8,457.3 1774.2,457.3 1774.5,457.3 1774.9,457.3 1775.3,457.3 1775.6,457.3 1776,457.3 1776.4,457.9 1776.8,457.9 1777.1,458.8 1777.5,458.8 1777.9,459.9 1778.3,459.9 1778.6,461 1779,461 1779.4,462.2 1779.8,462.2 1780.1,463 1780.5,463 1780.9,462.8 1781.3,462.8 1781.6,462.4 1782,462.4 1782.4,462.1 1782.8,462.1 1783.1,461.7 1783.5,461.7 1783.9,461.3 1784.3,461.3 1784.6,460.9 1785,460.9 1785.4,464.3 1785.8,464.3 1786.1,463.9 1786.5,463.9 1786.9,463.5 1787.3,463.5 1787.6,463.1 1788,463.1 1788.4,462.8 1788.8,462.8 1789.1,462.4 1789.5,462.4 1789.9,462 1790.3,462 1790.6,462 1791,462 1791.4,458.8 1791.8,458.8 1792.1,458.8 1792.5,458.8 1792.9,458.9 1793.3,458.9 1793.6,458.9 1794,458.9 1794.4,459 1794.8,459 1795.1,459.1 1795.5,459.1 1795.9,459.1 1796.3,459.1 1796.6,459.2 1797,459.2 1797.4,462.9 1797.8,462.9 1798.1,463 1798.5,463 1798.9,463 1799.3,463 1799.6,463.1 1800,463.1 1800.4,463.1 1800.8,463.1 1801.1,463.2 1801.5,463.2 1801.9,463.3 1802.3,463.3 1802.6,462.2 1803,462.2 1803.4,462.3 1803.8,462.3 1804.1,462.3 1804.5,462.3 1804.9,462.4 1805.3,462.4 1805.6,462.4 1806,462.4 1806.4,462.5 1806.8,462.5 1807.1,462.8 1807.5,462.8 1807.9,462.8 1808.3,462.8 1808.6,462.9 1809,462.9 1809.4,462.9 1809.8,462.9 1810.1,463 1810.5,463 1810.9,462 1811.3,462 1811.6,462 1812,462 1812.4,462.1 1812.8,462.1 1813.1,462.1 1813.5,462.1 1813.9,462.2 1814.3,462.2 1814.6,462.3 1815,462.3 1815.4,462.3 1815.8,462.3 1816.1,462.4 1816.5,462.4 1816.9,462.5 1817.3,462.5 1817.6,462.8 1818,462.8 1818.4,462.8 1818.8,462.8 1819.1,462.9 1819.5,462.9 1819.9,463 1820.3,463 1820.6,463 1821,463 1821.4,463.1 1821.7,463.1 1822.1,463.2 1822.5,463.2 1822.9,463.2 1823.2,463.2 1823.6,463.3 1824,463.3 1824.4,462.8 1824.7,462.8 1825.1,462.9 1825.5,462.9 1825.9,462.9 1826.2,462.9 1826.6,463 1827,463 1827.4,463 1827.7,463 1828.1,463 1828.5,463 1828.9,463 1829.2,463 1829.6,463 1830,463 1830.4,463 1830.7,463 1831.1,461.9 1831.5,461.9 1831.9,462 1832.2,462 1832.6,462 1833,462 1833.4,462 1833.7,462 1834.1,462 1834.5,462 1834.9,462 1835.2,462 1835.6,462 1836,462 1836.4,464.5 1836.7,464.5 1837.1,464.5 1837.5,464.5 1837.9,464.6 1838.2,464.6 1838.6,464.6 1839,464.6 1839.4,464.6 1839.7,464.6 1840.1,464.6 1840.5,464.6 1840.9,464.6 1841.2,464.6 1841.6,464.1 1842,464.1 1842.4,464.1 1842.7,464.1 1843.1,464.1 1843.5,464.1 1843.9,464.1 1844.2,464.1 1844.6,464.2 1845,464.2 1845.4,464 1845.7,464 1846.1,464 1846.5,464 1846.9,464.1 1847.2,464.1 1847.6,464.1 1848,464.1 1848.4,464.1 1848.7,464.1 1849.1,465.5 1849.5,465.5 1849.9,465.5 1850.2,465.5 1850.6,465.5 1851,465.5 1851.4,465.5 1851.7,465.5 1852.1,465.5 1852.5,465.5 1852.9,465.5 1853.2,465.5 1853.6,465.5 1854,465.5 1854.4,465.5 1854.7,465.5 1855.1,464.2 1855.5,464.2 1855.9,464.2 1856.2,464.2 1856.6,464.3 1857,464.3 1857.4,464.3 1857.7,464.3 1858.1,464.3 1858.5,464.3 1858.9,464.3 1859.2,464.3 1859.6,464.3 1860,464.3 1860.4,464.3 1860.7,464.3 1861.1,464.4 1861.5,464.4 1861.9,464.5 1862.2,464.5 1862.6,464.5 1863,464.5 1863.4,464.5 1863.7,464.5 1864.1,464.5 1864.5,464.5 1864.9,464.5 1865.2,464.5 1865.6,464.5 1866,464.5 1866.4,464.5 1866.7,464.5 1867.1,464.6 1867.5,464.6 1867.8,464.6 1868.2,464.6 1868.6,464.6 1869,464.6 1869.3,464.6 1869.7,464.6 1870.1,464.6 1870.5,464.6 1870.8,464.6 1871.2,464.6 1871.6,464.7 1872,464.7 1872.3,464.7 1872.7,464.7 1873.1,463.1 1873.5,463.1 1873.8,463.1 1874.2,463.1 1874.6,463.1 1875,463.1 1875.3,463.1 1875.7,463.1 1876.1,463.1 1876.5,463.1 1876.8,463.1 1877.2,463.1 1877.6,463.1 1878,463.1 1878.3,463.1 1878.7,463.1 1879.1,463.2 1879.5,463.2 1879.8,462.3 1880.2,462.3 1880.6,462.4 1881,462.4 1881.3,462.4 1881.7,462.4 1882.1,462.4 1882.5,462.4 1882.8,462.4 1883.2,462.4 1883.6,462.4 1884,462.4 1884.3,462.4 1884.7,462.4 1885.1,462.4 1885.5,462.4 1885.8,462.4 1886.2,462.4 1886.6,462.5 1887,462.5 1887.3,461.5 1887.7,461.5 1888.1,460.9 1888.5,460.9 1888.8,460.2 1889.2,460.2 1889.6,459.6 1890,459.6 1890.3,459 1890.7,459 1891.1,462.4 1891.5,462.4 1891.8,461.8 1892.2,461.8 1892.6,461.1 1893,461.1 1893.3,460.5 1893.7,460.5 1894.1,459.9 1894.5,459.9 1894.8,459.3 1895.2,459.3 1895.6,458.6 1896,458.6 1896.3,458.1 1896.7,458.1 1897.1,457.5 1897.5,457.5 1897.8,456.9 1898.2,456.9 1898.6,456.3 1899,456.3 1899.3,456.2 1899.7,456.2 1900.1,455.6 1900.5,455.6 1900.8,456.2 1901.2,456.2 1901.6,456.7 1902,456.7 1902.3,457.2 1902.7,457.2 1903.1,457.8 1903.5,457.8 1903.8,458.3 1904.2,458.3 1904.6,458.9 1905,458.9 1905.3,461.1 1905.7,461.1 1906.1,461.6 1906.5,461.6 1906.8,462.2 1907.2,462.2 1907.6,462.7 1908,462.7 1908.3,463.2 1908.7,463.2 1909.1,460 1909.5,460 1909.8,460.6 1910.2,460.6 1910.6,460.9 1911,460.9 1911.3,461.1 1911.7,461.1 1912.1,461.3 1912.5,461.3 1912.8,461.6 1913.2,461.6 1913.6,461.8 1913.9,461.8 1914.3,461 1914.7,461 1915.1,461.3 1915.4,461.3 1915.8,461.5 1916.2,461.5 1916.6,461.7 1916.9,461.7 1917.3,462 1917.7,462 1918.1,462.2 1918.4,462.2 1918.8,462.4 1919.2,462.4 1919.6,462.6 1919.9,462.6 1920.3,466.8 1920.7,466.8 1921.1,467.1 1921.4,467.1 1921.8,467.3 1922.2,467.3 1922.6,467.5 1922.9,467.5 1923.3,467.7 1923.7,467.7 1924.1,468 1924.4,468 1924.8,468.2 1925.2,468.2 1925.6,468.4 1925.9,468.4 1926.3,465.7 1926.7,465.7 1927.1,466 1927.4,466 1927.8,466.2 1928.2,466.2 1928.6,466.4 1928.9,466.4 1929.3,466.6 1929.7,466.6 1930.1,466.6 1930.4,466.6 1930.8,466.8 1931.2,466.8 1931.6,467 1931.9,467 1932.3,467.3 1932.7,467.3 1933.1,467.4 1933.4,467.4 1933.8,466.9 1934.2,466.9 1934.6,469.4 1934.9,469.4 1935.3,468.8 1935.7,468.8 1936.1,468.3 1936.4,468.3 1936.8,467.7 1937.2,467.7 1937.6,467.2 1937.9,467.2 1938.3,466.6 1938.7,466.6 1939.1,466 1939.4,466 1939.8,465.5 1940.2,465.5 1940.6,464.3 1940.9,464.3 1941.3,463.7 1941.7,463.7 1942.1,463.2 1942.4,463.2 1942.8,462.6 1943.2,462.6 1943.6,462.1 1943.9,462.1 1944.3,461.5 1944.7,461.5 1945.1,460.9 1945.4,460.9 1945.8,460.8 1946.2,460.8 1946.6,460 1946.9,460 1947.3,459.3 1947.7,459.3 1948.1,458.5 1948.4,458.5 1948.8,457.8 1949.2,457.8 1949.6,457 1949.9,457 1950.3,456.3 1950.7,456.3 1951.1,455.6 1951.4,455.6 1951.8,455.9 1952.2,455.9 1952.6,456.6 1952.9,456.6 1953.3,456.9 1953.7,456.9 1954.1,457.1 1954.4,457.1 1954.8,457.4 1955.2,457.4 1955.6,457.7 1955.9,457.7 1956.3,458 1956.7,458 1957.1,458.3 1957.4,458.3 1957.8,458.2 1958.2,458.2 1958.5,458.5 1958.9,458.5 1959.3,458.8 1959.7,458.8 1960,459.1 1960.4,459.1 1960.8,459.4 1961.2,459.4 1961.5,459.7 1961.9,459.7 1962.3,457.4 1962.7,457.4 1963,457.7 1963.4,457.7 1963.8,458 1964.2,458 1964.5,458.1 1964.9,458.1 1965.3,458.1 1965.7,458.1 1966,459.3 1966.4,459.3 1966.8,459.3 1967.2,459.3 1967.5,459.3 1967.9,459.3 1968.3,459.3 1968.7,459.3 1969,459.3 1969.4,459.3 1969.8,459.5 1970.2,459.5 1970.5,459.5 1970.9,459.5 1971.3,459.4 1971.7,459.4 1972,459.4 1972.4,459.4 1972.8,459.4 1973.2,459.4 1973.5,459.7 1973.9,459.7 1974.3,459.7 1974.7,459.7 1975,459.7 1975.4,459.7 1975.8,459.7 1976.2,459.7 1976.5,459.7 1976.9,459.7 1977.3,457.9 1977.7,457.9 1978,457.9 1978.4,457.9 1978.8,457.9 1979.2,457.9 1979.5,457.9 1979.9,457.9 1980.3,457.8 1980.7,457.8 1981,457.8 1981.4,457.8 1981.8,457.8 1982.2,457.8 1982.5,460 1982.9,460 1983.3,460 1983.7,460 1984,460 1984.4,460 1984.8,460 1985.2,460 1985.5,460 1985.9,460 1986.3,457.9 1986.7,457.9 1987,457.9 1987.4,457.9 1987.8,457.8 1988.2,457.8 1988.5,457.8 1988.9,457.8 1989.3,457.8 1989.7,457.8 1990,457.8 1990.4,457.8 1990.8,460.6 1991.2,460.6 1991.5,460.5 1991.9,460.5 1992.3,460.5 1992.7,460.5 1993,460.5 1993.4,460.5 1993.8,460.5 1994.2,460.5 1994.5,460.5 1994.9,460.5 1995.3,460.5 1995.7,460.5 1996,460.5 1996.4,460.5 1996.8,460.5 1997.2,460.5 1997.5,459.2 1997.9,459.2 1998.3,459.2 1998.7,459.2 1999,459.2 1999.4,459.2 1999.8,459.2 2000.2,459.2 2000.5,459.2 2000.9,459.2 2001.3,459.2 2001.7,459.2 2002,459.2 2002.4,459.2 2002.8,459.2 2003.2,459.2 2003.5,460.2 2003.9,460.2 2004.3,460.2 2004.6,460.2 2005,460.1 2005.4,460.1 2005.8,460.1 2006.1,460.1 2006.5,460.1 2006.9,460.1 2007.3,460.1 2007.6,460.1 2008,460.1 2008.4,460.1 2008.8,460.1 2009.1,460.1 2009.5,460.1 2009.9,460.1 2010.3,459.7 2010.6,459.7 2011,459.6 2011.4,459.6 2011.8,459.6 2012.1,459.6 2012.5,459.6 2012.9,459.6 2013.3,459.6 2013.6,459.6 2014,459.6 2014.4,459.6 2014.8,459.6 2015.1,459.6 2015.5,459.6 2015.9,459.6 2016.3,459.6 2016.6,459.6 2017,459.6 2017.4,459.6 2017.8,459.6 2018.1,459.6 2018.5,459.6 2018.9,459.6 2019.3,459.6 2019.6,459.6 2020,459.6 2020.4,459.6 2020.8,459.5 2021.1,459.5 2021.5,459.5 2021.9,459.5 2022.3,458.5 2022.6,458.5 2023,458.5 2023.4,458.5 2023.8,458.5 2024.1,458.5 2024.5,458.5 2024.9,458.5 2025.3,458.5 2025.6,458.5 2026,458.5 2026.4,458.5 2026.8,458.5 2027.1,458.5 2027.5,456.4 2027.9,456.4 2028.3,456.4 2028.6,456.4 2029,456.4 2029.4,456.4 2029.8,456.4 2030.1,456.4 2030.5,456.4 2030.9,456.4 2031.3,456 2031.6,456 2032,456 2032.4,456 2032.8,456 2033.1,456 2033.5,456 2033.9,456 2034.3,456 2034.6,456 2035,456 2035.4,456 2035.8,456 2036.1,456 2036.5,456 2036.9,456 2037.3,459.9 2037.6,459.9 2038,459.9 2038.4,459.9 2038.8,459.9 2039.1,459.9 2039.5,459.9 2039.9,459.9 2040.3,459.6 2040.6,459.6 2041,459.4 2041.4,459.4 2041.8,458.6 2042.1,458.6 2042.5,457.9 2042.9,457.9 2043.3,457.1 2043.6,457.1 2044,456.4 2044.4,456.4 2044.8,455.6 2045.1,455.6 2045.5,454.9 2045.9,454.9 2046.3,454.1 2046.6,454.1 2047,453.4 2047.4,453.4 2047.8,449.3 2048.1,449.3 2048.5,449 2048.9,449 2049.3,449 2049.6,449 2050,449 2050.4,449 2051,450 2053,700 2055,878 2055,877.2 2055.4,906.4 2055.8,906.4 2056.1,877.2 2056.5,877.2 2056.9,906.4 2057.3,906.4 2057.7,877.2 2058,877.2 2058.4,906.4 2058.8,906.4 2059.2,877.2 2059.6,879.8 2059.9,906.7 2060.3,906.7 2060.7,879.8 2061.1,879.8 2061.4,906.7 2061.8,906.7 2062.2,879.8 2062.6,879.8 2063,906.7 2063.3,904.8 2063.7,878.1 2064.1,878.1 2064.5,904.8 2064.9,904.8 2065.2,878.1 2065.6,878.1 2066,904.8 2066.4,904.8 2066.8,878.1 2067.1,878.1 2067.5,904.8 2067.9,904.8 2068.3,878.1 2068.7,878.1 2069,904.8 2069.4,906.1 2069.8,879.4 2070.2,879.4 2070.5,906.1 2070.9,906.1 2071.3,879.4 2071.7,879.4 2072.1,906.1 2072.4,906.1 2072.8,879.4 2073.2,877.2 2073.6,903.5 2074,903.5 2074.3,877.2 2074.7,877.2 2075.1,903.5 2075.5,903.5 2075.9,877.2 2076.2,877.2 2076.6,903.5 2077,903.5 2077.4,877.2 2077,870 2077.4,900 2077.8,898 2078.1,868.4 2078.5,866.7 2078.9,896 2079.3,894 2079.7,865.1 2080,863.4 2080.4,892 2080.8,890 2081.2,861.8 2081.6,860.2 2081.9,888 2082.3,886 2082.7,858.5 2083.1,856.9 2083.5,884 2083.8,882 2084.2,855.2 2084.6,853.6 2085,880 2085.4,878 2085.7,852 2086.1,850.3 2086.5,876 2086.9,874 2087.3,848.7 2087.6,847 2088,872 2088.4,870 2088.8,845.4 2089.2,843.8 2089.5,868 2089.9,866 2090.3,842.1 2090.7,840.5 2091.1,864 2091.4,862 2091.8,838.8 2092.2,837.2 2092.6,860 2093,858 2093.3,835.6 2093.7,833.9 2094.1,856 2094.5,854 2094.9,832.3 2095.2,830.6 2095.6,852 2096,850 2096.4,829 2096,827 2096.4,835.7 2096.7,835.7 2097.1,827 2097.5,827 2097.9,835.7 2098.2,835.7 2098.6,827 2099,827 2099.4,835.7 2099.7,835.3 2100.1,803 2100.5,803 2100.9,835.3 2101.2,835.3 2101.6,803 2102,803 2102.4,835.3 2102.7,835.3 2103.1,803 2103.5,803 2103.9,835.3 2104.2,835.3 2104.6,803 2105,803 2105.3,835.6 2105.7,835.6 2106.1,803 2106.5,803 2106.8,835.6 2107.2,835.6 2107.6,803 2108,803 2108.3,835.6 2108.7,835.6 2109.1,803 2109.5,803 2109.8,835.6 2110.2,834.3 2110.6,803 2111,803 2111.3,834.3 2111.7,834.3 2112.1,803 2112.5,803 2112.8,834.3 2113.2,834.3 2113.6,827.2 2113.9,827.2 2114.3,834.3 2114.7,835.2 2115.1,826.4 2115.4,826.4 2115.8,863 2116.2,863 2116.6,826.4 2116.9,827.6 2117.3,863 2117.7,863 2118.1,827.6 2118.4,827.6 2118.8,863 2119.2,863 2119.6,827.6 2119.9,827.8 2120.3,863 2120.7,863 2121.1,827.8 2121.4,827.8 2121.8,863 2122.2,863 2122.5,827.8 2122.9,827.8 2123.3,863 2123.7,863 2124,827.8 2124.4,827.8 2124.8,863 2125.2,863 2125.5,827.8 2125.9,827.7 2126.3,863 2126.7,863 2127,827.7 2127.4,827.7 2127.8,863 2128.2,863 2128.5,827.7 2128.9,827.7 2129.3,863 2129.6,863 2130,827.7 2130.4,827.7 2130.8,863 2131.1,863 2131.5,827.7 2131.9,827 2132.3,863 2132.6,863 2133,827 2133.4,827 2133.8,863 2134.1,863 2134.5,827 2134.9,827 2135.3,863 2135.6,863 2136,827 2136.4,827 2136.8,863 2137.1,863 2137.5,827 2137.9,826.2 2138.2,863 2138.6,863 2139,826.2 2139.4,826.2 2139.7,863 2140.1,863 2140.5,826.2 2140.9,826.2 2141.2,863 2141.6,863 2142,826.2 2142.4,826.9 2142.7,863 2143.1,835.3 2143.5,826.9 2143.9,826.9 2144.2,835.3 2144.6,835.3 2145,826.9 2145.4,827.6 2145.7,834.1 2146.1,834.1 2146.5,827.6 2146.8,827.6 2147.2,834.1 2147.6,834.1 2148,827.6 2148.3,827.6 2148.7,834.1 2149.1,834.1 2149.5,827.6 2149.8,827.6 2150.2,834.1 2150.6,835.9 2151,827.7 2151.3,827.7 2151.7,835.9 2152.1,835.9 2152.5,827.7 2152.8,827.7 2153.2,835.9 2153.6,863 2154,827.7 2154.3,827.7 2154.7,863 2155.1,863 2155.4,827.7 2155.8,827.7 2156.2,863 2156.6,863 2156.9,826.6 2157.3,826.6 2157.7,863 2158.1,863 2158.4,826.6 2158.8,826.6 2159.2,863 2159.6,863 2159.9,826.6 2160.3,826.6 2160.7,863 2161.1,835.6 2161.4,827.5 2161.8,827.5 2162.2,835.6 2162.5,835.6 2162.9,827.5 2163.3,827.5 2163.7,835.6 2164,834.9 2164.4,827.6 2164.8,827.6 2165.2,834.9 2165.5,834.9 2165.9,827.6 2166.3,827.6 2166.7,834.9 2167,834.9 2167.4,827.6 2167.8,827.6 2168.2,834.9 2168.5,834.1 2168.9,827.7 2169.3,803 2169.7,834.1 2170,834.1 2170.4,803 2170.8,803 2171.1,834.1 2171.5,834.1 2171.9,803 2172.3,803 2172.6,834.1 2173,834.1 2173.4,803 2173.8,803 2174.1,834.1 2174.5,834.9 2174.9,803 2175.3,803 2175.6,834.9 2176,834.9 2176.4,803 2176.8,803 2177.1,834.9 2177.5,835 2177.9,803 2178.3,803 2178.6,835 2179,835 2179.4,803" fill="none" stroke="#ffc000" stroke-width="7" stroke-linejoin="round" stroke-linecap="round"/>
<polyline points="328,275 328.4,289 328.7,289 329.1,275 329.5,275 329.9,289 330.2,289 330.6,275 331,275 331.4,289 331.7,289 332.1,275 332.5,275 332.9,289 333.2,289 333.6,275 334,275 334.4,289 334.7,289 335.1,275 335.5,275 335.9,289 336.2,289 336.6,275 337,275 337.4,289 337.7,289 338.1,275 338.5,275 338.9,289 339.2,289 339.6,275 340,275 340.4,289 340.7,289 341.1,275 341.5,275 341.9,289 342.2,289 342.6,275 343,275 343.4,289 343.7,289 344.1,275 344.5,275 344.9,289 345.2,289 345.6,275 346,275 346.3,289 346.7,289 347.1,275 347.5,275 347.8,275 348.2,275 348.6,275 349,275 349.3,275 349.7,275 350.1,275 350.5,275 350.8,275 351.2,275 351.6,275 352,275 352.3,275 352.7,289 353.1,275 353.5,275 353.8,289 354.2,289 354.6,275 355,275 355.3,289 355.7,275 356.1,275 356.5,275 356.8,275 357.2,275 357.6,275 358,275 358.3,275 358.7,289 359.1,275 359.5,275 359.8,289 360.2,289 360.6,275 361,275 361.3,289 361.7,289 362.1,275 362.4,275 362.8,289 363.2,289 363.6,275 363.9,275 364.3,289 364.7,289 365.1,289 365.4,289 365.8,289 366.2,289 366.6,289 366.9,289 367.3,289 367.7,289 368.1,289 368.4,289 368.8,289 369.2,289 369.6,289 369.9,289 370.3,289 370.7,289 371.1,289 371.4,289 371.8,289 372.2,289 372.6,275 372.9,275 373.3,289 373.7,289 374.1,275 374.4,275 374.8,289 375.2,289 375.6,275 375.9,275 376.3,289 376.7,289 377.1,275 377.4,275 377.8,289 378.2,289 378.5,275 378.9,275 379.3,289 379.7,289 380,275 380.4,275 380.8,302 381.2,302 381.5,275 381.9,275 382.3,302 382.7,302 383,275 383.4,275 383.8,302 384.2,302 384.5,275 384.9,275 385.3,302 385.7,289 386,275 386.4,275 386.8,289 387.2,289 387.5,275 387.9,275 388.3,289 388.7,289 389,275 389.4,275 389.8,289 390.2,289 390.5,275 390.9,275 391.3,289 391.7,275 392,275 392.4,275 392.8,275 393.2,275 393.5,275 393.9,275 394.3,275 394.7,275 395,275 395.4,275 395.8,275 396.1,289 396.5,275 396.9,275 397.3,289 397.6,289 398,275 398.4,275 398.8,289 399.1,289 399.5,275 399.9,275 400.3,289 400.6,289 401,275 401.4,275 401.8,289 402.1,289 402.5,275 402.9,275 403.3,289 403.6,289 404,262 404.4,262 404.8,289 405.1,289 405.5,262 405.9,262 406.3,289 406.6,289 407,275 407.4,275 407.8,289 408.1,289 408.5,275 408.9,275 409.3,289 409.6,289 410,275 410.4,275 410.8,289 411.1,289 411.5,289 411.9,289 412.2,289 412.6,289 413,289 413.4,289 413.7,289 414.1,289 414.5,289 414.9,289 415.2,289 415.6,289 416,289 416.4,289 416.7,289 417.1,289 417.5,289 417.9,289 418.2,289 418.6,289 419,275 419.4,275 419.7,289 420.1,289 420.5,275 420.9,275 421.2,289 421.6,289 422,275 422.4,275 422.7,289 423.1,289 423.5,275 423.9,275 424.2,289 424.6,289 425,275 425.4,275 425.7,289 426.1,289 426.5,275 426.9,275 427.2,289 427.6,289 428,275 428.3,275 428.7,289 429.1,289 429.5,275 429.8,275 430.2,289 430.6,302 431,275 431.3,275 431.7,302 432.1,302 432.5,275 432.8,275 433.2,302 433.6,302 434,275 434.3,275 434.7,302 435.1,302 435.5,275 435.8,275 436.2,302 436.6,302 437,275 437.3,275 437.7,302 438.1,289 438.5,275 438.8,275 439.2,289 439.6,289 440,275 440.3,275 440.7,289 441.1,289 441.5,275 441.8,275 442.2,289 442.6,289 443,275 443.3,275 443.7,289 444.1,289 444.5,275 444.8,275 445.2,289 445.6,275 445.9,275 446.3,275 446.7,275 447.1,275 447.4,275 447.8,275 448.2,275 448.6,275 448.9,275 449.3,275 449.7,275 450.1,275 450.4,275 450.8,275 451.2,275 451.6,275 451.9,275 452.3,275 452.7,275 453.1,289 453.4,275 453.8,275 454.2,289 454.6,289 454.9,275 455.3,275 455.7,289 456.1,289 456.4,275 456.8,275 457.2,289 457.6,289 457.9,275 458.3,275 458.7,289 459.1,289 459.4,275 459.8,275 460.2,289 460.6,289 460.9,275 461.3,275 461.7,289 462,289 462.4,275 462.8,275 463.2,289 463.5,289 463.9,275 464.3,275 464.7,289 465,289 465.4,275 465.8,275 466.2,289 466.5,289 466.9,275 467.3,275 467.7,289 468,289 468.4,275 468.8,275 469.2,289 469.5,289 469.9,275 470.3,275 470.7,302 471,302 471.4,275 471.8,275 472.2,302 472.5,302 472.9,275 473.3,275 473.7,302 474,302 474.4,275 474.8,275 475.2,302 475.5,302 475.9,275 476.3,275 476.7,302 477,302 477.4,275 477.8,275 478.2,302 478.5,302 478.9,275 479.3,275 479.6,302 480,302 480.4,275 480.8,275 481.1,302 481.5,302 481.9,275 482.3,275 482.6,302 483,302 483.4,275 483.8,275 484.1,302 484.5,302 484.9,275 485.3,275 485.6,275 486,275 486.4,275 486.8,275 487.1,275 487.5,275 487.9,275 488.3,275 488.6,275 489,289 489.4,275 489.8,275 490.1,289 490.5,289 490.9,275 491.3,275 491.6,289 492,289 492.4,275 492.8,275 493.1,289 493.5,289 493.9,275 494.3,275 494.6,289 495,289 495.4,275 495,275 495.4,275 495.8,275 496.1,275 496.5,275 496.9,275 497.3,275 497.6,275 498,275 498.4,275 498.8,275 499.2,275 499.5,275 499.9,275 500.3,289 500.7,289 501.1,289 501.4,289 501.8,289 502.2,289 502.6,289 503,289 503.3,275 503.7,275 504.1,275 504.5,275 504.8,275 505.2,275 505.6,275 506,275 506.4,275 506.7,275 507.1,275 507.5,275 507.9,275 508.3,275 508.6,275 509,275 509.4,289 509.8,275 510.2,275 510.5,289 510.9,289 511.3,275 511.7,275 512,289 512.4,289 512.8,275 513.2,289 513.6,289 513.9,289 514.3,289 514.7,289 515.1,289 515.5,289 515.8,289 516.2,289 516.6,289 517,289 517.3,289 517.7,289 518.1,289 518.5,289 518.9,289 519.2,289 519.6,289 520,289 520.4,289 520,288.5 520.4,288.5 520.8,288.5 521.1,288.5 521.5,288.5 521.9,288.5 522.3,288.5 522.6,288.5 523,288.5 523.4,288.5 523.8,288.5 524.2,288.5 524.5,288.5 524.9,288.5 525.3,288.5 525.7,288.5 526.1,288.5 526.4,288.5 526.8,288.5 527.2,288.5 527.6,288.5 528,288.5 528.3,288.5 528.7,288.5 529.1,288.5 529.5,288.5 529.8,288.5 530.2,288.5 530.6,288.5 531,288.5 531.4,288.5 531.7,288.5 532.1,288.5 532.5,288.5 532.9,288.5 533.3,288.5 533.6,288.5 534,288.5 534.4,288.5 534.8,288.5 535.2,288.5 535.5,288.5 535.9,288.5 536.3,288.5 536.7,288.5 537,288.5 537.4,288.5 537.8,288.5 538.2,288.5 538.6,288.5 538.9,288.5 539.3,288.5 539.7,288.5 540.1,288.5 540.5,288.5 540.8,288.5 541.2,288.5 541.6,288.5 542,288.5 542.3,288.5 542.7,288.5 543.1,288.5 543.5,288.5 543.9,288.5 544.2,288.5 544.6,288.5 545,288.5 545.4,288.5 545,289 545.4,289 545.8,289 546.1,289 546.5,289 546.9,289 547.3,289 547.7,289 548.1,289 548.4,289 548.8,289 549.2,275 549.6,275 550,289 550.4,289 550.7,275 551.1,275 551.5,289 551.9,275 552.3,275 552.6,275 553,275 553.4,275 553.8,275 554.2,275 554.6,275 554.9,275 555.3,275 555.7,275 556.1,275 556.5,275 556.8,275 557.2,275 557.6,275 558,275 558.4,275 558,288.5 558.4,288.5 558.8,288.5 559.1,288.5 559.5,288.5 559.9,288.5 560.3,288.5 560.7,288.5 561.1,288.5 561.5,288.5 561.8,288.5 562.2,288.5 562.6,288.5 563,288.5 563.4,288.5 563.8,288.5 564.2,288.5 564.5,288.5 564.9,288.5 565.3,288.5 565.7,288.5 566.1,288.5 566.5,288.5 566.8,288.5 567.2,288.5 567.6,288.5 568,288.5 568.4,288.5 568,276 568.4,276 568.7,276 569.1,276 569.5,276 569.9,276 570.2,276 570.6,276 571,263 571.3,276 571.7,276 572.1,263 572.4,263 572.8,276 573.2,276 573.6,263 573.9,263 574.3,276 574.7,276 575,263 575.4,263 575.8,276 576.1,276 576.5,263 576.9,263 577.3,276 577.6,276 578,263 578.4,263 578.7,276 579.1,276 579.5,263 579.9,263 580.2,276 580.6,276 581,263 581.3,263 581.7,276 582.1,276 582.4,263 582.8,263 583.2,276 583.6,276 583.9,263 584.3,263 584.7,276 585,276 585.4,263 585.8,263 586.2,276 586.5,276 586.9,263 587.3,263 587.6,276 588,276 588.4,263 590,262 593,245 597,228 598,222 598.4,236 598.7,236 599.1,222 599.5,222 599.9,236 600.2,236 600.6,222 601,222 601.3,236 601.7,236 602.1,222 602.4,222 602.8,236 603.2,236 603.6,222 603.9,222 604.3,236 604.7,236 605,222 605.4,222 605.8,236 606.1,236 606.5,222 606.9,222 607.3,236 607.6,236 608,222 608.4,222 608.7,236 609.1,236 609.5,222 609.9,222 610.2,222 610.6,222 611,222 611.3,222 611.7,222 612.1,222 612.4,222 612.8,222 613.2,222 613.6,222 613.9,222 614.3,222 614.7,222 615,236 615.4,222 615.8,222 616.2,236 616.5,236 616.9,222 617.3,222 617.6,236 618,236 618.4,222 619,222 621,212 623,200 623.5,150 623.9,205 624.2,202.5 624.6,114.2 625,78.5 625.4,200 625,78.5 625.4,190 625.8,190 626.2,78.5 626.6,78.5 626.9,190 627.4,190 627.7,78.5 628.1,78.5 628.5,190 628.9,190 629.3,78.5 629.7,78.5 630.1,190 630.5,190 630.9,78.5 630.5,78.5 630.9,200 631.2,207.5 631.6,114.2 632,150 632.4,215 634,212 636.5,228 637,228 637.4,236 637.8,236 638.1,228 638.5,228 638.9,236 639.3,236 639.7,228 640,228 640.4,236 640.8,236 641.2,228 641.6,228 641.9,236 642.3,236 642.7,228 643.1,228 643.5,236 643.8,236 644.2,228 644.6,228 645,236 645.4,236 645.7,228 646.1,228 646.5,236 646.9,236 647.3,228 647.6,228 648,236 648.4,236 648.8,228 649.2,228 649.5,250 649.9,250 650.3,228 650.7,228 651.1,250 651.4,250 651.8,228 652.2,228 652.6,250 653,250 653.3,228 653.7,228 654.1,236 654.5,236 654.9,228 655.2,228 655.6,236 656,236 656.4,228 656,222 656.4,236 656.8,236 657.1,222 657.5,222 657.9,236 658.3,236 658.6,222 659,222 659.4,236 659.8,236 660.2,222 660.5,222 660.9,236 661.3,236 661.7,222 662.1,222 662.4,236 662.8,222 663.2,222 663.6,222 664,222 664.3,222 664.7,222 665.1,222 665.5,222 665.8,222 666.2,222 666.6,222 667,236 667.4,236 667.7,222 668.1,222 668.5,236 668.9,236 669.3,222 669.6,222 670,236 670.4,236 670.8,222 671.2,222 671.5,236 671.9,236 672.3,222 672.7,222 673,236 673.4,236 673.8,222 674.2,222 674.6,236 674.9,236 675.3,222 675.7,222 676.1,236 676.5,236 676.8,222 677.2,222 677.6,236 678,236 678.3,222 678.7,222 679.1,236 679.5,236 679.9,222 680.2,222 680.6,236 681,236 681.4,222 681,235 681.4,235 681.8,235 682.1,235 682.5,235 682.9,235 683.3,235 683.6,235 684,235 684.4,235 684.8,235 685.2,235 685.5,235 685.9,235 686.3,235 686.7,235 687.1,235 687.4,235 687.8,235 688.2,235 688.6,235 689,235 689.3,235 689.7,235 690.1,235 690.5,235 690.8,235 691.2,235 691.6,235 692,250 692.4,250 692.7,235 693.1,235 693.5,250 693.9,250 694.3,235 694.6,235 695,250 695.4,250 695.8,235 696.2,235 696.5,235 696.9,235 697.3,235 697.7,235 698,235 698.4,235 698.8,235 699.2,235 699.6,235 699.9,235 700.3,235 700.7,235 701.1,235 701.5,235 701.8,235 702.2,235 702.6,235 703,235 703.3,235 703.7,235 704.1,235 704.5,235 704.9,235 705.2,235 705.6,235 706,235 706.4,235 708,232 710,210 712,175 714.5,78.5 714.5,78.5 714.9,78.5 715.2,78.5 715.6,78.5 716,78.5 716.4,78.5 716.7,78.5 717.1,78.5 717.5,78.5 717.9,78.5 718.2,78.5 718.6,78.5 719,78.5 719.4,78.5 719.7,78.5 720.1,78.5 720.5,78.5 720.9,78.5 721.2,78.5 721.6,78.5 722,78.5 722.4,78.5 722.7,78.5 723.1,78.5 723.5,78.5 723.9,78.5 724.2,78.5 724.6,78.5 725,78.5 725.4,78.5 725.7,78.5 726.1,78.5 726.5,78.5 726.9,78.5 727.2,78.5 727.6,78.5 728,78.5 728.4,78.5 728.7,78.5 729.1,78.5 729.5,78.5 729.9,78.5 730.2,78.5 730.6,78.5 731,78.5 731.4,78.5 731.7,78.5 732.1,78.5 732.5,78.5 732.9,78.5 733.2,78.5 733.6,78.5 734,78.5 734.4,78.5 734.7,78.5 735.1,78.5 735.5,78.5 735.9,78.5 736.2,78.5 736.6,78.5 737,78.5 737.4,78.5 737.7,78.5 738.1,78.5 738.5,78.5 738.9,78.5 739.2,78.5 739.6,78.5 740,78.5 740.4,78.5 740.7,78.5 741.1,78.5 741.5,78.5 741.9,78.5 742.2,78.5 742.6,78.5 743,78.5 743.4,78.5 743.7,78.5 744.1,78.5 744.5,78.5 744.9,78.5 745.2,78.5 745.6,78.5 746,78.5 746.4,78.5 746.7,78.5 747.1,78.5 747.5,78.5 747.9,78.5 748.2,78.5 748.6,78.5 749,78.5 749.4,78.5 749.7,78.5 750.1,78.5 750.5,78.5 750.9,78.5 751.2,78.5 751.6,78.5 752,78.5 752.3,78.5 752.7,78.5 753.1,78.5 753.5,78.5 753.8,78.5 754.2,78.5 754.6,78.5 755,78.5 755.3,78.5 755.7,78.5 756.1,78.5 756.5,78.5 756.8,78.5 757.2,78.5 757.6,78.5 758,78.5 758.3,78.5 758.7,78.5 759.1,78.5 759.5,78.5 759.8,78.5 760.2,78.5 760.6,78.5 761,78.5 761.3,78.5 761.7,78.5 762.1,78.5 762.5,78.5 762.8,78.5 763.2,78.5 763.6,78.5 764,78.5 764.3,78.5 764.7,78.5 765.1,78.5 765.5,78.5 765.8,78.5 766.2,78.5 766.6,78.5 767,78.5 767.3,78.5 767.7,78.5 768.1,78.5 768.5,78.5 768.8,78.5 769.2,78.5 769.6,78.5 770,78.5 770.3,78.5 770.7,78.5 771.1,78.5 771.5,78.5 771.8,78.5 772.2,78.5 772.6,78.5 773,78.5 773.3,78.5 773.7,78.5 774.1,78.5 774.5,78.5 774.8,78.5 775.2,78.5 775.6,78.5 776,78.5 776.3,78.5 776.7,78.5 777.1,78.5 777.5,78.5 777.8,78.5 778.2,78.5 778.6,78.5 779,78.5 779.3,78.5 779.7,78.5 780.1,78.5 780.5,78.5 780.8,78.5 781.2,78.5 781.6,78.5 782,78.5 782.3,78.5 782.7,78.5 783.1,78.5 783.5,78.5 783.8,78.5 784.2,78.5 784.6,78.5 785,78.5 785.3,78.5 785.7,78.5 786.1,78.5 786.5,78.5 786.8,78.5 787.2,78.5 787.6,78.5 788,78.5 788.3,78.5 788.7,78.5 789.1,78.5 789.4,78.5 789.8,78.5 790.2,78.5 790.6,78.5 790.9,78.5 791.3,78.5 791.7,78.5 792.1,78.5 792.4,78.5 792.8,78.5 793.2,78.5 793.6,78.5 793.9,78.5 794.3,78.5 794.7,78.5 795.1,78.5 795.4,78.5 795.8,78.5 796.2,78.5 796.6,78.5 796.9,78.5 797.3,78.5 797.7,78.5 798.1,78.5 798.4,78.5 798.8,78.5 799.2,78.5 799.6,78.5 799.9,78.5 800.3,78.5 800.7,78.5 801.1,78.5 801.4,78.5 801.8,78.5 802.2,78.5 802.6,78.5 802.9,78.5 803.3,78.5 803.7,78.5 804.1,78.5 804.4,78.5 804.8,78.5 805.2,78.5 805.6,78.5 805.9,78.5 806.3,78.5 806.7,78.5 807.1,78.5 807.4,78.5 807.8,78.5 808.2,78.5 808.6,78.5 808.9,78.5 809.3,78.5 809.7,78.5 810.1,78.5 810.4,78.5 810.8,78.5 811.2,78.5 811.6,78.5 811.9,78.5 812.3,78.5 812.7,78.5 813.1,78.5 813.4,78.5 813.8,78.5 814.2,78.5 814.6,78.5 814.9,78.5 815.3,78.5 815.7,78.5 816.1,78.5 816.4,78.5 816.8,78.5 817.2,78.5 817.6,78.5 817.9,78.5 818.3,78.5 818.7,78.5 819.1,78.5 819.4,78.5 819.8,78.5 820.2,78.5 820.6,78.5 820.9,78.5 821.3,78.5 821.7,78.5 822.1,78.5 822.4,78.5 822.8,78.5 823.2,78.5 823.6,78.5 823.9,78.5 824.3,78.5 824.7,78.5 825.1,78.5 825.4,78.5 825.8,78.5 826.2,78.5 826.6,78.5 826.9,78.5 827.3,78.5 827.7,78.5 828,78.5 828.4,78.5 828.8,78.5 829.2,78.5 829.5,78.5 829.9,78.5 830.3,78.5 830.7,78.5 831,78.5 831.4,78.5 831.8,78.5 832.2,78.5 832.5,78.5 832.9,78.5 833.3,78.5 833.7,78.5 834,78.5 834.4,78.5 834.8,78.5 835.2,78.5 835.5,78.5 835.9,78.5 836.3,78.5 836.7,78.5 837,78.5 837.4,78.5 837.8,78.5 838.2,78.5 838.5,78.5 838.9,78.5 839.3,78.5 839.7,78.5 840,78.5 840.4,78.5 840.8,78.5 841.2,78.5 841.5,78.5 841.9,78.5 842.3,78.5 842.7,78.5 843,78.5 843.4,78.5 843.8,78.5 844.2,78.5 844.5,78.5 844.9,78.5 845.3,78.5 845.7,78.5 846,78.5 846.4,78.5 846.8,78.5 847.2,78.5 847.5,78.5 847.9,78.5 848.3,78.5 848.7,78.5 849,78.5 849.4,78.5 849.8,78.5 850.2,78.5 850.5,78.5 850.9,78.5 851.3,78.5 851.7,78.5 852,78.5 852.4,78.5 852.8,78.5 853.2,78.5 853.5,78.5 853.9,78.5 854.3,78.5 854.7,78.5 855,78.5 855.4,78.5 855.8,78.5 856.2,78.5 856.5,78.5 856.9,78.5 857.3,78.5 857.7,78.5 858,78.5 858.4,78.5 858.8,78.5 859.2,78.5 859.5,78.5 859.9,78.5 860.3,78.5 860.7,78.5 861,78.5 861.4,78.5 861.8,78.5 862.2,78.5 862.5,78.5 862.9,78.5 863.3,78.5 863.6,78.5 864,78.5 864.4,78.5 864.8,78.5 865.1,78.5 865.5,78.5 865.9,78.5 866.3,78.5 866.6,78.5 867,78.5 867.4,78.5 867.8,78.5 868.1,78.5 868.5,78.5 868.9,78.5 869.3,78.5 869.6,78.5 870,78.5 870.4,78.5 870.8,78.5 871.1,78.5 871.5,78.5 871.9,78.5 872.3,78.5 872.6,78.5 873,78.5 873.4,78.5 873.8,78.5 874.1,78.5 874.5,78.5 874.9,78.5 875.3,78.5 875.6,78.5 876,78.5 876.4,78.5 876.8,78.5 877.1,78.5 877.5,78.5 877.9,78.5 878.3,78.5 878.6,78.5 879,78.5 879.4,78.5 879.8,78.5 880.1,78.5 880.5,78.5 880.9,78.5 881.3,78.5 881.6,78.5 882,78.5 882.4,78.5 882.8,78.5 883.1,78.5 883.5,78.5 883.9,78.5 884.3,78.5 884.6,78.5 885,78.5 885.4,78.5 885.8,78.5 886.1,78.5 886.5,78.5 886.9,78.5 887.3,78.5 887.6,78.5 888,78.5 888.4,78.5 888.8,78.5 889.1,78.5 889.5,78.5 889.9,78.5 890.3,78.5 890.6,78.5 891,78.5 891.4,78.5 891.8,78.5 892.1,78.5 892.5,78.5 892.9,78.5 893.3,78.5 893.6,78.5 894,78.5 894.4,78.5 894.8,78.5 895.1,78.5 895.5,78.5 895.9,78.5 896.3,78.5 896.6,78.5 897,78.5 897.4,78.5 897.8,78.5 898.1,78.5 898.5,78.5 898.9,78.5 899.3,78.5 899.6,78.5 900,78.5 900.4,78.5 900.8,78.5 901.1,78.5 901.5,78.5 901.9,78.5 902.2,78.5 902.6,78.5 903,78.5 903.4,78.5 903.7,78.5 904.1,78.5 904.5,78.5 904.9,78.5 905.2,78.5 905.6,78.5 906,78.5 906.4,78.5 906.7,78.5 907.1,78.5 907.5,78.5 907.9,78.5 908.2,78.5 908.6,78.5 909,78.5 909.4,78.5 909.7,78.5 910.1,78.5 910.5,78.5 910.9,78.5 911.2,78.5 911.6,78.5 912,78.5 912.4,78.5 912.7,78.5 913.1,78.5 913.5,78.5 913.9,78.5 914.2,78.5 914.6,78.5 915,78.5 915.4,78.5 915.7,78.5 916.1,78.5 916.5,78.5 916.9,78.5 917.2,78.5 917.6,78.5 918,78.5 918.4,78.5 918.7,78.5 919.1,78.5 919.5,78.5 919.9,78.5 920.2,78.5 920.6,78.5 921,78.5 921.4,78.5 921.7,78.5 922.1,78.5 922.5,78.5 922.9,78.5 923.2,78.5 923.6,78.5 924,78.5 924.4,78.5 924.7,78.5 925.1,78.5 925.5,78.5 925.9,78.5 926.2,78.5 926.6,78.5 927,78.5 927.4,78.5 927.7,78.5 928.1,78.5 928.5,78.5 928.9,78.5 929.2,78.5 929.6,78.5 930,78.5 930.4,78.5 930.7,78.5 931.1,78.5 931.5,78.5 931.9,78.5 932.2,78.5 932.6,78.5 933,78.5 933.4,78.5 933.7,78.5 934.1,78.5 934.5,78.5 934.9,78.5 935.2,78.5 935.6,78.5 936,78.5 936.4,78.5 936.7,78.5 937.1,78.5 937.5,78.5 937.9,78.5 938.2,78.5 938.6,78.5 939,78.5 939.3,78.5 939.7,78.5 940.1,78.5 940.5,78.5 940.8,78.5 941.2,78.5 941.6,78.5 942,78.5 942.3,78.5 942.7,78.5 943.1,78.5 943.5,78.5 943.8,78.5 944.2,78.5 944.6,78.5 945,78.5 945.3,78.5 945.7,78.5 946.1,78.5 946.5,78.5 946.8,78.5 947.2,78.5 947.6,78.5 948,78.5 948.3,78.5 948.7,78.5 949.1,78.5 949.5,78.5 949.8,78.5 950.2,78.5 950.6,78.5 951,78.5 951.3,78.5 951.7,78.5 952.1,78.5 952.5,78.5 952.8,78.5 953.2,78.5 953.6,78.5 954,78.5 954.3,78.5 954.7,78.5 955.1,78.5 955.5,78.5 955.8,78.5 956.2,78.5 956.6,78.5 957,78.5 957.3,78.5 957.7,78.5 958.1,78.5 958.5,78.5 958.8,78.5 959.2,78.5 959.6,78.5 960,78.5 960.3,78.5 960.7,78.5 961.1,78.5 961.5,78.5 961.8,78.5 962.2,78.5 962.6,78.5 963,78.5 963.3,78.5 963.7,78.5 964.1,78.5 964.5,78.5 964.8,78.5 965.2,78.5 965.6,78.5 966,78.5 966.3,78.5 966.7,78.5 967.1,78.5 967.5,78.5 967.8,78.5 968.2,78.5 968.6,78.5 969,78.5 969.3,78.5 969.7,78.5 970.1,78.5 970.5,78.5 970.8,78.5 971.2,78.5 971.6,78.5 972,78.5 972.3,78.5 972.7,78.5 973.1,78.5 973.5,78.5 973.8,78.5 974.2,78.5 974.6,78.5 975,78.5 975.3,78.5 975.7,78.5 976.1,78.5 976.4,78.5 976.8,78.5 977.2,78.5 977.6,78.5 977.9,78.5 978.3,78.5 978.7,78.5 979.1,78.5 979.4,78.5 979.8,78.5 980.2,78.5 980.6,78.5 980.9,78.5 981.3,78.5 981.7,78.5 982.1,78.5 982.4,78.5 982.8,78.5 983.2,78.5 983.6,78.5 983.9,78.5 984.3,78.5 984.7,78.5 985.1,78.5 985.4,78.5 985.8,78.5 986.2,78.5 986.6,78.5 986.9,78.5 987.3,78.5 987.7,78.5 988.1,78.5 988.4,78.5 988.8,78.5 989.2,78.5 989.6,78.5 989.9,78.5 990.3,78.5 990.7,78.5 991.1,78.5 991.4,78.5 991.8,78.5 992.2,78.5 992.6,78.5 992.9,78.5 993.3,78.5 993.7,78.5 994.1,78.5 994.4,78.5 994.8,78.5 995.2,78.5 995.6,78.5 995.9,78.5 996.3,78.5 996.7,78.5 997.1,78.5 997.4,78.5 997.8,78.5 998.2,78.5 998.6,78.5 998.9,78.5 999.3,78.5 999.7,78.5 1000.1,78.5 1000.4,78.5 1000.8,78.5 1001.2,78.5 1001.6,78.5 1001.9,78.5 1002.3,78.5 1002.7,78.5 1003.1,78.5 1003.4,78.5 1003.8,78.5 1004.2,78.5 1004.6,78.5 1004.9,78.5 1005.3,78.5 1005.7,78.5 1006.1,78.5 1006.4,78.5 1006.8,78.5 1007.2,78.5 1007.6,78.5 1007.9,78.5 1008.3,78.5 1008.7,78.5 1009.1,78.5 1009.4,78.5 1009.8,78.5 1010.2,78.5 1010.6,78.5 1010.9,78.5 1011.3,78.5 1011.7,78.5 1012.1,78.5 1012.4,78.5 1012.8,78.5 1013.2,78.5 1013.5,78.5 1013.9,78.5 1014.3,78.5 1014.7,78.5 1015,78.5 1015.4,78.5 1015.8,78.5 1016.2,78.5 1016.5,78.5 1016.9,78.5 1017.3,78.5 1017.7,78.5 1018,78.5 1018.4,78.5 1018.8,78.5 1019.2,78.5 1019.5,78.5 1019.9,78.5 1020.3,78.5 1020.7,78.5 1021,78.5 1021.4,78.5 1021.8,78.5 1022.2,78.5 1022.5,78.5 1022.9,78.5 1023.3,78.5 1023.7,78.5 1024,78.5 1024.4,78.5 1024.8,78.5 1025.2,78.5 1025.5,78.5 1025.9,78.5 1026.3,78.5 1026.7,78.5 1027,78.5 1027.4,78.5 1027.8,78.5 1028.2,78.5 1028.5,78.5 1028.9,78.5 1029.3,78.5 1029.7,78.5 1030,78.5 1030.4,78.5 1030.8,78.5 1031.2,78.5 1031.5,78.5 1031.9,78.5 1032.3,78.5 1032.7,78.5 1033,78.5 1033.4,78.5 1033.8,78.5 1034.2,78.5 1034.5,78.5 1034.9,78.5 1035.3,78.5 1035.7,78.5 1036,78.5 1036.4,78.5 1036.8,78.5 1037.2,78.5 1037.5,78.5 1037.9,78.5 1038.3,78.5 1038.7,78.5 1039,78.5 1039.4,78.5 1039.8,78.5 1040.2,78.5 1040.5,78.5 1040.9,78.5 1041.3,78.5 1041.7,78.5 1042,78.5 1042.4,78.5 1042.8,78.5 1043.2,78.5 1043.5,78.5 1043.9,78.5 1044.3,78.5 1044.7,78.5 1045,78.5 1045.4,78.5 1045.8,78.5 1046.2,78.5 1046.5,78.5 1046.9,78.5 1047.3,78.5 1047.7,78.5 1048,78.5 1048.4,78.5 1048.8,78.5 1049.2,78.5 1049.5,78.5 1049.9,78.5 1050.3,78.5 1050.6,78.5 1051,78.5 1051.4,78.5 1051.8,78.5 1052.1,78.5 1052.5,78.5 1052.9,78.5 1053.3,78.5 1053.6,78.5 1054,78.5 1054.4,78.5 1054.8,78.5 1055.1,78.5 1055.5,78.5 1055.9,78.5 1056.3,78.5 1056.6,78.5 1057,78.5 1057.4,78.5 1057.8,78.5 1058.1,78.5 1058.5,78.5 1058.9,78.5 1059.3,78.5 1059.6,78.5 1060,78.5 1060.4,78.5 1060.8,78.5 1061.1,78.5 1061.5,78.5 1061.9,78.5 1062.3,78.5 1062.6,78.5 1063,78.5 1063.4,78.5 1063.8,78.5 1064.1,78.5 1064.5,78.5 1064.9,78.5 1065.3,78.5 1065.6,78.5 1066,78.5 1066.4,78.5 1066.8,78.5 1067.1,78.5 1067.5,78.5 1067.9,78.5 1068.3,78.5 1068.6,78.5 1069,78.5 1069.4,78.5 1069.8,78.5 1070.1,78.5 1070.5,78.5 1070.9,78.5 1071.3,78.5 1071.6,78.5 1072,78.5 1072.4,78.5 1072.8,78.5 1073.1,78.5 1073.5,78.5 1073.9,78.5 1074.3,78.5 1074.6,78.5 1075,78.5 1075.4,78.5 1075.8,78.5 1076.1,78.5 1076.5,78.5 1076.9,78.5 1077.3,78.5 1077.6,78.5 1078,78.5 1078.4,78.5 1078.8,78.5 1079.1,78.5 1079.5,78.5 1079.9,78.5 1080.3,78.5 1080.6,78.5 1081,78.5 1081.4,78.5 1081.8,78.5 1082.1,78.5 1082.5,78.5 1082.9,78.5 1083.3,78.5 1083.6,78.5 1084,78.5 1084.4,78.5 1084.8,78.5 1085.1,78.5 1085.5,78.5 1085.9,78.5 1086.3,78.5 1086.6,78.5 1087,78.5 1087.4,78.5 1088,150 1089.5,190 1091,223 1093,248 1096,262 1096,262 1096.4,262 1096.7,262 1097.1,262 1097.4,262 1097.8,262 1098.1,262 1098.5,262 1098.8,262 1099.2,262 1099.5,262 1099.9,262 1099.5,275 1099.9,275 1100.2,275 1100.6,275 1101,275 1101.3,275 1101.7,275 1102.1,275 1102.4,275 1102.8,275 1103.2,275 1103.5,275 1103.9,275 1104.3,275 1104.6,275 1105,275 1105.3,275 1105.7,275 1106.1,262 1106.5,262 1106.8,262 1107.2,262 1107.5,262 1107.9,262 1108.3,262 1108.6,262 1109,262 1109.4,262 1109,249 1109.4,262 1109.8,262 1110.1,249 1110.5,249 1110.9,262 1111.3,262 1111.7,249 1112.1,249 1112.5,262 1112.8,262 1113.2,249 1113.6,249 1114,262 1114.4,262 1114.8,249 1115.2,249 1115.5,262 1115.9,262 1116.3,249 1116.7,249 1117.1,262 1117.5,262 1117.8,249 1118.2,249 1118.6,262 1119,262 1119.4,249 1119,236 1119.4,249 1119.8,249 1120.1,236 1120.5,236 1120.9,249 1121.2,249 1121.6,236 1122,236 1122.4,249 1122.8,249 1123.1,236 1123.5,236 1123.9,249 1124.2,249 1124.6,236 1125,236 1125.4,249 1125.8,249 1126.1,236 1126.5,236 1126.9,249 1127.2,249 1127.6,236 1128,236 1128.4,249 1128.8,249 1129.1,236 1129.5,236 1129.9,249 1130.2,249 1130.6,236 1131,236 1131.4,249 1131.8,249 1132.1,236 1132.5,236 1132.9,249 1133.2,249 1133.6,236 1134,236 1134.4,249 1134.8,249 1135.1,236 1135.5,236 1135.9,249 1136.2,249 1136.6,236 1137,236 1137.4,249 1137.8,249 1138.1,236 1138.5,236 1138.9,249 1139.2,249 1139.6,236 1140,236 1140.4,249 1140.8,249 1141.1,236 1141.5,236 1141.9,249 1142.2,249 1142.6,236 1143,236 1143.4,249 1143.8,249 1144.1,236 1144.5,236 1144.9,249 1145.2,249 1145.6,236 1146,236 1146.4,249 1146.8,249 1147.1,236 1147.5,236 1147.9,249 1148.2,249 1148.6,236 1149,236 1149.4,249 1149.8,249 1150.1,236 1150.5,236 1150.9,249 1151.2,249 1151.6,236 1152,236 1152.4,249 1152,249.5 1152.4,249.5 1152.7,249.5 1153.1,249.5 1153.5,249.5 1153.9,262 1154.2,262 1154.6,249.5 1155,249.5 1155.3,262 1155.7,262 1156.1,249.5 1156.5,249.5 1156.8,262 1157.2,262 1157.6,249.5 1157.9,249.5 1158.3,262 1158.7,262 1159.1,249.5 1159.4,249.5 1159.8,262 1160.2,249.5 1160.5,249.5 1160.9,249.5 1161.3,249.5 1161.7,249.5 1162,249.5 1162.4,249.5 1162.8,249.5 1163.1,249.5 1163.5,249.5 1163.9,249.5 1164.3,249.5 1164.6,249.5 1165,249.5 1165.4,249.5 1165.7,249.5 1166.1,249.5 1166.5,249.5 1166.9,249.5 1167.2,249.5 1167.6,249.5 1168,249.5 1168.3,249.5 1168.7,249.5 1169.1,249.5 1169.5,249.5 1169.8,249.5 1170.2,249.5 1170.6,249.5 1170.9,249.5 1171.3,249.5 1171.7,262 1172.1,262 1172.4,249.5 1172.8,249.5 1173.2,262 1173.5,262 1173.9,249.5 1174.3,249.5 1174.7,262 1175,262 1175.4,249.5 1175.8,249.5 1176.1,262 1176.5,262 1176.9,249.5 1177.3,249.5 1177.6,262 1178,262 1178.4,249.5 1179.5,262 1181,276 1181,276 1181.4,289 1181.8,289 1182.1,276 1182.5,276 1182.9,289 1183.3,289 1183.7,276 1184,276 1184.4,289 1184.8,289 1185.2,276 1185.6,276 1185.9,289 1186.3,289 1186.7,276 1187.1,276 1187.5,289 1187.8,289 1188.2,276 1188.6,276 1189,289 1189.4,289 1189.7,276 1190.1,276 1190.5,289 1190.9,289 1191.3,276 1191.6,276 1192,289 1192.4,289 1192.8,276 1193.2,276 1193.5,289 1193.9,276 1194.3,276 1194.7,276 1195.1,276 1195.4,276 1195.8,276 1196.2,276 1196.6,276 1197,276 1197.3,276 1197.7,276 1198.1,276 1198.5,276 1198.9,276 1199.2,276 1199.6,276 1200,289 1200.4,276 1200,276 1200.4,276 1200.8,276 1201.1,276 1201.5,276 1201.9,276 1202.3,276 1202.6,276 1203,276 1203.4,276 1203.8,276 1204.1,276 1204.5,276 1204.9,276 1205.3,276 1205.6,276 1206,276 1206.4,276 1206.8,276 1207.1,276 1207.5,276 1207.9,276 1208.3,276 1208.6,276 1209,276 1209.4,276 1209.8,276 1210.1,276 1210.5,276 1210.9,276 1211.3,276 1211.6,276 1212,276 1212.4,276 1212.8,276 1213.1,276 1213.5,276 1213.9,276 1214.3,276 1214.6,276 1215,276 1215.4,276 1215.8,276 1216.1,276 1216.5,276 1216.9,276 1217.3,276 1217.6,276 1218,276 1218.4,276 1218.8,276 1219.1,276 1219.5,276 1219.9,276 1220.3,276 1220.6,276 1221,276 1221.4,276 1221.8,276 1222.1,276 1222.5,276 1222.9,276 1223.3,276 1223.6,276 1224,276 1224.4,276 1224.8,276 1225.1,276 1225.5,276 1225.9,276 1226.3,276 1226.6,276 1227,276 1227.4,276 1227.8,276 1228.1,276 1228.5,276 1228.9,276 1229.3,276 1229.6,276 1230,276 1230.4,276 1230.8,276 1231.1,276 1231.5,276 1231.9,276 1232.3,276 1232.7,276 1233,276 1233.4,276 1233.8,276 1234.2,276 1234.5,276 1234.9,276 1235.3,276 1235.7,276 1236,262 1236.4,276 1236.8,276 1237.2,262 1237.5,262 1237.9,276 1238.3,276 1238.7,262 1239,262 1239.4,276 1239.8,276 1240.2,262 1240.5,262 1240.9,276 1241.3,276 1241.7,262 1242,262 1242.4,276 1242.8,276 1243.2,262 1243.5,262 1243.9,276 1244.3,276 1244.7,262 1245,262 1245.4,276 1245.8,276 1246.2,262 1246.5,262 1246.9,276 1247.3,276 1247.7,262 1248,262 1248.4,276 1248.8,276 1249.2,262 1249.5,262 1249.9,276 1250.3,276 1250.7,262 1251,276 1251.4,276 1251.8,276 1252.2,276 1252.5,276 1252.9,276 1253.3,276 1253.7,276 1254,276 1254.4,276 1254.8,276 1255.2,276 1255.5,276 1255.9,276 1256.3,276 1256.7,276 1257,276 1257.4,276 1257.8,276 1258.2,276 1258.5,276 1258.9,276 1259.3,276 1259.7,276 1260,276 1260.4,276 1260.8,276 1261.2,276 1261.5,276 1261.9,276 1262.3,276 1262.7,262 1263.1,262 1263.4,276 1263.8,276 1264.2,262 1264.6,262 1264.9,276 1265.3,290 1265.7,262 1266.1,262 1266.4,290 1266.8,290 1267.2,262 1267.6,262 1267.9,290 1268.3,290 1268.7,262 1269.1,262 1269.4,290 1269.8,290 1270.2,262 1270.6,276 1270.9,290 1271.3,290 1271.7,276 1272.1,276 1272.4,290 1272.8,290 1273.2,276 1273.6,276 1273.9,276 1274.3,276 1274.7,276 1275.1,276 1275.4,276 1275.8,276 1276.2,276 1276.6,276 1276.9,276 1277.3,276 1277.7,276 1278.1,276 1278.4,276 1278.8,276 1279.2,276 1279.6,276 1279.9,276 1280.3,276 1280.7,276 1281.1,276 1281.4,276 1281.8,276 1282.2,276 1282.6,276 1282.9,276 1283.3,276 1283.7,276 1284.1,276 1284.4,276 1284.8,276 1285.2,276 1285.6,276 1285.9,276 1286.3,276 1286.7,276 1287.1,276 1287.4,276 1287.8,276 1288.2,276 1288.6,276 1288.9,290 1289.3,290 1289.7,276 1290.1,276 1290.4,290 1290.8,290 1291.2,276 1291.6,276 1291.9,290 1292.3,290 1292.7,276 1293.1,276 1293.4,290 1293.8,290 1294.2,276 1294.6,276 1295,290 1295.3,290 1295.7,276 1296.1,276 1296.5,290 1296.8,276 1297.2,276 1297.6,276 1298,276 1298.3,276 1298.7,276 1299.1,276 1299.5,276 1299.8,276 1300.2,276 1300.6,276 1301,276 1301.3,276 1301.7,276 1302.1,276 1302.5,276 1302.8,276 1303.2,276 1303.6,276 1304,276 1304.3,276 1304.7,276 1305.1,276 1305.5,276 1305.8,276 1306.2,276 1306.6,276 1307,276 1307.3,276 1307.7,276 1308.1,276 1308.5,276 1308.8,276 1309.2,276 1309.6,276 1310,276 1310.3,276 1310.7,276 1311.1,276 1311.5,276 1311.8,276 1312.2,276 1312.6,276 1313,276 1313.3,276 1313.7,276 1314.1,276 1314.5,276 1314.8,276 1315.2,276 1315.6,276 1316,290 1316.3,290 1316.7,276 1317.1,276 1317.5,290 1317.8,290 1318.2,276 1318.6,276 1319,290 1319.3,290 1319.7,276 1320.1,276 1320.5,290 1320.8,290 1321.2,276 1321.6,276 1322,290 1322.3,290 1322.7,276 1323.1,276 1323.5,290 1323.8,276 1324.2,276 1324.6,276 1325,276 1325.4,276 1325.7,276 1326.1,276 1326.5,290 1326.9,290 1327.2,276 1327.6,276 1328,290 1328.4,290 1328.7,276 1329.1,276 1329.5,290 1329.9,290 1330.2,276 1330.6,276 1331,290 1331.4,290 1331.7,276 1332.1,276 1332.5,290 1332.9,290 1333.2,276 1333.6,276 1334,290 1334.4,290 1334.7,276 1335.1,276 1335.5,290 1335.9,290 1336.2,276 1336.6,276 1337,290 1337.4,290 1337.7,276 1338.1,276 1338.5,290 1338.9,290 1339.2,276 1339.6,276 1340,290 1340.4,276 1340.7,276 1341.1,276 1341.5,276 1341.9,276 1342.2,276 1342.6,276 1343,276 1343.4,276 1343.7,276 1344.1,276 1344.5,276 1344.9,276 1345.2,276 1345.6,276 1346,290 1346.4,290 1346.7,276 1347.1,276 1347.5,290 1347.9,290 1348.2,276 1348.6,262 1349,290 1349.4,290 1349.7,262 1350.1,262 1350.5,290 1350.9,290 1351.2,262 1351.6,262 1352,290 1352.4,276 1352.7,262 1353.1,262 1353.5,276 1353.9,276 1354.2,262 1354.6,262 1355,276 1355.4,276 1355.7,262 1356.1,262 1356.5,276 1356.9,276 1357.3,262 1357.6,262 1358,276 1358.4,276 1358.8,262 1359.1,262 1359.5,276 1359.9,276 1360.3,262 1360.6,262 1361,276 1361.4,276 1361.8,262 1362.1,262 1362.5,276 1362.9,276 1363.3,262 1363.6,262 1364,276 1364.4,276 1364.8,262 1365.1,262 1365.5,276 1365.9,276 1366.3,262 1366.6,262 1367,276 1367.4,276 1367.8,262 1368.1,262 1368.5,276 1368.9,276 1369.3,262 1369.6,276 1370,276 1370.4,276 1370.8,276 1371.1,276 1371.5,276 1371.9,276 1372.3,276 1372.6,276 1373,276 1373.4,276 1373.8,276 1374.1,276 1374.5,276 1374.9,276 1375.3,276 1375.6,276 1376,276 1376.4,276 1376.8,276 1377.1,276 1377.5,276 1377.9,290 1378.3,276 1378.6,276 1379,290 1379.4,290 1379.8,276 1380.1,276 1380.5,290 1380.9,290 1381.3,276 1381.6,276 1382,290 1382.4,290 1382.8,262 1383.1,262 1383.5,290 1383.9,290 1384.3,262 1384.6,262 1385,290 1385.4,276 1385.8,262 1386.1,262 1386.5,276 1386.9,276 1387.3,262 1387.6,262 1388,276 1388.4,276 1388.8,262 1389.2,262 1389.5,276 1389.9,276 1390.3,262 1390.7,276 1391,290 1391.4,290 1391.8,276 1392.2,276 1392.5,290 1392.9,290 1393.3,276 1393.7,276 1394,290 1394.4,290 1394.8,276 1395.2,276 1395.5,290 1395.9,290 1396.3,276 1396.7,276 1397,290 1397.4,290 1397.8,276 1398.2,276 1398.5,290 1398.9,290 1399.3,276 1399.7,276 1400,290 1400.4,290 1400.8,276 1401.2,276 1401.5,290 1401.9,290 1402.3,276 1402.7,276 1403,290 1403.4,290 1403.8,276 1404.2,276 1404.5,290 1404.9,290 1405.3,276 1405.7,276 1406,290 1406.4,290 1406.8,276 1407.2,276 1407.5,290 1407.9,290 1408.3,276 1408.7,276 1409,290 1409.4,290 1409.8,276 1410.2,276 1410.5,290 1410.9,290 1411.3,276 1411.7,276 1412,290 1412.4,290 1412.8,276 1413.2,276 1413.5,290 1413.9,290 1414.3,276 1414.7,276 1415,290 1415.4,290 1415.8,276 1416.2,276 1416.5,290 1416.9,276 1417.3,276 1417.7,276 1418,276 1418.4,276 1418.8,276 1419.2,276 1419.6,276 1419.9,276 1420.3,276 1420.7,276 1421.1,290 1421.4,290 1421.8,276 1422.2,276 1422.6,290 1422.9,290 1423.3,276 1423.7,276 1424.1,290 1424.4,290 1424.8,276 1425.2,276 1425.6,290 1425.9,290 1426.3,276 1426.7,276 1427.1,290 1427.4,290 1427.8,276 1428.2,276 1428.6,276 1428.9,276 1429.3,276 1429.7,276 1430.1,276 1430.4,276 1430.8,276 1431.2,276 1431.6,276 1431.9,276 1432.3,276 1432.7,276 1433.1,276 1433.4,276 1433.8,276 1434.2,262 1434.6,276 1434.9,276 1435.3,262 1435.7,262 1436.1,276 1436.4,276 1436.8,262 1437.2,262 1437.6,276 1437.9,276 1438.3,262 1438.7,262 1439.1,276 1439.4,276 1439.8,262 1440.2,262 1440.6,276 1440.9,276 1441.3,262 1441.7,262 1442.1,276 1442.4,276 1442.8,262 1443.2,262 1443.6,276 1443.9,276 1444.3,262 1444.7,262 1445.1,276 1445.4,276 1445.8,262 1446.2,262 1446.6,276 1446.9,276 1447.3,262 1447.7,276 1448.1,276 1448.4,276 1448.8,276 1449.2,276 1449.6,276 1449.9,276 1450.3,276 1450.7,262 1451.1,276 1451.5,276 1451.8,262 1452.2,262 1452.6,276 1453,276 1453.3,262 1453.7,262 1454.1,276 1454.5,276 1454.8,262 1455.2,262 1455.6,276 1456,276 1456.3,262 1456.7,262 1457.1,276 1457.5,276 1457.8,262 1458.2,262 1458.6,276 1459,276 1459.3,262 1459.7,262 1460.1,276 1460.5,276 1460.8,262 1461.2,262 1461.6,276 1462,276 1462.3,262 1462.7,276 1463.1,276 1463.5,290 1463.8,276 1464.2,276 1464.6,290 1465,290 1465.3,276 1465.7,276 1466.1,290 1466.5,290 1466.8,276 1467.2,276 1467.6,290 1468,290 1468.3,276 1468.7,276 1469.1,290 1469.5,290 1469.8,276 1470.2,276 1470.6,290 1471,290 1471.3,276 1471.7,276 1472.1,290 1472.5,290 1472.8,276 1473.2,276 1473.6,290 1474,290 1474.3,276 1474.7,276 1475.1,290 1475.5,290 1475.8,276 1476.2,276 1476.6,290 1477,290 1477.3,276 1477.7,276 1478.1,290 1478.5,290 1478.8,276 1479.2,262 1479.6,290 1480,290 1480.3,262 1480.7,262 1481.1,290 1481.5,290 1481.8,262 1482.2,262 1482.6,290 1483,290 1483.4,262 1483.7,262 1484.1,290 1484.5,290 1484.9,262 1485.2,262 1485.6,290 1486,290 1486.4,262 1486.7,262 1487.1,276 1487.5,276 1487.9,262 1488.2,262 1488.6,276 1489,276 1489.4,262 1489.7,262 1490.1,276 1490.5,276 1490.9,262 1491.2,262 1491.6,276 1492,276 1492.4,262 1492.7,262 1493.1,276 1493.5,276 1493.9,262 1494.2,262 1494.6,276 1495,276 1495.4,262 1495.7,262 1496.1,276 1496.5,276 1496.9,262 1497.2,276 1497.6,276 1498,276 1498.4,276 1498.7,276 1499.1,276 1499.5,276 1499.9,276 1500.2,276 1500.6,276 1501,276 1501.4,276 1501.7,276 1502.1,276 1502.5,276 1502.9,276 1503.2,262 1503.6,276 1504,276 1504.4,262 1504.7,262 1505.1,276 1505.5,276 1505.9,262 1506.2,262 1506.6,276 1507,276 1507.4,262 1507.7,262 1508.1,276 1508.5,276 1508.9,262 1509.2,262 1509.6,276 1510,276 1510.4,262 1510.7,262 1511.1,276 1511.5,276 1511.9,262 1512.2,262 1512.6,276 1513,276 1513.4,262 1515,268 1517,250 1519,232 1519,222 1519.4,235 1519.8,235 1520.1,222 1520.5,222 1520.9,235 1521.3,235 1521.7,222 1522.1,222 1522.5,235 1522.8,235 1523.2,222 1523.6,222 1524,235 1524.4,235 1524.8,222 1525.2,222 1525.5,235 1525.9,235 1526.3,222 1526.7,222 1527.1,235 1527.5,235 1527.8,222 1528.2,222 1528.6,235 1529,235 1529.4,222 1529,209 1529.4,222 1529.8,222 1530.1,209 1530.5,209 1530.9,222 1531.3,222 1531.6,209 1532,209 1532.4,222 1532.8,222 1533.2,209 1533.5,209 1533.9,222 1534.3,222 1534.7,209 1535.1,209 1535.4,222 1535.8,222 1536.2,209 1536.6,209 1536.9,222 1537.3,222 1537.7,209 1538.1,209 1538.5,222 1538.8,222 1539.2,222 1539.6,222 1540,222 1540.4,222 1540.7,222 1541.1,222 1541.5,222 1541.9,222 1542.2,222 1542.6,222 1543,222 1543.4,222 1543.8,222 1544.1,209 1544.5,222 1544.9,222 1545.3,209 1545.6,209 1546,222 1546.4,222 1546.8,209 1547.2,209 1547.5,222 1547.9,222 1548.3,209 1548.7,209 1549.1,222 1549.4,222 1549.8,209 1550.2,209 1550.6,222 1550.9,222 1551.3,209 1551.7,209 1552.1,222 1552.5,222 1552.8,209 1553.2,209 1553.6,222 1554,222 1554.3,209 1554.7,209 1555.1,222 1555.5,222 1555.9,209 1556.2,209 1556.6,222 1557,222 1557.4,209 1557,222 1557.4,235 1557.8,235 1558.1,222 1558.5,222 1558.9,235 1559.2,235 1559.6,222 1560,222 1560.4,235 1560.8,235 1561.1,222 1561.5,222 1561.9,235 1562.2,235 1562.6,222 1563,222 1563.4,235 1563,235 1563.4,235 1563.7,235 1564.1,235 1564.5,235 1564.9,235 1565.2,235 1565.6,235 1566,235 1566.3,235 1566.7,235 1567.1,235 1567.4,235 1567.8,235 1568.2,235 1568.5,235 1568.9,235 1569.3,235 1569.7,235 1570,235 1570.4,235 1570.8,235 1571.1,235 1571.5,235 1571.9,235 1572.2,235 1572.6,235 1573,235 1573.3,235 1573.7,235 1574.1,235 1574.5,235 1574.8,235 1575.2,235 1575.6,235 1575.9,235 1576.3,235 1576.7,235 1577,235 1577.4,235 1577.8,235 1578.2,235 1578.5,235 1578.9,235 1579.3,235 1579.6,235 1580,235 1580.4,235 1582,225 1584,200 1586.5,170 1589,130 1591.5,78.5 1591.5,78.5 1591.9,78.5 1592.3,78.5 1592.6,78.5 1593,78.5 1593.4,78.5 1593.8,78.5 1594.1,78.5 1594.5,78.5 1594.9,78.5 1595.3,78.5 1595.6,78.5 1596,78.5 1596.4,78.5 1596.8,78.5 1597.1,78.5 1597.5,78.5 1597.9,78.5 1598.3,78.5 1598.6,78.5 1599,78.5 1599.4,78.5 1599.8,78.5 1600.1,78.5 1600.5,78.5 1600.9,78.5 1601.3,78.5 1601.6,78.5 1602,78.5 1602.4,78.5 1602.8,78.5 1603.1,78.5 1603.5,78.5 1603.9,78.5 1604.3,78.5 1604.6,78.5 1605,78.5 1605.4,78.5 1605.8,78.5 1606.1,78.5 1606.5,78.5 1606.9,78.5 1607.3,78.5 1607.6,78.5 1608,78.5 1608.4,78.5 1608.8,78.5 1609.1,78.5 1609.5,78.5 1609.9,78.5 1610.3,78.5 1610.6,78.5 1611,78.5 1611.4,78.5 1611.8,78.5 1612.1,78.5 1612.5,78.5 1612.9,78.5 1613.3,78.5 1613.6,78.5 1614,78.5 1614.4,78.5 1614.8,78.5 1615.1,78.5 1615.5,78.5 1615.9,78.5 1616.3,78.5 1616.6,78.5 1617,78.5 1617.4,78.5 1617.8,78.5 1618.1,78.5 1618.5,78.5 1618.9,78.5 1619.3,78.5 1619.6,78.5 1620,78.5 1620.4,78.5 1620.8,78.5 1621.1,78.5 1621.5,78.5 1621.9,78.5 1622.3,78.5 1622.6,78.5 1623,78.5 1623.4,78.5 1623.8,78.5 1624.1,78.5 1624.5,78.5 1624.9,78.5 1625.3,78.5 1625.6,78.5 1626,78.5 1626.4,78.5 1626.8,78.5 1627.1,78.5 1627.5,78.5 1627.9,78.5 1628.3,78.5 1628.6,78.5 1629,78.5 1629.4,78.5 1629.8,78.5 1630.1,78.5 1630.5,78.5 1630.9,78.5 1631.3,78.5 1631.6,78.5 1632,78.5 1632.4,78.5 1632.8,78.5 1633.1,78.5 1633.5,78.5 1633.9,78.5 1634.3,78.5 1634.6,78.5 1635,78.5 1635.4,78.5 1635.8,78.5 1636.1,78.5 1636.5,78.5 1636.9,78.5 1637.3,78.5 1637.6,78.5 1638,78.5 1638.4,78.5 1638.8,78.5 1639.2,78.5 1639.5,78.5 1639.9,78.5 1640.3,78.5 1640.7,78.5 1641,78.5 1641.4,78.5 1641.8,78.5 1642.2,78.5 1642.5,78.5 1642.9,78.5 1643.3,78.5 1643.7,78.5 1644,78.5 1644.4,78.5 1644.8,78.5 1645.2,78.5 1645.5,78.5 1645.9,78.5 1646.3,78.5 1646.7,78.5 1647,78.5 1647.4,78.5 1647.8,78.5 1648.2,78.5 1648.5,78.5 1648.9,78.5 1649.3,78.5 1649.7,78.5 1650,78.5 1650.4,78.5 1650.8,78.5 1651.2,78.5 1651.5,78.5 1651.9,78.5 1652.3,78.5 1652.7,78.5 1653,78.5 1653.4,78.5 1653.8,78.5 1654.2,78.5 1654.5,78.5 1654.9,78.5 1655.3,78.5 1655.7,78.5 1656,78.5 1656.4,78.5 1656.8,78.5 1657.2,78.5 1657.5,78.5 1657.9,78.5 1658.3,78.5 1658.7,78.5 1659,78.5 1659.4,78.5 1659.8,78.5 1660.2,78.5 1660.5,78.5 1660.9,78.5 1661.3,78.5 1661.7,78.5 1662,78.5 1662.4,78.5 1662.8,78.5 1663.2,78.5 1663.5,78.5 1663.9,78.5 1664.3,78.5 1664.7,78.5 1665,78.5 1665.4,78.5 1665.8,78.5 1666.2,78.5 1666.5,78.5 1666.9,78.5 1667.3,78.5 1667.7,78.5 1668,78.5 1668.4,78.5 1668.8,78.5 1669.2,78.5 1669.5,78.5 1669.9,78.5 1670.3,78.5 1670.7,78.5 1671,78.5 1671.4,78.5 1671.8,78.5 1672.2,78.5 1672.5,78.5 1672.9,78.5 1673.3,78.5 1673.7,78.5 1674,78.5 1674.4,78.5 1674.8,78.5 1675.2,78.5 1675.5,78.5 1675.9,78.5 1676.3,78.5 1676.7,78.5 1677,78.5 1677.4,78.5 1677.8,78.5 1678.2,78.5 1678.5,78.5 1678.9,78.5 1679.3,78.5 1679.7,78.5 1680,78.5 1680.4,78.5 1680.8,78.5 1681.2,78.5 1681.5,78.5 1681.9,78.5 1682.3,78.5 1682.7,78.5 1683,78.5 1683.4,78.5 1683.8,78.5 1684.2,78.5 1684.6,78.5 1684.9,78.5 1685.3,78.5 1685.7,78.5 1686.1,78.5 1686.4,78.5 1686.8,78.5 1687.2,78.5 1687.6,78.5 1687.9,78.5 1688.3,78.5 1688.7,78.5 1689.1,78.5 1689.4,78.5 1689.8,78.5 1690.2,78.5 1690.6,78.5 1690.9,78.5 1691.3,78.5 1691.7,78.5 1692.1,78.5 1692.4,78.5 1692.8,78.5 1693.2,78.5 1693.6,78.5 1693.9,78.5 1694.3,78.5 1694.7,78.5 1695.1,78.5 1695.4,78.5 1695.8,78.5 1696.2,78.5 1696.6,78.5 1696.9,78.5 1697.3,78.5 1697.7,78.5 1698.1,78.5 1698.4,78.5 1698.8,78.5 1699.2,78.5 1699.6,78.5 1699.9,78.5 1700.3,78.5 1700.7,78.5 1701.1,78.5 1701.4,78.5 1701.8,78.5 1702.2,78.5 1702.6,78.5 1702.9,78.5 1703.3,78.5 1703.7,78.5 1704.1,78.5 1704.4,78.5 1704.8,78.5 1705.2,78.5 1705.6,78.5 1705.9,78.5 1706.3,78.5 1706.7,78.5 1707.1,78.5 1707.4,78.5 1707.8,78.5 1708.2,78.5 1708.6,78.5 1708.9,78.5 1709.3,78.5 1709.7,78.5 1710.1,78.5 1710.4,78.5 1710.8,78.5 1711.2,78.5 1711.6,78.5 1711.9,78.5 1712.3,78.5 1712.7,78.5 1713.1,78.5 1713.4,78.5 1713.8,78.5 1714.2,78.5 1714.6,78.5 1714.9,78.5 1715.3,78.5 1715.7,78.5 1716.1,78.5 1716.4,78.5 1716.8,78.5 1717.2,78.5 1717.6,78.5 1717.9,78.5 1718.3,78.5 1718.7,78.5 1719.1,78.5 1719.4,78.5 1719.8,78.5 1720.2,78.5 1720.6,78.5 1720.9,78.5 1721.3,78.5 1721.7,78.5 1722.1,78.5 1722.4,78.5 1722.8,78.5 1723.2,78.5 1723.6,78.5 1723.9,78.5 1724.3,78.5 1724.7,78.5 1725.1,78.5 1725.4,78.5 1725.8,78.5 1726.2,78.5 1726.6,78.5 1726.9,78.5 1727.3,78.5 1727.7,78.5 1728.1,78.5 1728.4,78.5 1728.8,78.5 1729.2,78.5 1729.6,78.5 1730,78.5 1730.3,78.5 1730.7,78.5 1731.1,78.5 1731.5,78.5 1731.8,78.5 1732.2,78.5 1732.6,78.5 1733,78.5 1733.3,78.5 1733.7,78.5 1734.1,78.5 1734.5,78.5 1734.8,78.5 1735.2,78.5 1735.6,78.5 1736,78.5 1736.3,78.5 1736.7,78.5 1737.1,78.5 1737.5,78.5 1737.8,78.5 1738.2,78.5 1738.6,78.5 1739,78.5 1739.3,78.5 1739.7,78.5 1740.1,78.5 1740.5,78.5 1740.8,78.5 1741.2,78.5 1741.6,78.5 1742,78.5 1742.3,78.5 1742.7,78.5 1743.1,78.5 1743.5,78.5 1743.8,78.5 1744.2,78.5 1744.6,78.5 1745,78.5 1745.3,78.5 1745.7,78.5 1746.1,78.5 1746.5,78.5 1746.8,78.5 1747.2,78.5 1747.6,78.5 1748,78.5 1748.3,78.5 1748.7,78.5 1749.1,78.5 1749.5,78.5 1749.8,78.5 1750.2,78.5 1750.6,78.5 1751,78.5 1751.3,78.5 1751.7,78.5 1752.1,78.5 1752.5,78.5 1752.8,78.5 1753.2,78.5 1753.6,78.5 1754,78.5 1754.3,78.5 1754.7,78.5 1755.1,78.5 1755.5,78.5 1755.8,78.5 1756.2,78.5 1756.6,78.5 1757,78.5 1757.3,78.5 1757.7,78.5 1758.1,78.5 1758.5,78.5 1758.8,78.5 1759.2,78.5 1759.6,78.5 1760,78.5 1760.3,78.5 1760.7,78.5 1761.1,78.5 1761.5,78.5 1761.8,78.5 1762.2,78.5 1762.6,78.5 1763,78.5 1763.3,78.5 1763.7,78.5 1764.1,78.5 1764.5,78.5 1764.8,78.5 1765.2,78.5 1765.6,78.5 1766,78.5 1766.3,78.5 1766.7,78.5 1767.1,78.5 1767.5,78.5 1767.8,78.5 1768.2,78.5 1768.6,78.5 1769,78.5 1769.3,78.5 1769.7,78.5 1770.1,78.5 1770.5,78.5 1770.8,78.5 1771.2,78.5 1771.6,78.5 1772,78.5 1772.3,78.5 1772.7,78.5 1773.1,78.5 1773.5,78.5 1773.8,78.5 1774.2,78.5 1774.6,78.5 1775,78.5 1775.4,78.5 1775.7,78.5 1776.1,78.5 1776.5,78.5 1776.9,78.5 1777.2,78.5 1777.6,78.5 1778,78.5 1778.4,78.5 1778.7,78.5 1779.1,78.5 1779.5,78.5 1779.9,78.5 1780.2,78.5 1780.6,78.5 1781,78.5 1781.4,78.5 1781.7,78.5 1782.1,78.5 1782.5,78.5 1782.9,78.5 1783.2,78.5 1783.6,78.5 1784,78.5 1784.4,78.5 1784.7,78.5 1785.1,78.5 1785.5,78.5 1785.9,78.5 1786.2,78.5 1786.6,78.5 1787,78.5 1787.4,78.5 1787.7,78.5 1788.1,78.5 1788.5,78.5 1788.9,78.5 1789.2,78.5 1789.6,78.5 1790,78.5 1790.4,78.5 1790.7,78.5 1791.1,78.5 1791.5,78.5 1791.9,78.5 1792.2,78.5 1792.6,78.5 1793,78.5 1793.4,78.5 1793.7,78.5 1794.1,78.5 1794.5,78.5 1794.9,78.5 1795.2,78.5 1795.6,78.5 1796,78.5 1796.4,78.5 1796.7,78.5 1797.1,78.5 1797.5,78.5 1797.9,78.5 1798.2,78.5 1798.6,78.5 1799,78.5 1799.4,78.5 1799.7,78.5 1800.1,78.5 1800.5,78.5 1800.9,78.5 1801.2,78.5 1801.6,78.5 1802,78.5 1802.4,78.5 1802.7,78.5 1803.1,78.5 1803.5,78.5 1803.9,78.5 1804.2,78.5 1804.6,78.5 1805,78.5 1805.4,78.5 1805.7,78.5 1806.1,78.5 1806.5,78.5 1806.9,78.5 1807.2,78.5 1807.6,78.5 1808,78.5 1808.4,78.5 1808.7,78.5 1809.1,78.5 1809.5,78.5 1809.9,78.5 1810.2,78.5 1810.6,78.5 1811,78.5 1811.4,78.5 1811.7,78.5 1812.1,78.5 1812.5,78.5 1812.9,78.5 1813.2,78.5 1813.6,78.5 1814,78.5 1814.4,78.5 1814.7,78.5 1815.1,78.5 1815.5,78.5 1815.9,78.5 1816.2,78.5 1816.6,78.5 1817,78.5 1817.4,78.5 1817.7,78.5 1818.1,78.5 1818.5,78.5 1818.9,78.5 1819.2,78.5 1819.6,78.5 1820,78.5 1820.4,78.5 1820.7,78.5 1821.1,78.5 1821.5,78.5 1821.9,78.5 1822.3,78.5 1822.6,78.5 1823,78.5 1823.4,78.5 1823.8,78.5 1824.1,78.5 1824.5,78.5 1824.9,78.5 1825.3,78.5 1825.6,78.5 1826,78.5 1826.4,78.5 1826.8,78.5 1827.1,78.5 1827.5,78.5 1827.9,78.5 1828.3,78.5 1828.6,78.5 1829,78.5 1829.4,78.5 1829.8,78.5 1830.1,78.5 1830.5,78.5 1830.9,78.5 1831.3,78.5 1831.6,78.5 1832,78.5 1832.4,78.5 1832.8,78.5 1833.1,78.5 1833.5,78.5 1833.9,78.5 1834.3,78.5 1834.6,78.5 1835,78.5 1835.4,78.5 1835.8,78.5 1836.1,78.5 1836.5,78.5 1836.9,78.5 1837.3,78.5 1837.6,78.5 1838,78.5 1838.4,78.5 1838.8,78.5 1839.1,78.5 1839.5,78.5 1839.9,78.5 1840.3,78.5 1840.6,78.5 1841,78.5 1841.4,78.5 1841.8,78.5 1842.1,78.5 1842.5,78.5 1842.9,78.5 1843.3,78.5 1843.6,78.5 1844,78.5 1844.4,78.5 1844.8,78.5 1845.1,78.5 1845.5,78.5 1845.9,78.5 1846.3,78.5 1846.6,78.5 1847,78.5 1847.4,78.5 1847.8,78.5 1848.1,78.5 1848.5,78.5 1848.9,78.5 1849.3,78.5 1849.6,78.5 1850,78.5 1850.4,78.5 1850.8,78.5 1851.1,78.5 1851.5,78.5 1851.9,78.5 1852.3,78.5 1852.6,78.5 1853,78.5 1853.4,78.5 1853.8,78.5 1854.1,78.5 1854.5,78.5 1854.9,78.5 1855.3,78.5 1855.6,78.5 1856,78.5 1856.4,78.5 1856.8,78.5 1857.1,78.5 1857.5,78.5 1857.9,78.5 1858.3,78.5 1858.6,78.5 1859,78.5 1859.4,78.5 1859.8,78.5 1860.1,78.5 1860.5,78.5 1860.9,78.5 1861.3,78.5 1861.6,78.5 1862,78.5 1862.4,78.5 1862.8,78.5 1863.1,78.5 1863.5,78.5 1863.9,78.5 1864.3,78.5 1864.6,78.5 1865,78.5 1865.4,78.5 1865.8,78.5 1866.1,78.5 1866.5,78.5 1866.9,78.5 1867.3,78.5 1867.7,78.5 1868,78.5 1868.4,78.5 1868.8,78.5 1869.2,78.5 1869.5,78.5 1869.9,78.5 1870.3,78.5 1870.7,78.5 1871,78.5 1871.4,78.5 1871.8,78.5 1872.2,78.5 1872.5,78.5 1872.9,78.5 1873.3,78.5 1873.7,78.5 1874,78.5 1874.4,78.5 1874.8,78.5 1875.2,78.5 1875.5,78.5 1875.9,78.5 1876.3,78.5 1876.7,78.5 1877,78.5 1877.4,78.5 1877.8,78.5 1878.2,78.5 1878.5,78.5 1878.9,78.5 1879.3,78.5 1879.7,78.5 1880,78.5 1880.4,78.5 1880.8,78.5 1881.2,78.5 1881.5,78.5 1881.9,78.5 1882.3,78.5 1882.7,78.5 1883,78.5 1883.4,78.5 1883.8,78.5 1884.2,78.5 1884.5,78.5 1884.9,78.5 1885.3,78.5 1885.7,78.5 1886,78.5 1886.4,78.5 1886.8,78.5 1887.2,78.5 1887.5,78.5 1887.9,78.5 1888.3,78.5 1888.7,78.5 1889,78.5 1889.4,78.5 1889.8,78.5 1890.2,78.5 1890.5,78.5 1890.9,78.5 1891.3,78.5 1891.7,78.5 1892,78.5 1892.4,78.5 1892.8,78.5 1893.2,78.5 1893.5,78.5 1893.9,78.5 1894.3,78.5 1894.7,78.5 1895,78.5 1895.4,78.5 1895.8,78.5 1896.2,78.5 1896.5,78.5 1896.9,78.5 1897.3,78.5 1897.7,78.5 1898,78.5 1898.4,78.5 1898.8,78.5 1899.2,78.5 1899.5,78.5 1899.9,78.5 1900.3,78.5 1900.7,78.5 1901,78.5 1901.4,78.5 1901.8,78.5 1902.2,78.5 1902.5,78.5 1902.9,78.5 1903.3,78.5 1903.7,78.5 1904,78.5 1904.4,78.5 1904.8,78.5 1905.2,78.5 1905.5,78.5 1905.9,78.5 1906.3,78.5 1906.7,78.5 1907,78.5 1907.4,78.5 1907.8,78.5 1908.2,78.5 1908.5,78.5 1908.9,78.5 1909.3,78.5 1909.7,78.5 1910,78.5 1910.4,78.5 1910.8,78.5 1911.2,78.5 1911.5,78.5 1911.9,78.5 1912.3,78.5 1912.7,78.5 1913.1,78.5 1913.4,78.5 1913.8,78.5 1914.2,78.5 1914.6,78.5 1914.9,78.5 1915.3,78.5 1915.7,78.5 1916.1,78.5 1916.4,78.5 1916.8,78.5 1917.2,78.5 1917.6,78.5 1917.9,78.5 1918.3,78.5 1918.7,78.5 1919.1,78.5 1919.4,78.5 1919.8,78.5 1920.2,78.5 1920.6,78.5 1920.9,78.5 1921.3,78.5 1921.7,78.5 1922.1,78.5 1922.4,78.5 1922.8,78.5 1923.2,78.5 1923.6,78.5 1923.9,78.5 1924.3,78.5 1924.7,78.5 1925.1,78.5 1925.4,78.5 1925.8,78.5 1926.2,78.5 1926.6,78.5 1926.9,78.5 1927.3,78.5 1927.7,78.5 1928.1,78.5 1928.4,78.5 1928.8,78.5 1929.2,78.5 1929.6,78.5 1929.9,78.5 1930.3,78.5 1930.7,78.5 1931.1,78.5 1931.4,78.5 1931.8,78.5 1932.2,78.5 1932.6,78.5 1932.9,78.5 1933.3,78.5 1933.7,78.5 1934.1,78.5 1934.4,78.5 1934.8,78.5 1935.2,78.5 1935.6,78.5 1935.9,78.5 1936.3,78.5 1936.7,78.5 1937.1,78.5 1937.4,78.5 1937.8,78.5 1938.2,78.5 1938.6,78.5 1938.9,78.5 1939.3,78.5 1939.7,78.5 1940.1,78.5 1940.4,78.5 1940.8,78.5 1941.2,78.5 1941.6,78.5 1941.9,78.5 1942.3,78.5 1942.7,78.5 1943.1,78.5 1943.4,78.5 1943.8,78.5 1944.2,78.5 1944.6,78.5 1944.9,78.5 1945.3,78.5 1945.7,78.5 1946.1,78.5 1946.4,78.5 1946.8,78.5 1947.2,78.5 1947.6,78.5 1947.9,78.5 1948.3,78.5 1948.7,78.5 1949.1,78.5 1949.4,78.5 1949.8,78.5 1950.2,78.5 1950.6,78.5 1950.9,78.5 1951.3,78.5 1951.7,78.5 1952.1,78.5 1952.4,78.5 1952.8,78.5 1953.2,78.5 1953.6,78.5 1953.9,78.5 1954.3,78.5 1954.7,78.5 1955.1,78.5 1955.4,78.5 1955.8,78.5 1956.2,78.5 1956.6,78.5 1956.9,78.5 1957.3,78.5 1957.7,78.5 1958.1,78.5 1958.5,78.5 1958.8,78.5 1959.2,78.5 1959.6,78.5 1960,78.5 1960.3,78.5 1960.7,78.5 1961.1,78.5 1961.5,78.5 1961.8,78.5 1962.2,78.5 1962.6,78.5 1963,78.5 1963.3,78.5 1963.7,78.5 1964.1,78.5 1964.5,78.5 1964.8,78.5 1965.2,78.5 1965.6,78.5 1966,78.5 1966.3,78.5 1966.7,78.5 1967.1,78.5 1967.5,78.5 1967.8,78.5 1968.2,78.5 1968.6,78.5 1969,78.5 1969.3,78.5 1969.7,78.5 1970.1,78.5 1970.5,78.5 1970.8,78.5 1971.2,78.5 1971.6,78.5 1972,78.5 1972.3,78.5 1972.7,78.5 1973.1,78.5 1973.5,78.5 1973.8,78.5 1974.2,78.5 1974.6,78.5 1975,78.5 1975.3,78.5 1975.7,78.5 1976.1,78.5 1976.5,78.5 1976.8,78.5 1977.2,78.5 1977.6,78.5 1978,78.5 1978.3,78.5 1978.7,78.5 1979.1,78.5 1979.5,78.5 1979.8,78.5 1980.2,78.5 1980.6,78.5 1981,78.5 1981.3,78.5 1981.7,78.5 1982.1,78.5 1982.5,78.5 1982.8,78.5 1983.2,78.5 1983.6,78.5 1984,78.5 1984.3,78.5 1984.7,78.5 1985.1,78.5 1985.5,78.5 1985.8,78.5 1986.2,78.5 1986.6,78.5 1987,78.5 1987.3,78.5 1987.7,78.5 1988.1,78.5 1988.5,78.5 1988.8,78.5 1989.2,78.5 1989.6,78.5 1990,78.5 1990.3,78.5 1990.7,78.5 1991.1,78.5 1991.5,78.5 1991.8,78.5 1992.2,78.5 1992.6,78.5 1993,78.5 1993.3,78.5 1993.7,78.5 1994.1,78.5 1994.5,78.5 1994.8,78.5 1995.2,78.5 1995.6,78.5 1996,78.5 1996.3,78.5 1996.7,78.5 1997.1,78.5 1997.5,78.5 1997.8,78.5 1998.2,78.5 1998.6,78.5 1999,78.5 1999.3,78.5 1999.7,78.5 2000.1,78.5 2000.5,78.5 2000.8,78.5 2001.2,78.5 2001.6,78.5 2002,78.5 2002.3,78.5 2002.7,78.5 2003.1,78.5 2003.5,78.5 2003.8,78.5 2004.2,78.5 2004.6,78.5 2005,78.5 2005.4,78.5 2005.7,78.5 2006.1,78.5 2006.5,78.5 2006.9,78.5 2007.2,78.5 2007.6,78.5 2008,78.5 2008.4,78.5 2008.7,78.5 2009.1,78.5 2009.5,78.5 2009.9,78.5 2010.2,78.5 2010.6,78.5 2011,78.5 2011.4,78.5 2011.7,78.5 2012.1,78.5 2012.5,78.5 2012.9,78.5 2013.2,78.5 2013.6,78.5 2014,78.5 2014.4,78.5 2014.7,78.5 2015.1,78.5 2015.5,78.5 2015.9,78.5 2016.2,78.5 2016.6,78.5 2017,78.5 2017.4,78.5 2017.7,78.5 2018.1,78.5 2018.5,78.5 2018.9,78.5 2019.2,78.5 2019.6,78.5 2020,78.5 2020.4,78.5 2020.7,78.5 2021.1,78.5 2021.5,78.5 2021.9,78.5 2022.2,78.5 2022.6,78.5 2023,78.5 2023.4,78.5 2023.7,78.5 2024.1,78.5 2024.5,78.5 2024.9,78.5 2025.2,78.5 2025.6,78.5 2026,78.5 2026.4,78.5 2026.7,78.5 2027.1,78.5 2027.5,78.5 2027.9,78.5 2028.2,78.5 2028.6,78.5 2029,78.5 2029.4,78.5 2029.7,78.5 2030.1,78.5 2030.5,78.5 2030.9,78.5 2031.2,78.5 2031.6,78.5 2032,78.5 2032.4,78.5 2032.7,78.5 2033.1,78.5 2033.5,78.5 2033.9,78.5 2034.2,78.5 2034.6,78.5 2035,78.5 2035.4,78.5 2035.7,78.5 2036.1,78.5 2036.5,78.5 2036.9,78.5 2037.2,78.5 2037.6,78.5 2038,78.5 2038.4,78.5 2038.7,78.5 2039.1,78.5 2039.5,78.5 2039.9,78.5 2040.2,78.5 2040.6,78.5 2041,78.5 2041.4,78.5 2041.7,78.5 2042.1,78.5 2042.5,78.5 2042.9,78.5 2043.2,78.5 2043.6,78.5 2044,78.5 2044.4,78.5 2044.7,78.5 2045.1,78.5 2045.5,78.5 2045.9,78.5 2046.2,78.5 2046.6,78.5 2047,78.5 2047.4,78.5 2047.7,78.5 2048.1,78.5 2048.5,78.5 2048.9,78.5 2049.2,78.5 2049.6,78.5 2050,78.5 2050.4,78.5 2051.5,120 2053,180 2055,240 2057,275 2057,276 2057.4,276 2057.8,276 2058.1,276 2058.5,276 2058.9,276 2059.2,276 2059.6,276 2060,276 2060.4,276 2060,276 2060.4,289 2060.8,289 2061.1,276 2061.5,276 2061.9,289 2062.2,289 2062.6,276 2063,276 2063.4,289 2063.8,289 2064.1,276 2064.5,276 2064.9,289 2065.2,289 2065.6,276 2066,276 2066.4,289 2066.8,289 2067.1,276 2067.5,276 2067.9,289 2068.2,289 2068.6,276 2069,276 2069.4,289 2069.8,289 2070.1,276 2070.5,276 2070.9,289 2071.2,289 2071.6,276 2072,276 2072.4,289 2072.8,289 2073.1,276 2073.5,276 2073.9,289 2074.2,289 2074.6,276 2075,276 2075.4,289 2075,262 2075.4,276 2075.7,276 2076.1,262 2076.5,262 2076.8,276 2077.2,276 2077.6,262 2077.9,262 2078.3,276 2078.6,276 2079,262 2079.4,262 2079.7,276 2080.1,276 2080.5,262 2080.8,262 2081.2,276 2081.5,276 2081.9,262 2082.3,262 2082.6,276 2083,276 2083.4,262 2083,248 2083.4,262 2083.8,262 2084.1,248 2084.5,248 2084.9,262 2085.3,262 2085.7,248 2086.1,248 2086.4,262 2086.8,262 2087.2,248 2087.6,248 2088,262 2088.4,262 2088.7,248 2089.1,248 2089.5,248 2089.9,248 2090.3,248 2090.6,248 2091,248 2091.4,248 2091.8,248 2092.2,248 2092.6,262 2092.9,262 2093.3,248 2093.7,248 2094.1,262 2094.5,262 2094.8,248 2095.2,248 2095.6,262 2096,262 2096.4,248 2096,249 2096.4,249 2096.7,249 2097.1,249 2097.5,249 2097.9,249 2098.2,249 2098.6,249 2099,249 2099.4,249 2099.7,249 2100.1,249 2100.5,235 2100.9,249 2101.2,249 2101.6,235 2102,235 2102.4,249 2102.7,249 2103.1,235 2103.5,235 2103.9,249 2104.2,249 2104.6,235 2105,235 2105.3,249 2105.7,249 2106.1,235 2106.5,235 2106.8,249 2107.2,249 2107.6,235 2108,235 2108.3,249 2108.7,249 2109.1,235 2109.5,235 2109.8,249 2110.2,249 2110.6,235 2111,235 2111.3,249 2111.7,249 2112.1,235 2112.5,235 2112.8,249 2113.2,249 2113.6,249 2113.9,249 2114.3,249 2114.7,249 2115.1,249 2115.4,249 2115.8,249 2116.2,262 2116.6,249 2116.9,249 2117.3,262 2117.7,262 2118.1,249 2118.4,249 2118.8,262 2119.2,262 2119.6,249 2119.9,249 2120.3,262 2120.7,262 2121.1,249 2121.4,249 2121.8,262 2122.2,262 2122.5,249 2122.9,249 2123.3,262 2123.7,262 2124,249 2124.4,249 2124.8,262 2125.2,262 2125.5,249 2125.9,249 2126.3,262 2126.7,262 2127,249 2127.4,249 2127.8,262 2128.2,262 2128.5,249 2128.9,249 2129.3,262 2129.6,262 2130,249 2130.4,249 2130.8,262 2131.1,262 2131.5,249 2131.9,249 2132.3,262 2132.6,262 2133,249 2133.4,249 2133.8,262 2134.1,262 2134.5,249 2134.9,249 2135.3,262 2135.6,262 2136,249 2136.4,249 2136.8,262 2137.1,262 2137.5,249 2137.9,249 2138.2,262 2138.6,262 2139,249 2139.4,249 2139.7,262 2140.1,262 2140.5,249 2140.9,249 2141.2,262 2141.6,262 2142,249 2142.4,249 2142.7,249 2143.1,249 2143.5,249 2143.9,249 2144.2,249 2144.6,249 2145,249 2145.4,249 2145.7,249 2146.1,249 2146.5,249 2146.8,249 2147.2,249 2147.6,249 2148,249 2148.3,249 2148.7,249 2149.1,249 2149.5,249 2149.8,249 2150.2,249 2150.6,249 2151,249 2151.3,249 2151.7,249 2152.1,249 2152.5,249 2152.8,249 2153.2,249 2153.6,262 2154,249 2154.3,249 2154.7,262 2155.1,262 2155.4,249 2155.8,249 2156.2,262 2156.6,262 2156.9,249 2157.3,249 2157.7,262 2158.1,262 2158.4,249 2158.8,249 2159.2,262 2159.6,262 2159.9,249 2160.3,249 2160.7,262 2161.1,249 2161.4,249 2161.8,249 2162.2,249 2162.5,249 2162.9,249 2163.3,249 2163.7,249 2164,249 2164.4,249 2164.8,249 2165.2,249 2165.5,249 2165.9,249 2166.3,249 2166.7,249 2167,249 2167.4,249 2167.8,249 2168.2,249 2168.5,249 2168.9,249 2169.3,235 2169.7,249 2170,249 2170.4,235 2170.8,235 2171.1,249 2171.5,249 2171.9,235 2172.3,235 2172.6,249 2173,249 2173.4,235 2173.8,235 2174.1,249 2174.5,249 2174.9,235 2175.3,235 2175.6,249 2176,249 2176.4,235 2176.8,235 2177.1,249 2177.5,249 2177.9,235 2178.3,235 2178.6,249 2179,249 2179.4,235" fill="none" stroke="#4472c4" stroke-width="5" stroke-linejoin="round" stroke-linecap="round"/>
<polygon points="900.5,481 937.5,517 918.5,517 918.5,878 937.5,878 900.5,913 863.5,878 882.5,878 882.5,517 863.5,517" fill="#4472c4" stroke="#2f528f" stroke-width="4.5" stroke-linejoin="miter"/>
<polygon points="1820.3,460 1861.3,499 1840.9,499 1840.9,925 1861.3,925 1820.3,964 1779.3,925 1799.7,925 1799.7,499 1779.3,499" fill="#4472c4" stroke="#2f528f" stroke-width="4.5" stroke-linejoin="miter"/>
<line x1="1160" y1="493" x2="935" y2="683" stroke="#4472c4" stroke-width="2.5"/>
<polygon points="920,696 933.4,664.7 954.4,688.7" fill="#4472c4"/>
<line x1="1512" y1="495" x2="1785" y2="700" stroke="#4472c4" stroke-width="2.5"/>
<polygon points="1800.75,711 1767.7,705.3 1785.7,679.7" fill="#4472c4"/>
<text x="1224.5" y="501" font-family="Liberation Serif, Times New Roman, serif" font-size="60" fill="#000" textLength="293" lengthAdjust="spacingAndGlyphs">Slipped belt</text>
<line x1="727" y1="1258.3" x2="836" y2="1258.3" stroke="#ff0000" stroke-width="6" stroke-linecap="round"/>
<text x="845" y="1275.6" font-family="Liberation Serif, Times New Roman, serif" font-size="56" fill="#595959">Measured</text>
<line x1="1129" y1="1258.3" x2="1237" y2="1258.3" stroke="#ffc000" stroke-width="6" stroke-linecap="round"/>
<text x="1244" y="1275.6" font-family="Liberation Serif, Times New Roman, serif" font-size="56" fill="#595959">Predicted</text>
<line x1="1521" y1="1258.3" x2="1627" y2="1258.3" stroke="#4472c4" stroke-width="6" stroke-linecap="round"/>
<text x="1638" y="1275.6" font-family="Liberation Serif, Times New Roman, serif" font-size="56" fill="#595959">Fan speed</text>
<text x="369.1" y="1731" font-family="Liberation Serif, serif" font-size="86" fill="#000" stroke="#fff" stroke-width="1.2" textLength="96.4" lengthAdjust="spacingAndGlyphs">(<tspan font-weight="bold">a</tspan>)</text>
<text x="485.1" y="1731" font-family="Liberation Serif, serif" font-size="86" fill="#000" stroke="#fff" stroke-width="1.2" textLength="139.8" lengthAdjust="spacingAndGlyphs">Fan</text>
<text x="642.9" y="1731" font-family="Liberation Serif, serif" font-size="86" fill="#000" stroke="#fff" stroke-width="1.2" textLength="182" lengthAdjust="spacingAndGlyphs">head</text>
<text x="843.5" y="1731" font-family="Liberation Serif, serif" font-size="86" fill="#000" stroke="#fff" stroke-width="1.2" textLength="438.2" lengthAdjust="spacingAndGlyphs">comparison</text>
<text x="1298.5" y="1731" font-family="Liberation Serif, serif" font-size="86" fill="#000" stroke="#fff" stroke-width="1.2" textLength="211.2" lengthAdjust="spacingAndGlyphs">along</text>
<text x="1527.1" y="1731" font-family="Liberation Serif, serif" font-size="86" fill="#000" stroke="#fff" stroke-width="1.2" textLength="172.4" lengthAdjust="spacingAndGlyphs">with</text>
<text x="1716.7" y="1731" font-family="Liberation Serif, serif" font-size="86" fill="#000" stroke="#fff" stroke-width="1.2" textLength="121.4" lengthAdjust="spacingAndGlyphs">fan</text>
<text x="1854.9" y="1731" font-family="Liberation Serif, serif" font-size="86" fill="#000" stroke="#fff" stroke-width="1.2" textLength="217.6" lengthAdjust="spacingAndGlyphs">speed</text>
<rect x="21.5" y="1781.5" width="2397.5" height="1592.5" fill="none" stroke="#868686" stroke-width="3"/>
<line x1="325.5" y1="1839.5" x2="2261.6" y2="1839.5" stroke="#d9d9d9" stroke-width="5"/>
<line x1="325.5" y1="2005.4" x2="2261.6" y2="2005.4" stroke="#d9d9d9" stroke-width="5"/>
<line x1="325.5" y1="2171.4" x2="2261.6" y2="2171.4" stroke="#d9d9d9" stroke-width="5"/>
<line x1="325.5" y1="2337.3" x2="2261.6" y2="2337.3" stroke="#d9d9d9" stroke-width="5"/>
<line x1="325.5" y1="2503.2" x2="2261.6" y2="2503.2" stroke="#d9d9d9" stroke-width="5"/>
<line x1="325.5" y1="2669.2" x2="2261.6" y2="2669.2" stroke="#d9d9d9" stroke-width="5"/>
<line x1="325.5" y1="2835.1" x2="2261.6" y2="2835.1" stroke="#d9d9d9" stroke-width="5"/>
<line x1="325.5" y1="3001.1" x2="2261.6" y2="3001.1" stroke="#d9d9d9" stroke-width="5"/>
<line x1="569.1" y1="1837" x2="569.1" y2="3167" stroke="#d9d9d9" stroke-width="5"/>
<line x1="810" y1="1837" x2="810" y2="3167" stroke="#d9d9d9" stroke-width="5"/>
<line x1="1050.6" y1="1837" x2="1050.6" y2="3167" stroke="#d9d9d9" stroke-width="5"/>
<line x1="1294.2" y1="1837" x2="1294.2" y2="3167" stroke="#d9d9d9" stroke-width="5"/>
<line x1="1535" y1="1837" x2="1535" y2="3167" stroke="#d9d9d9" stroke-width="5"/>
<line x1="1778.5" y1="1837" x2="1778.5" y2="3167" stroke="#d9d9d9" stroke-width="5"/>
<line x1="2019.2" y1="1837" x2="2019.2" y2="3167" stroke="#d9d9d9" stroke-width="5"/>
<line x1="2260" y1="1837" x2="2260" y2="3167" stroke="#d9d9d9" stroke-width="5"/>
<line x1="325.5" y1="1837" x2="325.5" y2="3169.5" stroke="#bfbfbf" stroke-width="5"/>
<line x1="323" y1="3167" x2="2261.6" y2="3167" stroke="#bfbfbf" stroke-width="5"/>
<text x="272.5" y="1858.5" font-family="Liberation Serif, Times New Roman, serif" font-size="61.5" text-anchor="end" fill="#000">1.6</text>
<text x="272.5" y="2024.4" font-family="Liberation Serif, Times New Roman, serif" font-size="61.5" text-anchor="end" fill="#000">1.4</text>
<text x="272.5" y="2190.4" font-family="Liberation Serif, Times New Roman, serif" font-size="61.5" text-anchor="end" fill="#000">1.2</text>
<text x="272.5" y="2356.3" font-family="Liberation Serif, Times New Roman, serif" font-size="61.5" text-anchor="end" fill="#000">1.0</text>
<text x="272.5" y="2522.2" font-family="Liberation Serif, Times New Roman, serif" font-size="61.5" text-anchor="end" fill="#000">0.8</text>
<text x="272.5" y="2688.2" font-family="Liberation Serif, Times New Roman, serif" font-size="61.5" text-anchor="end" fill="#000">0.6</text>
<text x="272.5" y="2854.1" font-family="Liberation Serif, Times New Roman, serif" font-size="61.5" text-anchor="end" fill="#000">0.4</text>
<text x="272.5" y="3020.1" font-family="Liberation Serif, Times New Roman, serif" font-size="61.5" text-anchor="end" fill="#000">0.2</text>
<text x="272.5" y="3186" font-family="Liberation Serif, Times New Roman, serif" font-size="61.5" text-anchor="end" fill="#000">0.0</text>
<text x="325.5" y="3258" font-family="Liberation Serif, Times New Roman, serif" font-size="61.5" text-anchor="middle" fill="#000">60</text>
<text x="569.1" y="3258" font-family="Liberation Serif, Times New Roman, serif" font-size="61.5" text-anchor="middle" fill="#000">65</text>
<text x="810" y="3258" font-family="Liberation Serif, Times New Roman, serif" font-size="61.5" text-anchor="middle" fill="#000">70</text>
<text x="1050.6" y="3258" font-family="Liberation Serif, Times New Roman, serif" font-size="61.5" text-anchor="middle" fill="#000">75</text>
<text x="1294.2" y="3258" font-family="Liberation Serif, Times New Roman, serif" font-size="61.5" text-anchor="middle" fill="#000">80</text>
<text x="1535" y="3258" font-family="Liberation Serif, Times New Roman, serif" font-size="61.5" text-anchor="middle" fill="#000">85</text>
<text x="1778.5" y="3258" font-family="Liberation Serif, Times New Roman, serif" font-size="61.5" text-anchor="middle" fill="#000">90</text>
<text x="2019.2" y="3258" font-family="Liberation Serif, Times New Roman, serif" font-size="61.5" text-anchor="middle" fill="#000">95</text>
<text x="2260" y="3258" font-family="Liberation Serif, Times New Roman, serif" font-size="61.5" text-anchor="middle" fill="#000">100</text>
<text x="1295.5" y="3346" font-family="Liberation Serif, Times New Roman, serif" font-size="60" text-anchor="middle" fill="#000" textLength="330" lengthAdjust="spacingAndGlyphs">Fan speed, %</text>
<text transform="translate(132.5,2526) rotate(-90)" font-family="Liberation Serif, Times New Roman, serif" font-size="60" text-anchor="middle" fill="#000" textLength="979" lengthAdjust="spacingAndGlyphs">Fan head ratio of measured to predicted</text>
<text x="1651" y="2926.8" font-family="Liberation Serif, Times New Roman, serif" font-size="60" fill="#000" textLength="568" lengthAdjust="spacingAndGlyphs">Loose belt speed range</text>
<rect x="941" y="2296.3" width="26.4" height="108.6" rx="13.2" fill="#ff0000"/>
<circle cx="954.2" cy="2302.5" r="12.2" fill="none" stroke="#ff0000" stroke-width="2"/>
<circle cx="954.2" cy="2398.7" r="12.2" fill="none" stroke="#ff0000" stroke-width="2"/>
<rect x="989.3" y="2308.7" width="26.4" height="136" rx="13.2" fill="#ff0000"/>
<circle cx="1002.5" cy="2314.9" r="12.2" fill="none" stroke="#ff0000" stroke-width="2"/>
<circle cx="1002.5" cy="2438.5" r="12.2" fill="none" stroke="#ff0000" stroke-width="2"/>
<rect x="1037.6" y="2331.1" width="26.4" height="76.3" rx="13.2" fill="#ff0000"/>
<circle cx="1050.8" cy="2337.3" r="12.2" fill="none" stroke="#ff0000" stroke-width="2"/>
<circle cx="1050.8" cy="2401.2" r="12.2" fill="none" stroke="#ff0000" stroke-width="2"/>
<rect x="1086" y="2331.1" width="26.4" height="97.9" rx="13.2" fill="#ff0000"/>
<circle cx="1099.2" cy="2337.3" r="12.2" fill="none" stroke="#ff0000" stroke-width="2"/>
<circle cx="1099.2" cy="2422.8" r="12.2" fill="none" stroke="#ff0000" stroke-width="2"/>
<rect x="1134.4" y="2313.7" width="26.4" height="82.9" rx="13.2" fill="#ff0000"/>
<circle cx="1147.6" cy="2319.9" r="12.2" fill="none" stroke="#ff0000" stroke-width="2"/>
<circle cx="1147.6" cy="2390.4" r="12.2" fill="none" stroke="#ff0000" stroke-width="2"/>
<rect x="1182.7" y="2319.5" width="26.4" height="90.4" rx="13.2" fill="#ff0000"/>
<circle cx="1195.9" cy="2325.7" r="12.2" fill="none" stroke="#ff0000" stroke-width="2"/>
<circle cx="1195.9" cy="2403.7" r="12.2" fill="none" stroke="#ff0000" stroke-width="2"/>
<rect x="1231" y="2301.2" width="26.4" height="119.4" rx="13.2" fill="#ff0000"/>
<circle cx="1244.2" cy="2307.4" r="12.2" fill="none" stroke="#ff0000" stroke-width="2"/>
<circle cx="1244.2" cy="2414.5" r="12.2" fill="none" stroke="#ff0000" stroke-width="2"/>
<rect x="1279.4" y="2306.2" width="26.4" height="90.4" rx="13.2" fill="#ff0000"/>
<circle cx="1292.6" cy="2312.4" r="12.2" fill="none" stroke="#ff0000" stroke-width="2"/>
<circle cx="1292.6" cy="2390.4" r="12.2" fill="none" stroke="#ff0000" stroke-width="2"/>
<rect x="1327.8" y="2283" width="26.4" height="124.4" rx="13.2" fill="#ff0000"/>
<circle cx="1341" cy="2289.2" r="12.2" fill="none" stroke="#ff0000" stroke-width="2"/>
<circle cx="1341" cy="2401.2" r="12.2" fill="none" stroke="#ff0000" stroke-width="2"/>
<rect x="1376.1" y="2290.5" width="26.4" height="102.8" rx="13.2" fill="#ff0000"/>
<circle cx="1389.3" cy="2296.7" r="12.2" fill="none" stroke="#ff0000" stroke-width="2"/>
<circle cx="1389.3" cy="2387.1" r="12.2" fill="none" stroke="#ff0000" stroke-width="2"/>
<rect x="1424.5" y="2288" width="26.4" height="108.6" rx="13.2" fill="#ff0000"/>
<circle cx="1437.7" cy="2294.2" r="12.2" fill="none" stroke="#ff0000" stroke-width="2"/>
<circle cx="1437.7" cy="2390.4" r="12.2" fill="none" stroke="#ff0000" stroke-width="2"/>
<rect x="1472.8" y="2290.5" width="26.4" height="100.3" rx="13.2" fill="#ff0000"/>
<circle cx="1486" cy="2296.7" r="12.2" fill="none" stroke="#ff0000" stroke-width="2"/>
<circle cx="1486" cy="2384.6" r="12.2" fill="none" stroke="#ff0000" stroke-width="2"/>
<rect x="1521.1" y="2290.5" width="26.4" height="97.9" rx="13.2" fill="#ff0000"/>
<circle cx="1534.3" cy="2296.7" r="12.2" fill="none" stroke="#ff0000" stroke-width="2"/>
<circle cx="1534.3" cy="2382.1" r="12.2" fill="none" stroke="#ff0000" stroke-width="2"/>
<rect x="1569.5" y="2293.8" width="26.4" height="87.9" rx="13.2" fill="#ff0000"/>
<circle cx="1582.7" cy="2300" r="12.2" fill="none" stroke="#ff0000" stroke-width="2"/>
<circle cx="1582.7" cy="2375.5" r="12.2" fill="none" stroke="#ff0000" stroke-width="2"/>
<rect x="1617.9" y="2278" width="26.4" height="102.8" rx="13.2" fill="#ff0000"/>
<circle cx="1631.1" cy="2284.2" r="12.2" fill="none" stroke="#ff0000" stroke-width="2"/>
<circle cx="1631.1" cy="2374.6" r="12.2" fill="none" stroke="#ff0000" stroke-width="2"/>
<rect x="1666.2" y="2280.5" width="26.4" height="126.9" rx="13.2" fill="#ff0000"/>
<circle cx="1679.4" cy="2286.7" r="12.2" fill="none" stroke="#ff0000" stroke-width="2"/>
<circle cx="1679.4" cy="2401.2" r="12.2" fill="none" stroke="#ff0000" stroke-width="2"/>
<rect x="1714.5" y="2293.8" width="26.4" height="107.8" rx="13.2" fill="#ff0000"/>
<circle cx="1727.8" cy="2300" r="12.2" fill="none" stroke="#ff0000" stroke-width="2"/>
<circle cx="1727.8" cy="2395.4" r="12.2" fill="none" stroke="#ff0000" stroke-width="2"/>
<rect x="1762.9" y="2306.2" width="26.4" height="82.1" rx="13.2" fill="#ff0000"/>
<circle cx="1776.1" cy="2312.4" r="12.2" fill="none" stroke="#ff0000" stroke-width="2"/>
<circle cx="1776.1" cy="2382.1" r="12.2" fill="none" stroke="#ff0000" stroke-width="2"/>
<rect x="1811.3" y="2306.2" width="26.4" height="99.5" rx="13.2" fill="#ff0000"/>
<circle cx="1824.5" cy="2312.4" r="12.2" fill="none" stroke="#ff0000" stroke-width="2"/>
<circle cx="1824.5" cy="2399.5" r="12.2" fill="none" stroke="#ff0000" stroke-width="2"/>
<rect x="1859.6" y="2316.2" width="26.4" height="259.6" rx="13.2" fill="#ff0000"/>
<circle cx="1872.8" cy="2322.4" r="12.2" fill="none" stroke="#ff0000" stroke-width="2"/>
<circle cx="1872.8" cy="2569.6" r="12.2" fill="none" stroke="#ff0000" stroke-width="2"/>
<rect x="1908" y="2317" width="26.4" height="82.1" rx="13.2" fill="#ff0000"/>
<circle cx="1921.2" cy="2323.2" r="12.2" fill="none" stroke="#ff0000" stroke-width="2"/>
<circle cx="1921.2" cy="2392.9" r="12.2" fill="none" stroke="#ff0000" stroke-width="2"/>
<rect x="1956.3" y="2322.8" width="26.4" height="83.8" rx="13.2" fill="#ff0000"/>
<circle cx="1969.5" cy="2329" r="12.2" fill="none" stroke="#ff0000" stroke-width="2"/>
<circle cx="1969.5" cy="2400.4" r="12.2" fill="none" stroke="#ff0000" stroke-width="2"/>
<rect x="2053" y="2348.5" width="26.4" height="46.4" rx="13.2" fill="#ff0000"/>
<circle cx="2066.2" cy="2354.7" r="12.2" fill="none" stroke="#ff0000" stroke-width="2"/>
<circle cx="2066.2" cy="2388.8" r="12.2" fill="none" stroke="#ff0000" stroke-width="2"/>
<rect x="2246.4" y="2445.6" width="26.4" height="291.2" rx="13.2" fill="#ff0000"/>
<circle cx="2259.6" cy="2451.8" r="12.2" fill="none" stroke="#ff0000" stroke-width="2"/>
<circle cx="2259.6" cy="2730.6" r="12.2" fill="none" stroke="#ff0000" stroke-width="2"/>
<rect x="1811.3" y="2505.3" width="26.4" height="49.7" rx="13.2" fill="#ff0000"/>
<circle cx="1824.5" cy="2511.5" r="12.2" fill="none" stroke="#ff0000" stroke-width="2"/>
<circle cx="1824.5" cy="2548.9" r="12.2" fill="none" stroke="#ff0000" stroke-width="2"/>
<rect x="2246.4" y="2376.7" width="26.4" height="45.6" rx="13.2" fill="#ff0000"/>
<circle cx="2259.6" cy="2382.9" r="12.2" fill="none" stroke="#ff0000" stroke-width="2"/>
<circle cx="2259.6" cy="2416.1" r="12.2" fill="none" stroke="#ff0000" stroke-width="2"/>
<circle cx="325.6" cy="2173.9" r="12.2" fill="none" stroke="#ff0000" stroke-width="2"/>
<circle cx="325.6" cy="2373.8" r="12.2" fill="none" stroke="#ff0000" stroke-width="2"/>
<circle cx="374" cy="2210.4" r="12.2" fill="none" stroke="#ff0000" stroke-width="2"/>
<circle cx="374" cy="2230.3" r="12.2" fill="none" stroke="#ff0000" stroke-width="2"/>
<circle cx="519" cy="2320.7" r="12.2" fill="none" stroke="#ff0000" stroke-width="2"/>
<circle cx="567.4" cy="2315.7" r="12.2" fill="none" stroke="#ff0000" stroke-width="2"/>
<circle cx="567.4" cy="2379.6" r="12.2" fill="none" stroke="#ff0000" stroke-width="2"/>
<circle cx="615.7" cy="2341.5" r="12.2" fill="none" stroke="#ff0000" stroke-width="2"/>
<circle cx="712.4" cy="2390.4" r="12.2" fill="none" stroke="#ff0000" stroke-width="2"/>
<circle cx="760.8" cy="2323.2" r="12.2" fill="none" stroke="#ff0000" stroke-width="2"/>
<circle cx="809.1" cy="2328.2" r="12.2" fill="none" stroke="#ff0000" stroke-width="2"/>
<circle cx="809.1" cy="2337.3" r="12.2" fill="none" stroke="#ff0000" stroke-width="2"/>
<circle cx="809.1" cy="2349.8" r="12.2" fill="none" stroke="#ff0000" stroke-width="2"/>
<circle cx="905.8" cy="2296.7" r="12.2" fill="none" stroke="#ff0000" stroke-width="2"/>
<circle cx="954.2" cy="2149.8" r="12.2" fill="none" stroke="#ff0000" stroke-width="2"/>
<circle cx="954.2" cy="2286.7" r="12.2" fill="none" stroke="#ff0000" stroke-width="2"/>
<circle cx="954.2" cy="2398.7" r="12.2" fill="none" stroke="#ff0000" stroke-width="2"/>
<circle cx="1002.5" cy="2314.9" r="12.2" fill="none" stroke="#ff0000" stroke-width="2"/>
<circle cx="1002.5" cy="2438.5" r="12.2" fill="none" stroke="#ff0000" stroke-width="2"/>
<circle cx="1050.8" cy="2149.8" r="12.2" fill="none" stroke="#ff0000" stroke-width="2"/>
<circle cx="1050.8" cy="2326.5" r="12.2" fill="none" stroke="#ff0000" stroke-width="2"/>
<circle cx="1050.8" cy="2337.3" r="12.2" fill="none" stroke="#ff0000" stroke-width="2"/>
<circle cx="1050.8" cy="2401.2" r="12.2" fill="none" stroke="#ff0000" stroke-width="2"/>
<circle cx="1099.2" cy="2323.2" r="12.2" fill="none" stroke="#ff0000" stroke-width="2"/>
<circle cx="1099.2" cy="2422.8" r="12.2" fill="none" stroke="#ff0000" stroke-width="2"/>
<circle cx="1147.6" cy="2319.9" r="12.2" fill="none" stroke="#ff0000" stroke-width="2"/>
<circle cx="1147.6" cy="2420.3" r="12.2" fill="none" stroke="#ff0000" stroke-width="2"/>
<circle cx="1147.6" cy="2430.2" r="12.2" fill="none" stroke="#ff0000" stroke-width="2"/>
<circle cx="1147.6" cy="2390.4" r="12.2" fill="none" stroke="#ff0000" stroke-width="2"/>
<circle cx="1195.9" cy="2325.7" r="12.2" fill="none" stroke="#ff0000" stroke-width="2"/>
<circle cx="1195.9" cy="2403.7" r="12.2" fill="none" stroke="#ff0000" stroke-width="2"/>
<circle cx="1244.2" cy="2307.4" r="12.2" fill="none" stroke="#ff0000" stroke-width="2"/>
<circle cx="1244.2" cy="2414.5" r="12.2" fill="none" stroke="#ff0000" stroke-width="2"/>
<circle cx="1292.6" cy="2283.4" r="12.2" fill="none" stroke="#ff0000" stroke-width="2"/>
<circle cx="1292.6" cy="2312.4" r="12.2" fill="none" stroke="#ff0000" stroke-width="2"/>
<circle cx="1292.6" cy="2390.4" r="12.2" fill="none" stroke="#ff0000" stroke-width="2"/>
<circle cx="1341" cy="2289.2" r="12.2" fill="none" stroke="#ff0000" stroke-width="2"/>
<circle cx="1341" cy="2401.2" r="12.2" fill="none" stroke="#ff0000" stroke-width="2"/>
<circle cx="1341" cy="2449.3" r="12.2" fill="none" stroke="#ff0000" stroke-width="2"/>
<circle cx="1389.3" cy="2248.5" r="12.2" fill="none" stroke="#ff0000" stroke-width="2"/>
<circle cx="1389.3" cy="2296.7" r="12.2" fill="none" stroke="#ff0000" stroke-width="2"/>
<circle cx="1389.3" cy="2387.1" r="12.2" fill="none" stroke="#ff0000" stroke-width="2"/>
<circle cx="1437.7" cy="2294.2" r="12.2" fill="none" stroke="#ff0000" stroke-width="2"/>
<circle cx="1437.7" cy="2390.4" r="12.2" fill="none" stroke="#ff0000" stroke-width="2"/>
<circle cx="1437.7" cy="2500.8" r="12.2" fill="none" stroke="#ff0000" stroke-width="2"/>
<circle cx="1437.7" cy="2504.1" r="12.2" fill="none" stroke="#ff0000" stroke-width="2"/>
<circle cx="1486" cy="2188.8" r="12.2" fill="none" stroke="#ff0000" stroke-width="2"/>
<circle cx="1486" cy="2283.4" r="12.2" fill="none" stroke="#ff0000" stroke-width="2"/>
<circle cx="1486" cy="2384.6" r="12.2" fill="none" stroke="#ff0000" stroke-width="2"/>
<circle cx="1486" cy="2409.5" r="12.2" fill="none" stroke="#ff0000" stroke-width="2"/>
<circle cx="1486" cy="2519" r="12.2" fill="none" stroke="#ff0000" stroke-width="2"/>
<circle cx="1534.3" cy="2296.7" r="12.2" fill="none" stroke="#ff0000" stroke-width="2"/>
<circle cx="1534.3" cy="2382.1" r="12.2" fill="none" stroke="#ff0000" stroke-width="2"/>
<circle cx="1534.3" cy="2515.7" r="12.2" fill="none" stroke="#ff0000" stroke-width="2"/>
<circle cx="1582.7" cy="2287.5" r="12.2" fill="none" stroke="#ff0000" stroke-width="2"/>
<circle cx="1582.7" cy="2375.5" r="12.2" fill="none" stroke="#ff0000" stroke-width="2"/>
<circle cx="1582.7" cy="2412" r="12.2" fill="none" stroke="#ff0000" stroke-width="2"/>
<circle cx="1631.1" cy="2284.2" r="12.2" fill="none" stroke="#ff0000" stroke-width="2"/>
<circle cx="1631.1" cy="2374.6" r="12.2" fill="none" stroke="#ff0000" stroke-width="2"/>
<circle cx="1631.1" cy="2529" r="12.2" fill="none" stroke="#ff0000" stroke-width="2"/>
<circle cx="1679.4" cy="2286.7" r="12.2" fill="none" stroke="#ff0000" stroke-width="2"/>
<circle cx="1679.4" cy="2401.2" r="12.2" fill="none" stroke="#ff0000" stroke-width="2"/>
<circle cx="1727.8" cy="2300" r="12.2" fill="none" stroke="#ff0000" stroke-width="2"/>
<circle cx="1727.8" cy="2406.2" r="12.2" fill="none" stroke="#ff0000" stroke-width="2"/>
<circle cx="1727.8" cy="2395.4" r="12.2" fill="none" stroke="#ff0000" stroke-width="2"/>
<circle cx="1776.1" cy="2312.4" r="12.2" fill="none" stroke="#ff0000" stroke-width="2"/>
<circle cx="1776.1" cy="2382.1" r="12.2" fill="none" stroke="#ff0000" stroke-width="2"/>
<circle cx="1776.1" cy="2591.2" r="12.2" fill="none" stroke="#ff0000" stroke-width="2"/>
<circle cx="1824.5" cy="2312.4" r="12.2" fill="none" stroke="#ff0000" stroke-width="2"/>
<circle cx="1824.5" cy="2460.9" r="12.2" fill="none" stroke="#ff0000" stroke-width="2"/>
<circle cx="1824.5" cy="2445.2" r="12.2" fill="none" stroke="#ff0000" stroke-width="2"/>
<circle cx="1824.5" cy="2428.6" r="12.2" fill="none" stroke="#ff0000" stroke-width="2"/>
<circle cx="1824.5" cy="2503.2" r="12.2" fill="none" stroke="#ff0000" stroke-width="2"/>
<circle cx="1824.5" cy="2519.8" r="12.2" fill="none" stroke="#ff0000" stroke-width="2"/>
<circle cx="1824.5" cy="2536.4" r="12.2" fill="none" stroke="#ff0000" stroke-width="2"/>
<circle cx="1824.5" cy="2553" r="12.2" fill="none" stroke="#ff0000" stroke-width="2"/>
<circle cx="1824.5" cy="2568" r="12.2" fill="none" stroke="#ff0000" stroke-width="2"/>
<circle cx="1824.5" cy="2594.5" r="12.2" fill="none" stroke="#ff0000" stroke-width="2"/>
<circle cx="1824.5" cy="2611.1" r="12.2" fill="none" stroke="#ff0000" stroke-width="2"/>
<circle cx="1824.5" cy="2631.9" r="12.2" fill="none" stroke="#ff0000" stroke-width="2"/>
<circle cx="1824.5" cy="2399.5" r="12.2" fill="none" stroke="#ff0000" stroke-width="2"/>
<circle cx="1824.5" cy="2404.5" r="12.2" fill="none" stroke="#ff0000" stroke-width="2"/>
<circle cx="1824.5" cy="2409.5" r="12.2" fill="none" stroke="#ff0000" stroke-width="2"/>
<circle cx="1824.5" cy="2414.5" r="12.2" fill="none" stroke="#ff0000" stroke-width="2"/>
<circle cx="1824.5" cy="2419.5" r="12.2" fill="none" stroke="#ff0000" stroke-width="2"/>
<circle cx="1824.5" cy="2424.4" r="12.2" fill="none" stroke="#ff0000" stroke-width="2"/>
<circle cx="1824.5" cy="2429.4" r="12.2" fill="none" stroke="#ff0000" stroke-width="2"/>
<circle cx="1824.5" cy="2434.4" r="12.2" fill="none" stroke="#ff0000" stroke-width="2"/>
<circle cx="1824.5" cy="2439.4" r="12.2" fill="none" stroke="#ff0000" stroke-width="2"/>
<circle cx="1824.5" cy="2444.3" r="12.2" fill="none" stroke="#ff0000" stroke-width="2"/>
<circle cx="1824.5" cy="2449.3" r="12.2" fill="none" stroke="#ff0000" stroke-width="2"/>
<circle cx="1824.5" cy="2454.3" r="12.2" fill="none" stroke="#ff0000" stroke-width="2"/>
<circle cx="1824.5" cy="2459.3" r="12.2" fill="none" stroke="#ff0000" stroke-width="2"/>
<circle cx="1824.5" cy="2499.9" r="12.2" fill="none" stroke="#ff0000" stroke-width="2"/>
<circle cx="1824.5" cy="2548.9" r="12.2" fill="none" stroke="#ff0000" stroke-width="2"/>
<circle cx="1824.5" cy="2553.9" r="12.2" fill="none" stroke="#ff0000" stroke-width="2"/>
<circle cx="1824.5" cy="2558.8" r="12.2" fill="none" stroke="#ff0000" stroke-width="2"/>
<circle cx="1824.5" cy="2563.8" r="12.2" fill="none" stroke="#ff0000" stroke-width="2"/>
<circle cx="1824.5" cy="2568.8" r="12.2" fill="none" stroke="#ff0000" stroke-width="2"/>
<circle cx="1824.5" cy="2573.8" r="12.2" fill="none" stroke="#ff0000" stroke-width="2"/>
<circle cx="1824.5" cy="2578.8" r="12.2" fill="none" stroke="#ff0000" stroke-width="2"/>
<circle cx="1824.5" cy="2583.7" r="12.2" fill="none" stroke="#ff0000" stroke-width="2"/>
<circle cx="1824.5" cy="2598.7" r="12.2" fill="none" stroke="#ff0000" stroke-width="2"/>
<circle cx="1824.5" cy="2611.1" r="12.2" fill="none" stroke="#ff0000" stroke-width="2"/>
<circle cx="1824.5" cy="2631.9" r="12.2" fill="none" stroke="#ff0000" stroke-width="2"/>
<circle cx="1872.8" cy="2322.4" r="12.2" fill="none" stroke="#ff0000" stroke-width="2"/>
<circle cx="1872.8" cy="2607" r="12.2" fill="none" stroke="#ff0000" stroke-width="2"/>
<circle cx="1872.8" cy="2594.5" r="12.2" fill="none" stroke="#ff0000" stroke-width="2"/>
<circle cx="1872.8" cy="2586.2" r="12.2" fill="none" stroke="#ff0000" stroke-width="2"/>
<circle cx="1921.2" cy="2323.2" r="12.2" fill="none" stroke="#ff0000" stroke-width="2"/>
<circle cx="1921.2" cy="2416.1" r="12.2" fill="none" stroke="#ff0000" stroke-width="2"/>
<circle cx="1921.2" cy="2432.7" r="12.2" fill="none" stroke="#ff0000" stroke-width="2"/>
<circle cx="1921.2" cy="2457.6" r="12.2" fill="none" stroke="#ff0000" stroke-width="2"/>
<circle cx="1921.2" cy="2470.1" r="12.2" fill="none" stroke="#ff0000" stroke-width="2"/>
<circle cx="1921.2" cy="2410.3" r="12.2" fill="none" stroke="#ff0000" stroke-width="2"/>
<circle cx="1921.2" cy="2428.6" r="12.2" fill="none" stroke="#ff0000" stroke-width="2"/>
<circle cx="1969.5" cy="2329" r="12.2" fill="none" stroke="#ff0000" stroke-width="2"/>
<circle cx="1969.5" cy="2424.4" r="12.2" fill="none" stroke="#ff0000" stroke-width="2"/>
<circle cx="1969.5" cy="2441.9" r="12.2" fill="none" stroke="#ff0000" stroke-width="2"/>
<circle cx="1969.5" cy="2476.7" r="12.2" fill="none" stroke="#ff0000" stroke-width="2"/>
<circle cx="1969.5" cy="2417" r="12.2" fill="none" stroke="#ff0000" stroke-width="2"/>
<circle cx="2017.8" cy="2323.2" r="12.2" fill="none" stroke="#ff0000" stroke-width="2"/>
<circle cx="2017.8" cy="2337.3" r="12.2" fill="none" stroke="#ff0000" stroke-width="2"/>
<circle cx="2017.8" cy="2353.9" r="12.2" fill="none" stroke="#ff0000" stroke-width="2"/>
<circle cx="2017.8" cy="2370.5" r="12.2" fill="none" stroke="#ff0000" stroke-width="2"/>
<circle cx="2017.8" cy="2387.1" r="12.2" fill="none" stroke="#ff0000" stroke-width="2"/>
<circle cx="2017.8" cy="2403.7" r="12.2" fill="none" stroke="#ff0000" stroke-width="2"/>
<circle cx="2017.8" cy="2420.3" r="12.2" fill="none" stroke="#ff0000" stroke-width="2"/>
<circle cx="2017.8" cy="2432.7" r="12.2" fill="none" stroke="#ff0000" stroke-width="2"/>
<circle cx="2017.8" cy="2605.3" r="12.2" fill="none" stroke="#ff0000" stroke-width="2"/>
<circle cx="2017.8" cy="2650.1" r="12.2" fill="none" stroke="#ff0000" stroke-width="2"/>
<circle cx="2017.8" cy="2323.2" r="12.2" fill="none" stroke="#ff0000" stroke-width="2"/>
<circle cx="2017.8" cy="2328.2" r="12.2" fill="none" stroke="#ff0000" stroke-width="2"/>
<circle cx="2017.8" cy="2333.2" r="12.2" fill="none" stroke="#ff0000" stroke-width="2"/>
<circle cx="2017.8" cy="2338.1" r="12.2" fill="none" stroke="#ff0000" stroke-width="2"/>
<circle cx="2017.8" cy="2343.1" r="12.2" fill="none" stroke="#ff0000" stroke-width="2"/>
<circle cx="2017.8" cy="2348.1" r="12.2" fill="none" stroke="#ff0000" stroke-width="2"/>
<circle cx="2017.8" cy="2353.1" r="12.2" fill="none" stroke="#ff0000" stroke-width="2"/>
<circle cx="2017.8" cy="2358.1" r="12.2" fill="none" stroke="#ff0000" stroke-width="2"/>
<circle cx="2017.8" cy="2363" r="12.2" fill="none" stroke="#ff0000" stroke-width="2"/>
<circle cx="2017.8" cy="2368" r="12.2" fill="none" stroke="#ff0000" stroke-width="2"/>
<circle cx="2017.8" cy="2373" r="12.2" fill="none" stroke="#ff0000" stroke-width="2"/>
<circle cx="2017.8" cy="2378" r="12.2" fill="none" stroke="#ff0000" stroke-width="2"/>
<circle cx="2017.8" cy="2382.9" r="12.2" fill="none" stroke="#ff0000" stroke-width="2"/>
<circle cx="2017.8" cy="2387.9" r="12.2" fill="none" stroke="#ff0000" stroke-width="2"/>
<circle cx="2017.8" cy="2392.9" r="12.2" fill="none" stroke="#ff0000" stroke-width="2"/>
<circle cx="2017.8" cy="2397.9" r="12.2" fill="none" stroke="#ff0000" stroke-width="2"/>
<circle cx="2017.8" cy="2402.9" r="12.2" fill="none" stroke="#ff0000" stroke-width="2"/>
<circle cx="2017.8" cy="2407.8" r="12.2" fill="none" stroke="#ff0000" stroke-width="2"/>
<circle cx="2017.8" cy="2412.8" r="12.2" fill="none" stroke="#ff0000" stroke-width="2"/>
<circle cx="2017.8" cy="2417.8" r="12.2" fill="none" stroke="#ff0000" stroke-width="2"/>
<circle cx="2017.8" cy="2422.8" r="12.2" fill="none" stroke="#ff0000" stroke-width="2"/>
<circle cx="2017.8" cy="2427.7" r="12.2" fill="none" stroke="#ff0000" stroke-width="2"/>
<circle cx="2017.8" cy="2432.7" r="12.2" fill="none" stroke="#ff0000" stroke-width="2"/>
<circle cx="2066.2" cy="2326.5" r="12.2" fill="none" stroke="#ff0000" stroke-width="2"/>
<circle cx="2066.2" cy="2345.6" r="12.2" fill="none" stroke="#ff0000" stroke-width="2"/>
<circle cx="2066.2" cy="2426.1" r="12.2" fill="none" stroke="#ff0000" stroke-width="2"/>
<circle cx="2066.2" cy="2412" r="12.2" fill="none" stroke="#ff0000" stroke-width="2"/>
<circle cx="2066.2" cy="2515.7" r="12.2" fill="none" stroke="#ff0000" stroke-width="2"/>
<circle cx="2066.2" cy="2522.3" r="12.2" fill="none" stroke="#ff0000" stroke-width="2"/>
<circle cx="2066.2" cy="2533.1" r="12.2" fill="none" stroke="#ff0000" stroke-width="2"/>
<circle cx="2066.2" cy="2391.2" r="12.2" fill="none" stroke="#ff0000" stroke-width="2"/>
<circle cx="2066.2" cy="2396.2" r="12.2" fill="none" stroke="#ff0000" stroke-width="2"/>
<circle cx="2066.2" cy="2401.2" r="12.2" fill="none" stroke="#ff0000" stroke-width="2"/>
<circle cx="2066.2" cy="2406.2" r="12.2" fill="none" stroke="#ff0000" stroke-width="2"/>
<circle cx="2066.2" cy="2411.2" r="12.2" fill="none" stroke="#ff0000" stroke-width="2"/>
<circle cx="2066.2" cy="2416.1" r="12.2" fill="none" stroke="#ff0000" stroke-width="2"/>
<circle cx="2066.2" cy="2421.1" r="12.2" fill="none" stroke="#ff0000" stroke-width="2"/>
<circle cx="2066.2" cy="2426.1" r="12.2" fill="none" stroke="#ff0000" stroke-width="2"/>
<circle cx="2114.6" cy="2344.8" r="12.2" fill="none" stroke="#ff0000" stroke-width="2"/>
<circle cx="2114.6" cy="2358.1" r="12.2" fill="none" stroke="#ff0000" stroke-width="2"/>
<circle cx="2114.6" cy="2370.5" r="12.2" fill="none" stroke="#ff0000" stroke-width="2"/>
<circle cx="2114.6" cy="2378.8" r="12.2" fill="none" stroke="#ff0000" stroke-width="2"/>
<circle cx="2114.6" cy="2391.2" r="12.2" fill="none" stroke="#ff0000" stroke-width="2"/>
<circle cx="2114.6" cy="2484.2" r="12.2" fill="none" stroke="#ff0000" stroke-width="2"/>
<circle cx="2114.6" cy="2489.1" r="12.2" fill="none" stroke="#ff0000" stroke-width="2"/>
<circle cx="2114.6" cy="2344.8" r="12.2" fill="none" stroke="#ff0000" stroke-width="2"/>
<circle cx="2114.6" cy="2349.8" r="12.2" fill="none" stroke="#ff0000" stroke-width="2"/>
<circle cx="2114.6" cy="2354.7" r="12.2" fill="none" stroke="#ff0000" stroke-width="2"/>
<circle cx="2114.6" cy="2359.7" r="12.2" fill="none" stroke="#ff0000" stroke-width="2"/>
<circle cx="2114.6" cy="2364.7" r="12.2" fill="none" stroke="#ff0000" stroke-width="2"/>
<circle cx="2114.6" cy="2369.7" r="12.2" fill="none" stroke="#ff0000" stroke-width="2"/>
<circle cx="2114.6" cy="2374.6" r="12.2" fill="none" stroke="#ff0000" stroke-width="2"/>
<circle cx="2114.6" cy="2379.6" r="12.2" fill="none" stroke="#ff0000" stroke-width="2"/>
<circle cx="2114.6" cy="2384.6" r="12.2" fill="none" stroke="#ff0000" stroke-width="2"/>
<circle cx="2114.6" cy="2389.6" r="12.2" fill="none" stroke="#ff0000" stroke-width="2"/>
<circle cx="2162.9" cy="2357.2" r="12.2" fill="none" stroke="#ff0000" stroke-width="2"/>
<circle cx="2162.9" cy="2370.5" r="12.2" fill="none" stroke="#ff0000" stroke-width="2"/>
<circle cx="2162.9" cy="2382.9" r="12.2" fill="none" stroke="#ff0000" stroke-width="2"/>
<circle cx="2162.9" cy="2395.4" r="12.2" fill="none" stroke="#ff0000" stroke-width="2"/>
<circle cx="2162.9" cy="2406.2" r="12.2" fill="none" stroke="#ff0000" stroke-width="2"/>
<circle cx="2162.9" cy="2472.6" r="12.2" fill="none" stroke="#ff0000" stroke-width="2"/>
<circle cx="2162.9" cy="2478.4" r="12.2" fill="none" stroke="#ff0000" stroke-width="2"/>
<circle cx="2162.9" cy="2545.6" r="12.2" fill="none" stroke="#ff0000" stroke-width="2"/>
<circle cx="2162.9" cy="2657.6" r="12.2" fill="none" stroke="#ff0000" stroke-width="2"/>
<circle cx="2211.2" cy="2348.1" r="12.2" fill="none" stroke="#ff0000" stroke-width="2"/>
<circle cx="2211.2" cy="2358.1" r="12.2" fill="none" stroke="#ff0000" stroke-width="2"/>
<circle cx="2211.2" cy="2370.5" r="12.2" fill="none" stroke="#ff0000" stroke-width="2"/>
<circle cx="2211.2" cy="2380.5" r="12.2" fill="none" stroke="#ff0000" stroke-width="2"/>
<circle cx="2211.2" cy="2433.6" r="12.2" fill="none" stroke="#ff0000" stroke-width="2"/>
<circle cx="2211.2" cy="2450.2" r="12.2" fill="none" stroke="#ff0000" stroke-width="2"/>
<circle cx="2211.2" cy="2486.7" r="12.2" fill="none" stroke="#ff0000" stroke-width="2"/>
<circle cx="2211.2" cy="2505.7" r="12.2" fill="none" stroke="#ff0000" stroke-width="2"/>
<circle cx="2211.2" cy="2514" r="12.2" fill="none" stroke="#ff0000" stroke-width="2"/>
<circle cx="2211.2" cy="2522.3" r="12.2" fill="none" stroke="#ff0000" stroke-width="2"/>
<circle cx="2211.2" cy="2527.3" r="12.2" fill="none" stroke="#ff0000" stroke-width="2"/>
<circle cx="2211.2" cy="2541.4" r="12.2" fill="none" stroke="#ff0000" stroke-width="2"/>
<circle cx="2211.2" cy="2596.2" r="12.2" fill="none" stroke="#ff0000" stroke-width="2"/>
<circle cx="2211.2" cy="2348.1" r="12.2" fill="none" stroke="#ff0000" stroke-width="2"/>
<circle cx="2211.2" cy="2353.1" r="12.2" fill="none" stroke="#ff0000" stroke-width="2"/>
<circle cx="2211.2" cy="2358.1" r="12.2" fill="none" stroke="#ff0000" stroke-width="2"/>
<circle cx="2211.2" cy="2363" r="12.2" fill="none" stroke="#ff0000" stroke-width="2"/>
<circle cx="2211.2" cy="2368" r="12.2" fill="none" stroke="#ff0000" stroke-width="2"/>
<circle cx="2211.2" cy="2373" r="12.2" fill="none" stroke="#ff0000" stroke-width="2"/>
<circle cx="2211.2" cy="2378" r="12.2" fill="none" stroke="#ff0000" stroke-width="2"/>
<circle cx="2259.6" cy="2377.1" r="12.2" fill="none" stroke="#ff0000" stroke-width="2"/>
<circle cx="2259.6" cy="2387.1" r="12.2" fill="none" stroke="#ff0000" stroke-width="2"/>
<circle cx="2259.6" cy="2399.5" r="12.2" fill="none" stroke="#ff0000" stroke-width="2"/>
<circle cx="2259.6" cy="2412" r="12.2" fill="none" stroke="#ff0000" stroke-width="2"/>
<circle cx="2259.6" cy="2422.8" r="12.2" fill="none" stroke="#ff0000" stroke-width="2"/>
<circle cx="2259.6" cy="2451.8" r="12.2" fill="none" stroke="#ff0000" stroke-width="2"/>
<circle cx="2259.6" cy="2730.6" r="12.2" fill="none" stroke="#ff0000" stroke-width="2"/>
<text x="302.9" y="3494" font-family="Liberation Serif, serif" font-size="86" fill="#000" stroke="#fff" stroke-width="1.2" textLength="105.6" lengthAdjust="spacingAndGlyphs">(<tspan font-weight="bold">b</tspan>)</text>
<text x="427.1" y="3494" font-family="Liberation Serif, serif" font-size="86" fill="#000" stroke="#fff" stroke-width="1.2" textLength="198.4" lengthAdjust="spacingAndGlyphs">Ratio</text>
<text x="645.3" y="3494" font-family="Liberation Serif, serif" font-size="86" fill="#000" stroke="#fff" stroke-width="1.2" textLength="240.8" lengthAdjust="spacingAndGlyphs">versus</text>
<text x="903.9" y="3494" font-family="Liberation Serif, serif" font-size="86" fill="#000" stroke="#fff" stroke-width="1.2" textLength="123.2" lengthAdjust="spacingAndGlyphs">fan</text>
<text x="1041.3" y="3494" font-family="Liberation Serif, serif" font-size="86" fill="#000" stroke="#fff" stroke-width="1.2" textLength="219" lengthAdjust="spacingAndGlyphs">speed</text>
<text x="1279.1" y="3494" font-family="Liberation Serif, serif" font-size="86" fill="#000" stroke="#fff" stroke-width="1.2" textLength="77" lengthAdjust="spacingAndGlyphs">in</text>
<text x="1375.1" y="3494" font-family="Liberation Serif, serif" font-size="86" fill="#000" stroke="#fff" stroke-width="1.2" textLength="116.8" lengthAdjust="spacingAndGlyphs">the</text>
<text x="1509.7" y="3494" font-family="Liberation Serif, serif" font-size="86" fill="#000" stroke="#fff" stroke-width="1.2" textLength="215.4" lengthAdjust="spacingAndGlyphs">entire</text>
<text x="1744.9" y="3494" font-family="Liberation Serif, serif" font-size="86" fill="#000" stroke="#fff" stroke-width="1.2" textLength="129.8" lengthAdjust="spacingAndGlyphs">test</text>
<text x="1893.7" y="3494" font-family="Liberation Serif, serif" font-size="86" fill="#000" stroke="#fff" stroke-width="1.2" textLength="245.8" lengthAdjust="spacingAndGlyphs">period</text>
</svg>
</body></html>
